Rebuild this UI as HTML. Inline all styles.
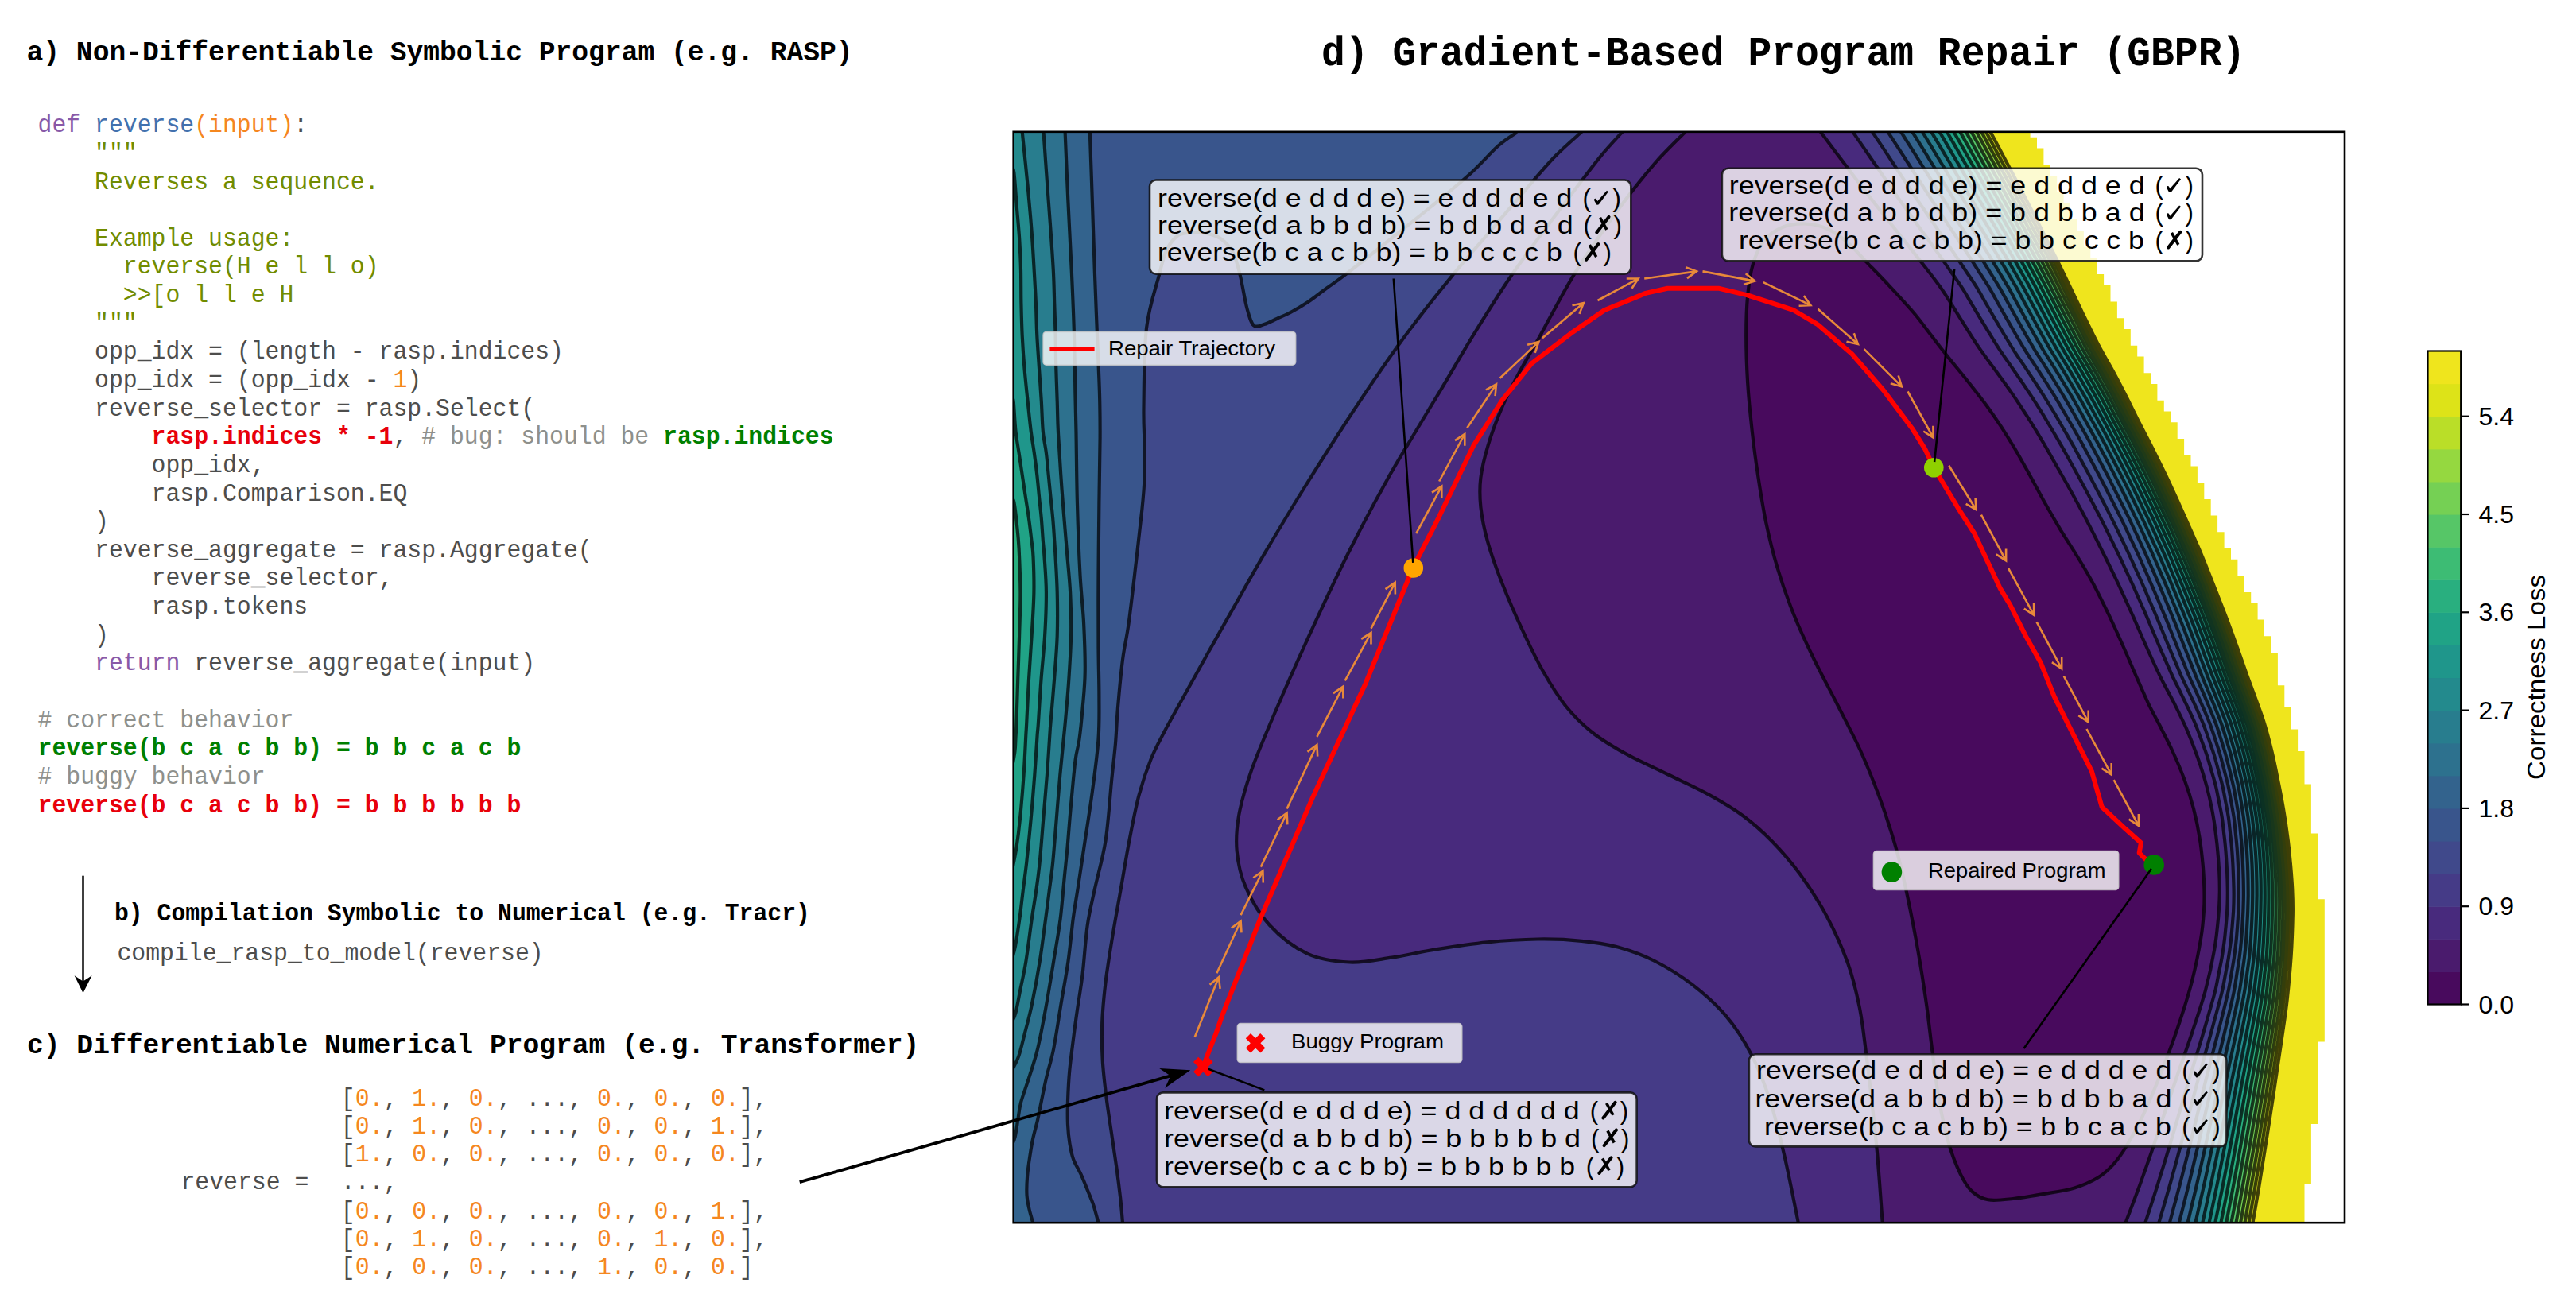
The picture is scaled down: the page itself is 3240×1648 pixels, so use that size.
<!DOCTYPE html><html><head><meta charset="utf-8"><title>GBPR</title><style>html,body{margin:0;padding:0;background:#fff;}svg{display:block;}text{white-space:pre;}</style></head><body>
<svg width="3240" height="1648" viewBox="0 0 3240 1648">
<rect width="3240" height="1648" fill="#fff"/>
<defs><clipPath id="pc"><rect x="1274.7" y="165.8" width="1674.3" height="1372.4"/></clipPath></defs>
<g clip-path="url(#pc)">
<rect x="1274.7" y="165.8" width="1674.3" height="1372.4" fill="#fff"/>
<path d="M1262.7 153.8L2553.6 153.8L2553.6 165.8L2553.6 172.7L2562 172.7L2562 179.6L2562 186.5L2570.4 186.5L2570.4 193.4L2570.4 200.3L2570.4 207.2L2578.8 207.2L2578.8 214.1L2578.8 221L2587.2 221L2587.2 227.9L2587.2 234.8L2587.2 241.7L2595.6 241.7L2595.6 248.6L2595.6 255.5L2604 255.5L2604 262.4L2604 269.2L2604 276.1L2612.5 276.1L2612.5 283L2612.5 289.9L2620.9 289.9L2620.9 296.8L2620.9 303.7L2620.9 310.6L2629.3 310.6L2629.3 317.5L2629.3 324.4L2637.7 324.4L2637.7 331.3L2637.7 338.2L2637.7 345.1L2646.1 345.1L2646.1 352L2646.1 358.9L2654.5 358.9L2654.5 365.8L2654.5 372.7L2654.5 379.6L2662.9 379.6L2662.9 386.5L2662.9 393.4L2662.9 400.3L2671.4 400.3L2671.4 407.2L2671.4 414.1L2679.8 414.1L2679.8 421L2679.8 427.9L2679.8 434.8L2688.2 434.8L2688.2 441.7L2688.2 448.6L2696.6 448.6L2696.6 455.5L2696.6 462.3L2696.6 469.2L2705 469.2L2705 476.1L2705 483L2713.4 483L2713.4 489.9L2713.4 496.8L2713.4 503.7L2721.8 503.7L2721.8 510.6L2721.8 517.5L2730.2 517.5L2730.2 524.4L2730.2 531.3L2738.7 531.3L2738.7 538.2L2738.7 545.1L2738.7 552L2747.1 552L2747.1 558.9L2747.1 565.8L2747.1 572.7L2755.5 572.7L2755.5 579.6L2755.5 586.5L2763.9 586.5L2763.9 593.4L2763.9 600.3L2763.9 607.2L2772.3 607.2L2772.3 614.1L2772.3 621L2772.3 627.9L2780.7 627.9L2780.7 634.8L2780.7 641.7L2780.7 648.6L2789.1 648.6L2789.1 655.5L2789.1 662.3L2789.1 669.2L2797.6 669.2L2797.6 676.1L2797.6 683L2797.6 689.9L2806 689.9L2806 696.8L2806 703.7L2814.4 703.7L2814.4 710.6L2814.4 717.5L2814.4 724.4L2822.8 724.4L2822.8 731.3L2822.8 738.2L2822.8 745.1L2831.2 745.1L2831.2 752L2831.2 758.9L2839.6 758.9L2839.6 765.8L2839.6 772.7L2839.6 779.6L2848 779.6L2848 786.5L2848 793.4L2848 800.3L2856.5 800.3L2856.5 807.2L2856.5 814.1L2856.5 821L2864.9 821L2864.9 827.9L2864.9 834.8L2864.9 841.7L2864.9 848.6L2864.9 855.4L2864.9 862.3L2873.3 862.3L2873.3 869.2L2873.3 876.1L2873.3 883L2873.3 889.9L2881.7 889.9L2881.7 896.8L2881.7 903.7L2881.7 910.6L2881.7 917.5L2890.1 917.5L2890.1 924.4L2890.1 931.3L2890.1 938.2L2890.1 945.1L2898.5 945.1L2898.5 952L2898.5 958.9L2898.5 965.8L2898.5 972.7L2898.5 979.6L2898.5 986.5L2906.9 986.5L2906.9 993.4L2906.9 1000.3L2906.9 1007.2L2906.9 1014.1L2906.9 1021L2906.9 1027.9L2906.9 1034.8L2906.9 1041.7L2906.9 1048.5L2915.3 1048.5L2915.3 1055.4L2915.3 1062.3L2915.3 1069.2L2915.3 1076.1L2915.3 1083L2915.3 1089.9L2915.3 1096.8L2915.3 1103.7L2915.3 1110.6L2915.3 1117.5L2915.3 1124.4L2915.3 1131.3L2923.8 1131.3L2923.8 1138.2L2923.8 1145.1L2923.8 1152L2923.8 1158.9L2923.8 1165.8L2923.8 1172.7L2923.8 1179.6L2923.8 1186.5L2923.8 1193.4L2923.8 1200.3L2923.8 1207.2L2923.8 1214.1L2923.8 1221L2923.8 1227.9L2923.8 1234.8L2923.8 1241.7L2923.8 1248.5L2923.8 1255.4L2923.8 1262.3L2923.8 1269.2L2923.8 1276.1L2923.8 1283L2923.8 1289.9L2923.8 1296.8L2923.8 1303.7L2923.8 1310.6L2915.3 1310.6L2915.3 1317.5L2915.3 1324.4L2915.3 1331.3L2915.3 1338.2L2915.3 1345.1L2915.3 1352L2915.3 1358.9L2915.3 1365.8L2915.3 1372.7L2915.3 1379.6L2915.3 1386.5L2915.3 1393.4L2915.3 1400.3L2915.3 1407.2L2915.3 1414.1L2906.9 1414.1L2906.9 1421L2906.9 1427.9L2906.9 1434.8L2906.9 1441.6L2906.9 1448.5L2906.9 1455.4L2906.9 1462.3L2906.9 1469.2L2906.9 1476.1L2906.9 1483L2906.9 1489.9L2898.5 1489.9L2898.5 1496.8L2898.5 1503.7L2898.5 1510.6L2898.5 1517.5L2898.5 1524.4L2898.5 1531.3L2898.5 1538.2L2898.5 1550.2L1262.7 1550.2 Z" fill="#efe51d"/>
<path d="M1262.7 153.8L2503.5 153.8L2503.5 165.8C2510.7 179.5 2533 221.2 2546.9 248.2C2560.9 275.1 2575.4 303.4 2587.4 327.5C2599.4 351.6 2610.2 374.9 2618.9 392.8C2627.6 410.6 2633.5 422.8 2639.6 434.5C2645.7 446.2 2649.9 452.7 2655.4 462.8C2660.9 472.8 2666.5 483.5 2672.4 495C2678.3 506.5 2684.9 520.3 2690.7 531.8C2696.5 543.2 2701.4 552.3 2707.2 563.8C2712.9 575.2 2718.6 586.4 2725.3 600.5C2732 614.6 2740.7 634 2747.3 648.5C2753.8 663 2759.6 676 2764.4 687.2C2769.3 698.5 2772.3 706.2 2776.4 716.2C2780.4 726.3 2784.5 736.8 2788.7 747.5C2792.9 758.2 2797.2 769.1 2801.5 780.5C2805.8 791.9 2810.2 804.2 2814.4 815.8C2818.5 827.3 2822.6 839.3 2826.4 850C2830.3 860.7 2833.9 870 2837.5 880C2841 890 2844.7 899.3 2848 910C2851.3 920.7 2854.4 932.5 2857.2 944.2C2860.1 956 2862.6 968.6 2865 980.8C2867.5 992.9 2869.9 1005 2871.9 1017.2C2874 1029.5 2875.9 1042 2877.4 1054C2879 1066 2880.1 1078.4 2881.1 1089C2882 1099.6 2882.7 1107.5 2883.2 1117.8C2883.7 1128 2884.1 1136.5 2883.8 1150.5C2883.5 1164.5 2882.9 1184.2 2881.7 1202C2880.5 1219.8 2878.4 1241.6 2876.7 1257.5C2875 1273.4 2873.1 1284.5 2871.3 1297.2C2869.5 1310 2868 1319.4 2865.8 1334.2C2863.6 1349.1 2860.8 1368.2 2858 1386.5C2855.2 1404.8 2851.9 1426.1 2849.1 1444C2846.3 1461.9 2843.7 1478.1 2841.1 1493.8C2838.5 1509.5 2834.8 1530.8 2833.5 1538.2L2833.5 1550.2L1262.7 1550.2 Z" fill="#dde318"/>
<path d="M1262.7 153.8L2498 153.8L2498 165.8C2499.7 169.1 2505 178.9 2508.4 185.4C2511.9 191.9 2515.4 198.5 2518.9 205C2522.3 211.5 2525.8 218.1 2529.3 224.6C2532.8 231.2 2536.3 237.7 2539.7 244.2C2543.2 250.8 2546.5 257.3 2549.9 263.8C2553.3 270.4 2556.7 276.9 2560.1 283.4C2563.4 290 2566.8 296.5 2570.2 303C2573.6 309.6 2577 316.1 2580.3 322.6C2583.6 329.2 2586.8 335.7 2590 342.3C2593.3 348.8 2596.4 355.3 2599.6 361.9C2602.8 368.4 2606 374.9 2609.2 381.5C2612.3 388 2615.6 394.5 2618.8 401.1C2622 407.6 2625.3 414.1 2628.6 420.7C2631.9 427.2 2635.2 433.7 2638.7 440.3C2642.3 446.8 2646.2 453.4 2649.8 459.9C2653.4 466.4 2656.8 473 2660.3 479.5C2663.7 486 2667.2 492.6 2670.6 499.1C2673.9 505.6 2677.1 512.2 2680.4 518.7C2683.7 525.2 2687 531.8 2690.3 538.3C2693.7 544.8 2697.1 551.4 2700.5 557.9C2703.8 564.4 2707 571 2710.3 577.5C2713.5 584.1 2716.8 590.6 2720 597.1C2723.1 603.7 2726.1 610.2 2729.1 616.7C2732.1 623.3 2735.1 629.8 2738.1 636.3C2741.1 642.9 2744.1 649.4 2747 655.9C2750 662.5 2752.9 669 2755.7 675.5C2758.6 682.1 2761.4 688.6 2764.2 695.2C2767 701.7 2769.6 708.2 2772.3 714.8C2774.9 721.3 2777.5 727.8 2780.1 734.4C2782.7 740.9 2785.2 747.4 2787.8 754C2790.4 760.5 2792.9 767 2795.4 773.6C2797.9 780.1 2800.4 786.6 2802.8 793.2C2805.2 799.7 2807.6 806.3 2809.9 812.8C2812.3 819.3 2814.6 825.9 2816.9 832.4C2819.2 838.9 2821.5 845.5 2823.8 852C2826.2 858.5 2828.7 865.1 2831 871.6C2833.4 878.1 2835.8 884.7 2838.1 891.2C2840.4 897.7 2842.9 904.3 2844.9 910.8C2846.9 917.4 2848.5 923.9 2850.2 930.4C2851.9 937 2853.7 943.5 2855.2 950C2856.7 956.6 2858 963.1 2859.4 969.6C2860.7 976.2 2862.1 982.7 2863.4 989.2C2864.6 995.8 2865.9 1002.3 2867 1008.8C2868.2 1015.4 2869.2 1021.9 2870.2 1028.5C2871.2 1035 2872.2 1041.5 2873.1 1048.1C2873.9 1054.6 2874.6 1061.1 2875.3 1067.7C2876 1074.2 2876.7 1080.7 2877.2 1087.3C2877.8 1093.8 2878.2 1100.3 2878.6 1106.9C2879 1113.4 2879.3 1119.9 2879.5 1126.5C2879.6 1133 2879.8 1139.6 2879.7 1146.1C2879.7 1152.6 2879.4 1159.2 2879.2 1165.7C2879 1172.2 2878.7 1178.8 2878.4 1185.3C2878.1 1191.8 2877.9 1198.4 2877.4 1204.9C2877 1211.4 2876.2 1218 2875.6 1224.5C2875 1231 2874.5 1237.6 2873.8 1244.1C2873.2 1250.6 2872.5 1257.2 2871.7 1263.7C2870.9 1270.3 2869.9 1276.8 2869 1283.3C2868.1 1289.9 2867.2 1296.4 2866.2 1302.9C2865.3 1309.5 2864.2 1316 2863.3 1322.5C2862.3 1329.1 2861.3 1335.6 2860.3 1342.1C2859.3 1348.7 2858.3 1355.2 2857.3 1361.7C2856.3 1368.3 2855.3 1374.8 2854.3 1381.4C2853.3 1387.9 2852.2 1394.4 2851.2 1401C2850.2 1407.5 2849.2 1414 2848.1 1420.6C2847.1 1427.1 2846.1 1433.6 2845.1 1440.2C2844 1446.7 2842.9 1453.2 2841.9 1459.8C2840.8 1466.3 2839.7 1472.8 2838.7 1479.4C2837.6 1485.9 2836.5 1492.5 2835.4 1499C2834.3 1505.5 2833.1 1512.1 2832 1518.6C2830.9 1525.1 2829.2 1534.9 2828.6 1538.2L2828.6 1550.2L1262.7 1550.2 Z" fill="#bade28"/>
<path d="M1262.7 153.8L2492.2 153.8L2492.2 165.8C2494 169.1 2499.2 178.9 2502.7 185.4C2506.3 191.9 2509.8 198.5 2513.3 205C2516.8 211.5 2520.3 218.1 2523.8 224.6C2527.3 231.2 2530.9 237.7 2534.4 244.2C2537.8 250.8 2541.2 257.3 2544.7 263.8C2548.1 270.4 2551.5 276.9 2554.9 283.4C2558.4 290 2561.8 296.5 2565.2 303C2568.6 309.6 2572.1 316.1 2575.5 322.6C2578.8 329.2 2582.1 335.7 2585.3 342.3C2588.6 348.8 2591.8 355.3 2595 361.9C2598.3 368.4 2601.4 374.9 2604.6 381.5C2607.9 388 2611.1 394.5 2614.3 401.1C2617.6 407.6 2620.9 414.1 2624.2 420.7C2627.5 427.2 2630.9 433.7 2634.4 440.3C2638 446.8 2641.9 453.4 2645.5 459.9C2649.1 466.4 2652.6 473 2656.1 479.5C2659.6 486 2663.1 492.6 2666.5 499.1C2669.9 505.6 2673.1 512.2 2676.4 518.7C2679.7 525.2 2683 531.8 2686.4 538.3C2689.8 544.8 2693.2 551.4 2696.6 557.9C2699.9 564.4 2703.2 571 2706.4 577.5C2709.7 584.1 2713 590.6 2716.1 597.1C2719.3 603.7 2722.3 610.2 2725.3 616.7C2728.4 623.3 2731.4 629.8 2734.4 636.3C2737.4 642.9 2740.4 649.4 2743.3 655.9C2746.3 662.5 2749.2 669 2752 675.5C2754.9 682.1 2757.8 688.6 2760.5 695.2C2763.3 701.7 2766 708.2 2768.6 714.8C2771.3 721.3 2773.9 727.8 2776.5 734.4C2779.1 740.9 2781.6 747.4 2784.2 754C2786.8 760.5 2789.4 767 2791.9 773.6C2794.4 780.1 2796.8 786.6 2799.2 793.2C2801.7 799.7 2804 806.3 2806.4 812.8C2808.7 819.3 2811 825.9 2813.3 832.4C2815.7 838.9 2817.9 845.5 2820.3 852C2822.7 858.5 2825.2 865.1 2827.6 871.6C2829.9 878.1 2832.3 884.7 2834.6 891.2C2836.9 897.7 2839.4 904.3 2841.5 910.8C2843.5 917.4 2845.1 923.9 2846.8 930.4C2848.5 937 2850.3 943.5 2851.8 950C2853.3 956.6 2854.6 963.1 2856 969.6C2857.3 976.2 2858.7 982.7 2860 989.2C2861.2 995.8 2862.4 1002.3 2863.6 1008.8C2864.7 1015.4 2865.8 1021.9 2866.7 1028.5C2867.7 1035 2868.7 1041.5 2869.5 1048.1C2870.3 1054.6 2871 1061.1 2871.6 1067.7C2872.3 1074.2 2872.9 1080.7 2873.4 1087.3C2874 1093.8 2874.4 1100.3 2874.7 1106.9C2875 1113.4 2875.3 1119.9 2875.4 1126.5C2875.6 1133 2875.7 1139.6 2875.6 1146.1C2875.6 1152.6 2875.3 1159.2 2875.1 1165.7C2874.9 1172.2 2874.6 1178.8 2874.3 1185.3C2874 1191.8 2873.8 1198.4 2873.3 1204.9C2872.9 1211.4 2872.1 1218 2871.5 1224.5C2870.9 1231 2870.3 1237.6 2869.7 1244.1C2869 1250.6 2868.3 1257.2 2867.5 1263.7C2866.6 1270.3 2865.6 1276.8 2864.7 1283.3C2863.7 1289.9 2862.8 1296.4 2861.8 1302.9C2860.8 1309.5 2859.8 1316 2858.8 1322.5C2857.8 1329.1 2856.7 1335.6 2855.7 1342.1C2854.7 1348.7 2853.7 1355.2 2852.7 1361.7C2851.6 1368.3 2850.6 1374.8 2849.6 1381.4C2848.6 1387.9 2847.5 1394.4 2846.5 1401C2845.5 1407.5 2844.4 1414 2843.4 1420.6C2842.3 1427.1 2841.3 1433.6 2840.2 1440.2C2839.2 1446.7 2838.1 1453.2 2837 1459.8C2835.9 1466.3 2834.8 1472.8 2833.7 1479.4C2832.6 1485.9 2831.5 1492.5 2830.4 1499C2829.3 1505.5 2828.1 1512.1 2826.9 1518.6C2825.8 1525.1 2824.1 1534.9 2823.5 1538.2L2823.5 1550.2L1262.7 1550.2 Z" fill="#95d840"/>
<path d="M1262.7 153.8L2486.1 153.8L2486.1 165.8C2487.9 169.1 2493.2 178.9 2496.7 185.4C2500.3 191.9 2503.8 198.5 2507.4 205C2510.9 211.5 2514.5 218.1 2518 224.6C2521.6 231.2 2525.1 237.7 2528.7 244.2C2532.2 250.8 2535.6 257.3 2539.1 263.8C2542.6 270.4 2546 276.9 2549.5 283.4C2553 290 2556.5 296.5 2559.9 303C2563.4 309.6 2566.9 316.1 2570.3 322.6C2573.7 329.2 2577 335.7 2580.3 342.3C2583.6 348.8 2586.9 355.3 2590.2 361.9C2593.5 368.4 2596.6 374.9 2599.9 381.5C2603.1 388 2606.4 394.5 2609.7 401.1C2612.9 407.6 2616.2 414.1 2619.6 420.7C2622.9 427.2 2626.3 433.7 2629.9 440.3C2633.4 446.8 2637.4 453.4 2641 459.9C2644.7 466.4 2648.2 473 2651.7 479.5C2655.3 486 2658.8 492.6 2662.2 499.1C2665.6 505.6 2668.9 512.2 2672.2 518.7C2675.5 525.2 2678.9 531.8 2682.3 538.3C2685.6 544.8 2689.1 551.4 2692.5 557.9C2695.8 564.4 2699.1 571 2702.3 577.5C2705.6 584.1 2708.9 590.6 2712.1 597.1C2715.2 603.7 2718.3 610.2 2721.3 616.7C2724.4 623.3 2727.4 629.8 2730.4 636.3C2733.4 642.9 2736.4 649.4 2739.4 655.9C2742.3 662.5 2745.3 669 2748.1 675.5C2751 682.1 2753.9 688.6 2756.7 695.2C2759.4 701.7 2762.1 708.2 2764.8 714.8C2767.4 721.3 2770.1 727.8 2772.7 734.4C2775.3 740.9 2777.9 747.4 2780.4 754C2783 760.5 2785.6 767 2788.1 773.6C2790.6 780.1 2793.1 786.6 2795.5 793.2C2797.9 799.7 2800.3 806.3 2802.7 812.8C2805 819.3 2807.3 825.9 2809.6 832.4C2811.9 838.9 2814.2 845.5 2816.6 852C2819 858.5 2821.5 865.1 2823.9 871.6C2826.3 878.1 2828.7 884.7 2831 891.2C2833.3 897.7 2835.8 904.3 2837.9 910.8C2839.9 917.4 2841.5 923.9 2843.2 930.4C2844.9 937 2846.7 943.5 2848.2 950C2849.7 956.6 2851.1 963.1 2852.4 969.6C2853.8 976.2 2855.2 982.7 2856.4 989.2C2857.7 995.8 2858.9 1002.3 2860 1008.8C2861.1 1015.4 2862.1 1021.9 2863.1 1028.5C2864.1 1035 2865 1041.5 2865.8 1048.1C2866.5 1054.6 2867.2 1061.1 2867.8 1067.7C2868.4 1074.2 2869.1 1080.7 2869.5 1087.3C2870 1093.8 2870.4 1100.3 2870.7 1106.9C2871 1113.4 2871.2 1119.9 2871.3 1126.5C2871.4 1133 2871.5 1139.6 2871.4 1146.1C2871.3 1152.6 2871.1 1159.2 2870.9 1165.7C2870.7 1172.2 2870.4 1178.8 2870.1 1185.3C2869.8 1191.8 2869.6 1198.4 2869.1 1204.9C2868.6 1211.4 2867.8 1218 2867.2 1224.5C2866.6 1231 2866 1237.6 2865.4 1244.1C2864.7 1250.6 2863.9 1257.2 2863 1263.7C2862.2 1270.3 2861.1 1276.8 2860.2 1283.3C2859.2 1289.9 2858.3 1296.4 2857.2 1302.9C2856.2 1309.5 2855.2 1316 2854.1 1322.5C2853.1 1329.1 2852 1335.6 2851 1342.1C2849.9 1348.7 2848.9 1355.2 2847.8 1361.7C2846.8 1368.3 2845.8 1374.8 2844.7 1381.4C2843.7 1387.9 2842.6 1394.4 2841.5 1401C2840.5 1407.5 2839.4 1414 2838.4 1420.6C2837.3 1427.1 2836.3 1433.6 2835.2 1440.2C2834.1 1446.7 2833 1453.2 2831.9 1459.8C2830.8 1466.3 2829.7 1472.8 2828.5 1479.4C2827.4 1485.9 2826.3 1492.5 2825.2 1499C2824 1505.5 2822.8 1512.1 2821.6 1518.6C2820.5 1525.1 2818.7 1534.9 2818.1 1538.2L2818.1 1550.2L1262.7 1550.2 Z" fill="#75d054"/>
<path d="M1262.7 153.8L2479.6 153.8L2479.6 165.8C2481.4 169.1 2486.8 178.9 2490.3 185.4C2493.9 191.9 2497.5 198.5 2501.1 205C2504.7 211.5 2508.3 218.1 2511.9 224.6C2515.4 231.2 2519.1 237.7 2522.6 244.2C2526.2 250.8 2529.7 257.3 2533.2 263.8C2536.7 270.4 2540.3 276.9 2543.8 283.4C2547.3 290 2550.8 296.5 2554.3 303C2557.9 309.6 2561.4 316.1 2564.9 322.6C2568.3 329.2 2571.7 335.7 2575 342.3C2578.4 348.8 2581.8 355.3 2585.1 361.9C2588.4 368.4 2591.5 374.9 2594.8 381.5C2598.1 388 2601.4 394.5 2604.7 401.1C2608 407.6 2611.3 414.1 2614.7 420.7C2618.1 427.2 2621.4 433.7 2625 440.3C2628.6 446.8 2632.6 453.4 2636.3 459.9C2640 466.4 2643.5 473 2647.1 479.5C2650.6 486 2654.2 492.6 2657.7 499.1C2661.1 505.6 2664.4 512.2 2667.7 518.7C2671.1 525.2 2674.5 531.8 2677.9 538.3C2681.2 544.8 2684.7 551.4 2688.1 557.9C2691.5 564.4 2694.7 571 2698 577.5C2701.3 584.1 2704.6 590.6 2707.8 597.1C2711 603.7 2714 610.2 2717.1 616.7C2720.1 623.3 2723.2 629.8 2726.2 636.3C2729.2 642.9 2732.3 649.4 2735.2 655.9C2738.2 662.5 2741.1 669 2744 675.5C2746.9 682.1 2749.8 688.6 2752.6 695.2C2755.3 701.7 2758 708.2 2760.7 714.8C2763.4 721.3 2766 727.8 2768.6 734.4C2771.2 740.9 2773.8 747.4 2776.4 754C2779 760.5 2781.6 767 2784.1 773.6C2786.7 780.1 2789.1 786.6 2791.6 793.2C2794 799.7 2796.4 806.3 2798.7 812.8C2801.1 819.3 2803.4 825.9 2805.7 832.4C2808 838.9 2810.3 845.5 2812.7 852C2815.1 858.5 2817.6 865.1 2820 871.6C2822.4 878.1 2824.8 884.7 2827.2 891.2C2829.5 897.7 2832 904.3 2834.1 910.8C2836.1 917.4 2837.7 923.9 2839.5 930.4C2841.2 937 2842.9 943.5 2844.5 950C2846 956.6 2847.3 963.1 2848.7 969.6C2850.1 976.2 2851.5 982.7 2852.7 989.2C2854 995.8 2855.1 1002.3 2856.2 1008.8C2857.3 1015.4 2858.4 1021.9 2859.3 1028.5C2860.3 1035 2861.1 1041.5 2861.9 1048.1C2862.6 1054.6 2863.3 1061.1 2863.9 1067.7C2864.5 1074.2 2865 1080.7 2865.5 1087.3C2865.9 1093.8 2866.3 1100.3 2866.5 1106.9C2866.8 1113.4 2867 1119.9 2867.1 1126.5C2867.2 1133 2867.2 1139.6 2867.1 1146.1C2867 1152.6 2866.8 1159.2 2866.6 1165.7C2866.4 1172.2 2866.1 1178.8 2865.8 1185.3C2865.5 1191.8 2865.2 1198.4 2864.7 1204.9C2864.2 1211.4 2863.4 1218 2862.8 1224.5C2862.1 1231 2861.6 1237.6 2860.9 1244.1C2860.1 1250.6 2859.3 1257.2 2858.4 1263.7C2857.5 1270.3 2856.5 1276.8 2855.5 1283.3C2854.5 1289.9 2853.5 1296.4 2852.5 1302.9C2851.4 1309.5 2850.3 1316 2849.2 1322.5C2848.2 1329.1 2847.1 1335.6 2846 1342.1C2844.9 1348.7 2843.9 1355.2 2842.8 1361.7C2841.7 1368.3 2840.7 1374.8 2839.6 1381.4C2838.5 1387.9 2837.5 1394.4 2836.4 1401C2835.3 1407.5 2834.2 1414 2833.1 1420.6C2832 1427.1 2831 1433.6 2829.9 1440.2C2828.8 1446.7 2827.6 1453.2 2826.5 1459.8C2825.4 1466.3 2824.2 1472.8 2823.1 1479.4C2821.9 1485.9 2820.8 1492.5 2819.6 1499C2818.5 1505.5 2817.2 1512.1 2816 1518.6C2814.9 1525.1 2813.1 1534.9 2812.5 1538.2L2812.5 1550.2L1262.7 1550.2 Z" fill="#56c667"/>
<path d="M1262.7 153.8L2472.7 153.8L2472.7 165.8C2474.5 169.1 2479.9 178.9 2483.5 185.4C2487.2 191.9 2490.8 198.5 2494.4 205C2498 211.5 2501.7 218.1 2505.3 224.6C2508.9 231.2 2512.6 237.7 2516.2 244.2C2519.8 250.8 2523.4 257.3 2526.9 263.8C2530.5 270.4 2534.1 276.9 2537.7 283.4C2541.2 290 2544.8 296.5 2548.4 303C2552 309.6 2555.6 316.1 2559.1 322.6C2562.6 329.2 2566 335.7 2569.4 342.3C2572.8 348.8 2576.3 355.3 2579.6 361.9C2582.9 368.4 2586.1 374.9 2589.4 381.5C2592.7 388 2596 394.5 2599.4 401.1C2602.7 407.6 2606 414.1 2609.4 420.7C2612.9 427.2 2616.2 433.7 2619.9 440.3C2623.5 446.8 2627.5 453.4 2631.2 459.9C2634.9 466.4 2638.5 473 2642.1 479.5C2645.7 486 2649.3 492.6 2652.8 499.1C2656.3 505.6 2659.6 512.2 2663 518.7C2666.4 525.2 2669.8 531.8 2673.2 538.3C2676.6 544.8 2680.1 551.4 2683.5 557.9C2686.8 564.4 2690.1 571 2693.4 577.5C2696.7 584.1 2700 590.6 2703.2 597.1C2706.4 603.7 2709.5 610.2 2712.6 616.7C2715.6 623.3 2718.7 629.8 2721.7 636.3C2724.8 642.9 2727.8 649.4 2730.8 655.9C2733.8 662.5 2736.7 669 2739.6 675.5C2742.5 682.1 2745.4 688.6 2748.2 695.2C2751 701.7 2753.7 708.2 2756.4 714.8C2759.1 721.3 2761.7 727.8 2764.4 734.4C2767 740.9 2769.6 747.4 2772.2 754C2774.8 760.5 2777.4 767 2779.9 773.6C2782.5 780.1 2784.9 786.6 2787.4 793.2C2789.8 799.7 2792.2 806.3 2794.5 812.8C2796.9 819.3 2799.2 825.9 2801.5 832.4C2803.9 838.9 2806.1 845.5 2808.5 852C2810.9 858.5 2813.5 865.1 2815.9 871.6C2818.4 878.1 2820.8 884.7 2823.2 891.2C2825.5 897.7 2828 904.3 2830.1 910.8C2832.1 917.4 2833.8 923.9 2835.5 930.4C2837.2 937 2839 943.5 2840.6 950C2842.1 956.6 2843.4 963.1 2844.8 969.6C2846.2 976.2 2847.6 982.7 2848.8 989.2C2850.1 995.8 2851.2 1002.3 2852.3 1008.8C2853.4 1015.4 2854.5 1021.9 2855.4 1028.5C2856.3 1035 2857.1 1041.5 2857.9 1048.1C2858.6 1054.6 2859.2 1061.1 2859.8 1067.7C2860.4 1074.2 2860.9 1080.7 2861.3 1087.3C2861.7 1093.8 2862 1100.3 2862.3 1106.9C2862.5 1113.4 2862.6 1119.9 2862.7 1126.5C2862.8 1133 2862.7 1139.6 2862.6 1146.1C2862.5 1152.6 2862.3 1159.2 2862.1 1165.7C2861.9 1172.2 2861.7 1178.8 2861.3 1185.3C2861 1191.8 2860.7 1198.4 2860.2 1204.9C2859.7 1211.4 2858.9 1218 2858.2 1224.5C2857.5 1231 2857 1237.6 2856.2 1244.1C2855.4 1250.6 2854.6 1257.2 2853.7 1263.7C2852.7 1270.3 2851.6 1276.8 2850.6 1283.3C2849.6 1289.9 2848.6 1296.4 2847.5 1302.9C2846.4 1309.5 2845.3 1316 2844.2 1322.5C2843 1329.1 2841.9 1335.6 2840.8 1342.1C2839.7 1348.7 2838.6 1355.2 2837.5 1361.7C2836.4 1368.3 2835.4 1374.8 2834.3 1381.4C2833.2 1387.9 2832 1394.4 2830.9 1401C2829.8 1407.5 2828.7 1414 2827.6 1420.6C2826.5 1427.1 2825.4 1433.6 2824.3 1440.2C2823.2 1446.7 2822 1453.2 2820.8 1459.8C2819.7 1466.3 2818.5 1472.8 2817.4 1479.4C2816.2 1485.9 2815 1492.5 2813.8 1499C2812.6 1505.5 2811.4 1512.1 2810.2 1518.6C2808.9 1525.1 2807.1 1534.9 2806.5 1538.2L2806.5 1550.2L1262.7 1550.2 Z" fill="#3dbc74"/>
<path d="M1262.7 153.8L2465.3 153.8L2465.3 165.8C2467.1 169.1 2472.6 178.9 2476.3 185.4C2480 191.9 2483.6 198.5 2487.3 205C2491 211.5 2494.6 218.1 2498.3 224.6C2502 231.2 2505.7 237.7 2509.3 244.2C2513 250.8 2516.6 257.3 2520.2 263.8C2523.9 270.4 2527.5 276.9 2531.1 283.4C2534.7 290 2538.4 296.5 2542 303C2545.6 309.6 2549.3 316.1 2552.9 322.6C2556.5 329.2 2559.9 335.7 2563.4 342.3C2566.9 348.8 2570.4 355.3 2573.8 361.9C2577.1 368.4 2580.4 374.9 2583.7 381.5C2587 388 2590.3 394.5 2593.7 401.1C2597.1 407.6 2600.4 414.1 2603.9 420.7C2607.3 427.2 2610.7 433.7 2614.4 440.3C2618 446.8 2622.1 453.4 2625.8 459.9C2629.6 466.4 2633.2 473 2636.9 479.5C2640.5 486 2644.1 492.6 2647.7 499.1C2651.2 505.6 2654.5 512.2 2657.9 518.7C2661.3 525.2 2664.7 531.8 2668.2 538.3C2671.6 544.8 2675.1 551.4 2678.5 557.9C2681.9 564.4 2685.2 571 2688.5 577.5C2691.8 584.1 2695.1 590.6 2698.4 597.1C2701.6 603.7 2704.6 610.2 2707.8 616.7C2710.9 623.3 2713.9 629.8 2717 636.3C2720 642.9 2723.1 649.4 2726.1 655.9C2729.1 662.5 2732 669 2734.9 675.5C2737.8 682.1 2740.8 688.6 2743.6 695.2C2746.4 701.7 2749.1 708.2 2751.8 714.8C2754.5 721.3 2757.2 727.8 2759.8 734.4C2762.4 740.9 2765 747.4 2767.7 754C2770.3 760.5 2772.9 767 2775.4 773.6C2778 780.1 2780.5 786.6 2782.9 793.2C2785.4 799.7 2787.7 806.3 2790.1 812.8C2792.5 819.3 2794.8 825.9 2797.1 832.4C2799.5 838.9 2801.7 845.5 2804.2 852C2806.6 858.5 2809.2 865.1 2811.6 871.6C2814.1 878.1 2816.5 884.7 2818.9 891.2C2821.3 897.7 2823.8 904.3 2825.9 910.8C2827.9 917.4 2829.6 923.9 2831.3 930.4C2833.1 937 2834.9 943.5 2836.4 950C2838 956.6 2839.3 963.1 2840.7 969.6C2842.1 976.2 2843.5 982.7 2844.8 989.2C2846 995.8 2847.2 1002.3 2848.2 1008.8C2849.3 1015.4 2850.4 1021.9 2851.3 1028.5C2852.2 1035 2853 1041.5 2853.7 1048.1C2854.4 1054.6 2855 1061.1 2855.5 1067.7C2856.1 1074.2 2856.6 1080.7 2857 1087.3C2857.3 1093.8 2857.6 1100.3 2857.8 1106.9C2858 1113.4 2858.2 1119.9 2858.2 1126.5C2858.2 1133 2858.1 1139.6 2858 1146.1C2857.9 1152.6 2857.7 1159.2 2857.5 1165.7C2857.3 1172.2 2857 1178.8 2856.7 1185.3C2856.4 1191.8 2856 1198.4 2855.5 1204.9C2854.9 1211.4 2854.1 1218 2853.4 1224.5C2852.7 1231 2852.1 1237.6 2851.4 1244.1C2850.6 1250.6 2849.6 1257.2 2848.7 1263.7C2847.7 1270.3 2846.6 1276.8 2845.5 1283.3C2844.4 1289.9 2843.4 1296.4 2842.3 1302.9C2841.2 1309.5 2840 1316 2838.8 1322.5C2837.7 1329.1 2836.5 1335.6 2835.4 1342.1C2834.3 1348.7 2833.1 1355.2 2832 1361.7C2830.9 1368.3 2829.8 1374.8 2828.6 1381.4C2827.5 1387.9 2826.4 1394.4 2825.2 1401C2824.1 1407.5 2822.9 1414 2821.8 1420.6C2820.7 1427.1 2819.6 1433.6 2818.4 1440.2C2817.3 1446.7 2816.1 1453.2 2814.9 1459.8C2813.7 1466.3 2812.5 1472.8 2811.3 1479.4C2810.1 1485.9 2808.9 1492.5 2807.7 1499C2806.5 1505.5 2805.2 1512.1 2803.9 1518.6C2802.7 1525.1 2800.8 1534.9 2800.2 1538.2L2800.2 1550.2L1262.7 1550.2 Z" fill="#29af7f"/>
<path d="M1262.7 153.8L2457.3 153.8L2457.3 165.8C2459.2 169.1 2464.8 178.9 2468.5 185.4C2472.2 191.9 2475.9 198.5 2479.6 205C2483.3 211.5 2487.1 218.1 2490.8 224.6C2494.5 231.2 2498.2 237.7 2501.9 244.2C2505.6 250.8 2509.3 257.3 2513 263.8C2516.7 270.4 2520.4 276.9 2524.1 283.4C2527.8 290 2531.5 296.5 2535.2 303C2538.9 309.6 2542.6 316.1 2546.2 322.6C2549.9 329.2 2553.4 335.7 2556.9 342.3C2560.5 348.8 2564 355.3 2567.5 361.9C2570.9 368.4 2574.1 374.9 2577.5 381.5C2580.9 388 2584.2 394.5 2587.6 401.1C2591 407.6 2594.4 414.1 2597.9 420.7C2601.3 427.2 2604.8 433.7 2608.5 440.3C2612.2 446.8 2616.2 453.4 2620 459.9C2623.8 466.4 2627.5 473 2631.2 479.5C2634.9 486 2638.6 492.6 2642.1 499.1C2645.7 505.6 2649 512.2 2652.5 518.7C2655.9 525.2 2659.4 531.8 2662.8 538.3C2666.3 544.8 2669.8 551.4 2673.2 557.9C2676.6 564.4 2679.9 571 2683.2 577.5C2686.6 584.1 2689.9 590.6 2693.1 597.1C2696.4 603.7 2699.5 610.2 2702.6 616.7C2705.7 623.3 2708.8 629.8 2711.9 636.3C2714.9 642.9 2718 649.4 2721 655.9C2724.1 662.5 2727 669 2729.9 675.5C2732.8 682.1 2735.8 688.6 2738.6 695.2C2741.4 701.7 2744.1 708.2 2746.9 714.8C2749.6 721.3 2752.3 727.8 2754.9 734.4C2757.6 740.9 2760.2 747.4 2762.8 754C2765.4 760.5 2768.1 767 2770.6 773.6C2773.2 780.1 2775.7 786.6 2778.1 793.2C2780.6 799.7 2783 806.3 2785.4 812.8C2787.7 819.3 2790.1 825.9 2792.4 832.4C2794.8 838.9 2797.1 845.5 2799.5 852C2801.9 858.5 2804.6 865.1 2807 871.6C2809.5 878.1 2812 884.7 2814.4 891.2C2816.8 897.7 2819.3 904.3 2821.4 910.8C2823.5 917.4 2825.2 923.9 2826.9 930.4C2828.7 937 2830.5 943.5 2832.1 950C2833.7 956.6 2835 963.1 2836.4 969.6C2837.8 976.2 2839.3 982.7 2840.5 989.2C2841.8 995.8 2842.9 1002.3 2844 1008.8C2845 1015.4 2846.1 1021.9 2847 1028.5C2847.9 1035 2848.6 1041.5 2849.3 1048.1C2850 1054.6 2850.6 1061.1 2851.1 1067.7C2851.6 1074.2 2852.1 1080.7 2852.4 1087.3C2852.8 1093.8 2853.1 1100.3 2853.2 1106.9C2853.4 1113.4 2853.5 1119.9 2853.5 1126.5C2853.5 1133 2853.4 1139.6 2853.3 1146.1C2853.2 1152.6 2853 1159.2 2852.8 1165.7C2852.5 1172.2 2852.3 1178.8 2851.9 1185.3C2851.5 1191.8 2851.2 1198.4 2850.6 1204.9C2850 1211.4 2849.2 1218 2848.4 1224.5C2847.7 1231 2847.1 1237.6 2846.3 1244.1C2845.5 1250.6 2844.5 1257.2 2843.5 1263.7C2842.4 1270.3 2841.3 1276.8 2840.2 1283.3C2839.1 1289.9 2838 1296.4 2836.8 1302.9C2835.6 1309.5 2834.4 1316 2833.2 1322.5C2832.1 1329.1 2830.9 1335.6 2829.7 1342.1C2828.5 1348.7 2827.3 1355.2 2826.2 1361.7C2825 1368.3 2823.9 1374.8 2822.7 1381.4C2821.5 1387.9 2820.4 1394.4 2819.2 1401C2818 1407.5 2816.9 1414 2815.7 1420.6C2814.5 1427.1 2813.4 1433.6 2812.2 1440.2C2811 1446.7 2809.8 1453.2 2808.6 1459.8C2807.4 1466.3 2806.1 1472.8 2804.9 1479.4C2803.7 1485.9 2802.4 1492.5 2801.2 1499C2799.9 1505.5 2798.6 1512.1 2797.3 1518.6C2796 1525.1 2794.1 1534.9 2793.4 1538.2L2793.4 1550.2L1262.7 1550.2L1262.7 965L1273 965C1273.6 961.7 1275.8 951.2 1276.5 945C1277.2 938.8 1277.2 933.9 1277.5 928C1277.8 922.1 1278 921.9 1278.4 909.7C1278.9 897.5 1279.6 873.1 1280.2 854.8C1280.8 836.5 1281.6 818.1 1282.1 799.8C1282.6 781.5 1283.5 763.2 1283.4 744.9C1283.3 726.6 1282.3 704.3 1281.6 690C1280.8 675.7 1279.9 668.9 1278.9 659.2C1277.9 649.5 1276.4 636.9 1275.4 631.7C1274.4 626.5 1273.4 628.6 1273 628L1262.7 628 Z" fill="#20a386"/>
<path d="M1262.7 153.8L2448.8 153.8L2448.8 165.8C2450.7 169.1 2456.3 178.9 2460.1 185.4C2463.8 191.9 2467.6 198.5 2471.3 205C2475.1 211.5 2478.9 218.1 2482.6 224.6C2486.4 231.2 2490.2 237.7 2493.9 244.2C2497.7 250.8 2501.5 257.3 2505.2 263.8C2509 270.4 2512.7 276.9 2516.5 283.4C2520.3 290 2524 296.5 2527.8 303C2531.5 309.6 2535.4 316.1 2539 322.6C2542.7 329.2 2546.3 335.7 2549.9 342.3C2553.5 348.8 2557.2 355.3 2560.7 361.9C2564.2 368.4 2567.4 374.9 2570.8 381.5C2574.2 388 2577.6 394.5 2581 401.1C2584.5 407.6 2587.9 414.1 2591.4 420.7C2594.9 427.2 2598.3 433.7 2602.1 440.3C2605.8 446.8 2609.9 453.4 2613.8 459.9C2617.6 466.4 2621.3 473 2625.1 479.5C2628.8 486 2632.5 492.6 2636.1 499.1C2639.7 505.6 2643.1 512.2 2646.6 518.7C2650.1 525.2 2653.6 531.8 2657 538.3C2660.5 544.8 2664.1 551.4 2667.5 557.9C2670.9 564.4 2674.2 571 2677.6 577.5C2680.9 584.1 2684.3 590.6 2687.5 597.1C2690.8 603.7 2693.9 610.2 2697 616.7C2700.2 623.3 2703.3 629.8 2706.4 636.3C2709.5 642.9 2712.6 649.4 2715.6 655.9C2718.6 662.5 2721.6 669 2724.5 675.5C2727.5 682.1 2730.4 688.6 2733.3 695.2C2736.1 701.7 2738.8 708.2 2741.6 714.8C2744.3 721.3 2747 727.8 2749.7 734.4C2752.4 740.9 2755 747.4 2757.6 754C2760.2 760.5 2762.9 767 2765.5 773.6C2768 780.1 2770.6 786.6 2773 793.2C2775.5 799.7 2777.9 806.3 2780.3 812.8C2782.7 819.3 2785 825.9 2787.4 832.4C2789.8 838.9 2792 845.5 2794.5 852C2797 858.5 2799.6 865.1 2802.1 871.6C2804.7 878.1 2807.2 884.7 2809.6 891.2C2812 897.7 2814.6 904.3 2816.7 910.8C2818.8 917.4 2820.5 923.9 2822.3 930.4C2824.1 937 2825.9 943.5 2827.5 950C2829.1 956.6 2830.5 963.1 2831.9 969.6C2833.3 976.2 2834.8 982.7 2836.1 989.2C2837.3 995.8 2838.4 1002.3 2839.5 1008.8C2840.5 1015.4 2841.6 1021.9 2842.5 1028.5C2843.4 1035 2844.1 1041.5 2844.7 1048.1C2845.4 1054.6 2846 1061.1 2846.5 1067.7C2847 1074.2 2847.4 1080.7 2847.8 1087.3C2848.1 1093.8 2848.3 1100.3 2848.5 1106.9C2848.6 1113.4 2848.7 1119.9 2848.7 1126.5C2848.7 1133 2848.6 1139.6 2848.4 1146.1C2848.3 1152.6 2848.1 1159.2 2847.8 1165.7C2847.6 1172.2 2847.3 1178.8 2846.9 1185.3C2846.5 1191.8 2846.1 1198.4 2845.5 1204.9C2844.9 1211.4 2844 1218 2843.3 1224.5C2842.5 1231 2841.9 1237.6 2841 1244.1C2840.1 1250.6 2839.1 1257.2 2838 1263.7C2836.9 1270.3 2835.7 1276.8 2834.6 1283.3C2833.4 1289.9 2832.3 1296.4 2831.1 1302.9C2829.9 1309.5 2828.6 1316 2827.4 1322.5C2826.1 1329.1 2824.9 1335.6 2823.7 1342.1C2822.5 1348.7 2821.2 1355.2 2820 1361.7C2818.8 1368.3 2817.6 1374.8 2816.4 1381.4C2815.2 1387.9 2814 1394.4 2812.8 1401C2811.6 1407.5 2810.4 1414 2809.2 1420.6C2808 1427.1 2806.8 1433.6 2805.6 1440.2C2804.4 1446.7 2803.1 1453.2 2801.9 1459.8C2800.6 1466.3 2799.4 1472.8 2798.1 1479.4C2796.8 1485.9 2795.6 1492.5 2794.3 1499C2792.9 1505.5 2791.6 1512.1 2790.3 1518.6C2788.9 1525.1 2786.9 1534.9 2786.3 1538.2L2786.3 1550.2L1262.7 1550.2L1262.7 1095L1273 1095C1273.9 1090.2 1276.7 1077.4 1278.4 1066.5C1280.1 1055.6 1281.5 1045.1 1283 1029.8C1284.5 1014.5 1286.4 992.4 1287.6 974.9C1288.8 957.4 1289.7 935.9 1290.3 925C1290.9 914.1 1290.6 921.4 1291.2 909.7C1291.8 898 1292.9 873.1 1294 854.8C1295.1 836.5 1296.5 818.1 1297.6 799.8C1298.7 781.5 1300.1 761.5 1300.4 744.9C1300.7 728.3 1300 710.9 1299.5 700C1299 689.1 1298.3 687.8 1297.4 679.8C1296.5 671.8 1295.3 661.5 1294 652.3C1292.7 643.1 1291.2 633.9 1289.8 624.8C1288.4 615.6 1287.1 606.5 1285.7 597.4C1284.3 588.2 1283 579 1281.6 569.9C1280.2 560.8 1278.7 553.3 1277.5 542.5C1276.3 531.7 1275.5 511.6 1274.7 505C1274 498.4 1273.3 503.3 1273 503L1262.7 503 Z" fill="#1f968b"/>
<path d="M1262.7 153.8L2439.5 153.8L2439.5 165.8C2441.4 169.1 2447.1 178.9 2450.9 185.4C2454.7 191.9 2458.5 198.5 2462.3 205C2466.2 211.5 2470 218.1 2473.8 224.6C2477.6 231.2 2481.5 237.7 2485.3 244.2C2489.1 250.8 2492.9 257.3 2496.8 263.8C2500.6 270.4 2504.4 276.9 2508.3 283.4C2512.1 290 2515.9 296.5 2519.8 303C2523.6 309.6 2527.5 316.1 2531.2 322.6C2535 329.2 2538.7 335.7 2542.3 342.3C2546 348.8 2549.8 355.3 2553.3 361.9C2556.9 368.4 2560.1 374.9 2563.6 381.5C2567 388 2570.4 394.5 2573.9 401.1C2577.4 407.6 2580.8 414.1 2584.3 420.7C2587.9 427.2 2591.4 433.7 2595.2 440.3C2598.9 446.8 2603.1 453.4 2607 459.9C2610.9 466.4 2614.6 473 2618.4 479.5C2622.2 486 2626 492.6 2629.6 499.1C2633.3 505.6 2636.7 512.2 2640.3 518.7C2643.8 525.2 2647.3 531.8 2650.8 538.3C2654.3 544.8 2657.9 551.4 2661.3 557.9C2664.8 564.4 2668.1 571 2671.4 577.5C2674.8 584.1 2678.2 590.6 2681.4 597.1C2684.7 603.7 2687.9 610.2 2691 616.7C2694.2 623.3 2697.3 629.8 2700.4 636.3C2703.6 642.9 2706.7 649.4 2709.7 655.9C2712.8 662.5 2715.7 669 2718.7 675.5C2721.6 682.1 2724.6 688.6 2727.5 695.2C2730.3 701.7 2733.1 708.2 2735.8 714.8C2738.6 721.3 2741.3 727.8 2744 734.4C2746.7 740.9 2749.3 747.4 2752 754C2754.6 760.5 2757.3 767 2759.9 773.6C2762.5 780.1 2765 786.6 2767.5 793.2C2770 799.7 2772.4 806.3 2774.8 812.8C2777.2 819.3 2779.6 825.9 2781.9 832.4C2784.3 838.9 2786.7 845.5 2789.1 852C2791.6 858.5 2794.4 865.1 2796.9 871.6C2799.5 878.1 2802 884.7 2804.5 891.2C2806.9 897.7 2809.5 904.3 2811.6 910.8C2813.8 917.4 2815.5 923.9 2817.3 930.4C2819.2 937 2821 943.5 2822.6 950C2824.3 956.6 2825.6 963.1 2827.1 969.6C2828.5 976.2 2830.1 982.7 2831.3 989.2C2832.6 995.8 2833.7 1002.3 2834.7 1008.8C2835.8 1015.4 2836.9 1021.9 2837.8 1028.5C2838.6 1035 2839.3 1041.5 2840 1048.1C2840.6 1054.6 2841.2 1061.1 2841.7 1067.7C2842.2 1074.2 2842.6 1080.7 2842.9 1087.3C2843.2 1093.8 2843.4 1100.3 2843.6 1106.9C2843.7 1113.4 2843.8 1119.9 2843.7 1126.5C2843.7 1133 2843.5 1139.6 2843.4 1146.1C2843.2 1152.6 2843 1159.2 2842.7 1165.7C2842.5 1172.2 2842.2 1178.8 2841.7 1185.3C2841.3 1191.8 2840.9 1198.4 2840.2 1204.9C2839.6 1211.4 2838.6 1218 2837.9 1224.5C2837.1 1231 2836.4 1237.6 2835.5 1244.1C2834.6 1250.6 2833.4 1257.2 2832.3 1263.7C2831.2 1270.3 2829.9 1276.8 2828.7 1283.3C2827.5 1289.9 2826.3 1296.4 2825 1302.9C2823.8 1309.5 2822.4 1316 2821.2 1322.5C2819.9 1329.1 2818.6 1335.6 2817.3 1342.1C2816 1348.7 2814.8 1355.2 2813.5 1361.7C2812.3 1368.3 2811.1 1374.8 2809.8 1381.4C2808.6 1387.9 2807.3 1394.4 2806 1401C2804.8 1407.5 2803.5 1414 2802.3 1420.6C2801.1 1427.1 2799.8 1433.6 2798.6 1440.2C2797.3 1446.7 2796 1453.2 2794.7 1459.8C2793.4 1466.3 2792.1 1472.8 2790.8 1479.4C2789.5 1485.9 2788.2 1492.5 2786.8 1499C2785.5 1505.5 2784.1 1512.1 2782.7 1518.6C2781.3 1525.1 2779.3 1534.9 2778.6 1538.2L2778.6 1550.2L1262.7 1550.2L1262.7 1206L1273 1206C1273.7 1203.3 1275.4 1198.5 1277 1190C1278.6 1181.5 1280.9 1166.4 1282.5 1155C1284.1 1143.6 1285.1 1133.1 1286.6 1121.4C1288 1109.7 1289.5 1100.1 1291.2 1084.8C1292.9 1069.5 1295 1048.1 1296.7 1029.8C1298.4 1011.5 1300 992.4 1301.3 974.9C1302.6 957.4 1303.8 935.9 1304.6 925C1305.4 914.1 1305.1 921.4 1305.9 909.7C1306.7 898 1308.1 873.1 1309.5 854.8C1310.9 836.5 1313 818.1 1314.1 799.8C1315.2 781.5 1316 761.5 1315.9 744.9C1315.8 728.3 1314.2 710.9 1313.5 700C1312.8 689.1 1312.4 687.8 1311.8 679.8C1311.2 671.8 1310.6 661.5 1309.8 652.3C1309 643.1 1307.9 633.9 1307 624.8C1306.1 615.6 1305.3 606.5 1304.3 597.4C1303.3 588.2 1302.1 579 1300.8 569.9C1299.5 560.8 1298.1 553.4 1296.7 542.5C1295.3 531.6 1294 518 1292.6 504.8C1291.2 491.7 1289.7 477.3 1288.5 463.6C1287.3 449.9 1286.4 436.1 1285.7 422.4C1285 408.7 1284.7 394.9 1284.4 381.2C1284.1 367.5 1284.3 353.1 1284 340C1283.7 326.9 1283.1 315.4 1282.3 302.3C1281.5 289.2 1280.1 275.3 1278.9 261.1C1277.8 246.9 1276.4 225.2 1275.4 217.2C1274.4 209.2 1273.4 213.7 1273 213L1262.7 213 Z" fill="#238a8d"/>
<path d="M1285.7 153.8L2429.2 153.8L2429.2 165.8C2431.2 169.1 2437 178.9 2440.9 185.4C2444.7 191.9 2448.6 198.5 2452.5 205C2456.4 211.5 2460.2 218.1 2464.1 224.6C2468 231.2 2471.9 237.7 2475.8 244.2C2479.7 250.8 2483.6 257.3 2487.5 263.8C2491.4 270.4 2495.3 276.9 2499.2 283.4C2503.1 290 2507.1 296.5 2511 303C2514.9 309.6 2518.8 316.1 2522.7 322.6C2526.5 329.2 2530.3 335.7 2534 342.3C2537.8 348.8 2541.6 355.3 2545.2 361.9C2548.8 368.4 2552.1 374.9 2555.6 381.5C2559.1 388 2562.6 394.5 2566.1 401.1C2569.6 407.6 2573.1 414.1 2576.6 420.7C2580.2 427.2 2583.7 433.7 2587.6 440.3C2591.4 446.8 2595.6 453.4 2599.5 459.9C2603.5 466.4 2607.3 473 2611.1 479.5C2615 486 2618.8 492.6 2622.5 499.1C2626.2 505.6 2629.7 512.2 2633.3 518.7C2636.9 525.2 2640.4 531.8 2643.9 538.3C2647.5 544.8 2651.1 551.4 2654.5 557.9C2658 564.4 2661.3 571 2664.7 577.5C2668.1 584.1 2671.5 590.6 2674.8 597.1C2678.1 603.7 2681.3 610.2 2684.5 616.7C2687.7 623.3 2690.8 629.8 2694 636.3C2697.1 642.9 2700.3 649.4 2703.3 655.9C2706.4 662.5 2709.4 669 2712.3 675.5C2715.3 682.1 2718.3 688.6 2721.2 695.2C2724.1 701.7 2726.8 708.2 2729.6 714.8C2732.4 721.3 2735.1 727.8 2737.9 734.4C2740.6 740.9 2743.2 747.4 2745.9 754C2748.5 760.5 2751.2 767 2753.8 773.6C2756.4 780.1 2759 786.6 2761.5 793.2C2764 799.7 2766.4 806.3 2768.8 812.8C2771.2 819.3 2773.6 825.9 2776.1 832.4C2778.5 838.9 2780.8 845.5 2783.4 852C2785.9 858.5 2788.7 865.1 2791.2 871.6C2793.8 878.1 2796.4 884.7 2798.9 891.2C2801.4 897.7 2804 904.3 2806.2 910.8C2808.4 917.4 2810.2 923.9 2812 930.4C2813.9 937 2815.8 943.5 2817.4 950C2819.1 956.6 2820.5 963.1 2822 969.6C2823.5 976.2 2825 982.7 2826.3 989.2C2827.6 995.8 2828.6 1002.3 2829.7 1008.8C2830.8 1015.4 2831.9 1021.9 2832.8 1028.5C2833.6 1035 2834.3 1041.5 2834.9 1048.1C2835.6 1054.6 2836.1 1061.1 2836.6 1067.7C2837.1 1074.2 2837.5 1080.7 2837.8 1087.3C2838.1 1093.8 2838.3 1100.3 2838.4 1106.9C2838.6 1113.4 2838.6 1119.9 2838.6 1126.5C2838.5 1133 2838.3 1139.6 2838.2 1146.1C2838 1152.6 2837.7 1159.2 2837.4 1165.7C2837.1 1172.2 2836.8 1178.8 2836.4 1185.3C2835.9 1191.8 2835.4 1198.4 2834.7 1204.9C2834 1211.4 2833 1218 2832.2 1224.5C2831.4 1231 2830.7 1237.6 2829.7 1244.1C2828.7 1250.6 2827.5 1257.2 2826.3 1263.7C2825.1 1270.3 2823.8 1276.8 2822.5 1283.3C2821.2 1289.9 2820 1296.4 2818.6 1302.9C2817.3 1309.5 2815.9 1316 2814.6 1322.5C2813.3 1329.1 2811.9 1335.6 2810.6 1342.1C2809.3 1348.7 2807.9 1355.2 2806.6 1361.7C2805.3 1368.3 2804 1374.8 2802.7 1381.4C2801.4 1387.9 2800.1 1394.4 2798.8 1401C2797.5 1407.5 2796.2 1414 2794.9 1420.6C2793.6 1427.1 2792.4 1433.6 2791.1 1440.2C2789.8 1446.7 2788.4 1453.2 2787.1 1459.8C2785.7 1466.3 2784.4 1472.8 2783 1479.4C2781.6 1485.9 2780.3 1492.5 2778.9 1499C2777.5 1505.5 2776 1512.1 2774.6 1518.6C2773.2 1525.1 2771 1534.9 2770.3 1538.2L2770.3 1550.2L1262.7 1550.2L1262.7 1285L1273 1285C1273.8 1283.2 1275.8 1280.4 1277.5 1274C1279.2 1267.6 1280.9 1257.2 1283 1246.5C1285.1 1235.8 1287.9 1224.8 1290.3 1209.9C1292.7 1195 1295.5 1171.8 1297.6 1157C1299.7 1142.2 1301.4 1133.4 1303.1 1121.4C1304.8 1109.4 1306.2 1100.1 1307.7 1084.8C1309.2 1069.5 1310.8 1048.1 1312.3 1029.8C1313.8 1011.5 1315.5 992.9 1316.9 974.9C1318.3 956.9 1319.8 932.9 1320.5 922C1321.2 911.1 1320.5 920.9 1321.4 909.7C1322.3 898.5 1324.6 873.1 1326 854.8C1327.4 836.5 1329.1 818.1 1329.7 799.8C1330.3 781.5 1330.1 761.5 1329.7 744.9C1329.3 728.3 1328.1 710.9 1327.5 700C1326.9 689.1 1326.8 687.8 1326.2 679.8C1325.7 671.8 1325 661.5 1324.2 652.3C1323.4 643.1 1322.3 633.9 1321.4 624.8C1320.5 615.6 1319.6 606.5 1318.7 597.4C1317.8 588.2 1317.1 579 1315.9 569.9C1314.8 560.8 1312.8 553.4 1311.8 542.5C1310.8 531.6 1310.6 518 1309.8 504.8C1309 491.7 1307.9 477.3 1307 463.6C1306.1 449.9 1305 436.1 1304.3 422.4C1303.6 408.7 1303.5 394.6 1302.9 381.2C1302.3 367.8 1301.7 357.4 1300.8 342C1299.9 326.6 1298.8 306.7 1297.4 288.6C1296 270.6 1294.5 254.2 1292.6 233.7C1290.6 213.2 1286.8 177.1 1285.7 165.8L1285.7 153.8 Z" fill="#287d8e"/>
<path d="M1312.5 153.8L2418 153.8L2418 165.8C2419.9 169.1 2425.8 178.9 2429.8 185.4C2433.7 191.9 2437.6 198.5 2441.6 205C2445.5 211.5 2449.5 218.1 2453.4 224.6C2457.4 231.2 2461.3 237.7 2465.3 244.2C2469.2 250.8 2473.2 257.3 2477.2 263.8C2481.2 270.4 2485.2 276.9 2489.2 283.4C2493.2 290 2497.3 296.5 2501.2 303C2505.2 309.6 2509.3 316.1 2513.2 322.6C2517.1 329.2 2521 335.7 2524.8 342.3C2528.7 348.8 2532.6 355.3 2536.3 361.9C2540 368.4 2543.3 374.9 2546.8 381.5C2550.3 388 2553.9 394.5 2557.4 401.1C2561 407.6 2564.5 414.1 2568.1 420.7C2571.8 427.2 2575.3 433.7 2579.2 440.3C2583.1 446.8 2587.3 453.4 2591.3 459.9C2595.3 466.4 2599.2 473 2603.1 479.5C2607 486 2610.9 492.6 2614.7 499.1C2618.5 505.6 2622 512.2 2625.6 518.7C2629.2 525.2 2632.8 531.8 2636.4 538.3C2639.9 544.8 2643.6 551.4 2647.1 557.9C2650.6 564.4 2653.9 571 2657.3 577.5C2660.7 584.1 2664.2 590.6 2667.5 597.1C2670.8 603.7 2674 610.2 2677.3 616.7C2680.5 623.3 2683.7 629.8 2686.8 636.3C2690 642.9 2693.2 649.4 2696.3 655.9C2699.4 662.5 2702.3 669 2705.3 675.5C2708.3 682.1 2711.4 688.6 2714.3 695.2C2717.2 701.7 2719.9 708.2 2722.8 714.8C2725.6 721.3 2728.4 727.8 2731.1 734.4C2733.8 740.9 2736.5 747.4 2739.2 754C2741.8 760.5 2744.6 767 2747.2 773.6C2749.8 780.1 2752.4 786.6 2754.9 793.2C2757.4 799.7 2759.8 806.3 2762.3 812.8C2764.7 819.3 2767.2 825.9 2769.7 832.4C2772.1 838.9 2774.5 845.5 2777.1 852C2779.6 858.5 2782.5 865.1 2785.1 871.6C2787.8 878.1 2790.4 884.7 2793 891.2C2795.5 897.7 2798.2 904.3 2800.4 910.8C2802.6 917.4 2804.4 923.9 2806.4 930.4C2808.3 937 2810.2 943.5 2811.9 950C2813.6 956.6 2815 963.1 2816.6 969.6C2818.1 976.2 2819.7 982.7 2821 989.2C2822.3 995.8 2823.3 1002.3 2824.4 1008.8C2825.5 1015.4 2826.6 1021.9 2827.5 1028.5C2828.4 1035 2829 1041.5 2829.6 1048.1C2830.3 1054.6 2830.9 1061.1 2831.3 1067.7C2831.8 1074.2 2832.2 1080.7 2832.5 1087.3C2832.8 1093.8 2833 1100.3 2833.1 1106.9C2833.2 1113.4 2833.3 1119.9 2833.2 1126.5C2833.2 1133 2833 1139.6 2832.8 1146.1C2832.5 1152.6 2832.3 1159.2 2831.9 1165.7C2831.6 1172.2 2831.3 1178.8 2830.8 1185.3C2830.3 1191.8 2829.7 1198.4 2829 1204.9C2828.2 1211.4 2827.2 1218 2826.3 1224.5C2825.4 1231 2824.7 1237.6 2823.6 1244.1C2822.6 1250.6 2821.3 1257.2 2820 1263.7C2818.7 1270.3 2817.3 1276.8 2816 1283.3C2814.6 1289.9 2813.3 1296.4 2811.9 1302.9C2810.5 1309.5 2809 1316 2807.6 1322.5C2806.2 1329.1 2804.8 1335.6 2803.4 1342.1C2802 1348.7 2800.6 1355.2 2799.3 1361.7C2797.9 1368.3 2796.6 1374.8 2795.2 1381.4C2793.8 1387.9 2792.5 1394.4 2791.1 1401C2789.7 1407.5 2788.4 1414 2787 1420.6C2785.7 1427.1 2784.4 1433.6 2783 1440.2C2781.6 1446.7 2780.2 1453.2 2778.8 1459.8C2777.4 1466.3 2776 1472.8 2774.6 1479.4C2773.2 1485.9 2771.8 1492.5 2770.3 1499C2768.8 1505.5 2767.3 1512.1 2765.8 1518.6C2764.3 1525.1 2762.1 1534.9 2761.4 1538.2L2761.4 1550.2L1262.7 1550.2L1262.7 1346L1273 1346C1274.4 1343.2 1278.6 1336.3 1281.2 1328.9C1283.8 1321.5 1285.8 1312.2 1288.5 1301.5C1291.2 1290.8 1294.4 1280.1 1297.6 1264.8C1300.8 1249.5 1304.8 1227.9 1307.7 1209.9C1310.6 1191.9 1313 1171.8 1315 1157C1317 1142.2 1318.1 1133.4 1319.6 1121.4C1321.1 1109.4 1322.7 1100.1 1324.2 1084.8C1325.7 1069.5 1327.3 1048.1 1328.8 1029.8C1330.3 1011.5 1331.5 994.9 1333.3 974.9C1335.1 954.9 1337.9 929.7 1339.7 909.7C1341.5 889.7 1343.1 873.1 1344.3 854.8C1345.5 836.5 1346.8 818.1 1347.1 799.8C1347.4 781.5 1347 762.8 1346.1 744.9C1345.2 727 1343.5 714.1 1341.8 692.7C1340 671.3 1337.4 640.9 1335.6 616.3C1333.8 591.7 1332 563.6 1331 545C1330 526.4 1330.2 518.4 1329.7 504.8C1329.2 491.2 1328.7 477.3 1328.3 463.6C1327.9 449.9 1327.9 436.1 1327.6 422.4C1327.2 408.7 1326.7 394.6 1326.2 381.2C1325.8 367.8 1325.7 357.4 1324.9 342C1324.1 326.6 1322.7 306.7 1321.4 288.6C1320.1 270.6 1318.8 254.2 1317.3 233.7C1315.8 213.2 1313.3 177.1 1312.5 165.8L1312.5 153.8 Z" fill="#2d718e"/>
<path d="M1339.6 153.8L2405.3 153.8L2405.3 165.8C2407.3 169.1 2413.4 178.9 2417.4 185.4C2421.4 191.9 2425.4 198.5 2429.4 205C2433.4 211.5 2437.4 218.1 2441.5 224.6C2445.5 231.2 2449.5 237.7 2453.5 244.2C2457.6 250.8 2461.7 257.3 2465.8 263.8C2469.9 270.4 2474 276.9 2478.1 283.4C2482.2 290 2486.3 296.5 2490.4 303C2494.5 309.6 2498.6 316.1 2502.6 322.6C2506.7 329.2 2510.6 335.7 2514.5 342.3C2518.5 348.8 2522.6 355.3 2526.3 361.9C2530.1 368.4 2533.4 374.9 2537 381.5C2540.6 388 2544.1 394.5 2547.7 401.1C2551.3 407.6 2554.9 414.1 2558.6 420.7C2562.3 427.2 2565.9 433.7 2569.8 440.3C2573.8 446.8 2578.1 453.4 2582.2 459.9C2586.2 466.4 2590.2 473 2594.2 479.5C2598.1 486 2602.1 492.6 2606 499.1C2609.8 505.6 2613.4 512.2 2617.1 518.7C2620.8 525.2 2624.4 531.8 2628 538.3C2631.6 544.8 2635.3 551.4 2638.8 557.9C2642.3 564.4 2645.7 571 2649.1 577.5C2652.5 584.1 2656 590.6 2659.3 597.1C2662.7 603.7 2666 610.2 2669.2 616.7C2672.5 623.3 2675.7 629.8 2678.9 636.3C2682.1 642.9 2685.3 649.4 2688.4 655.9C2691.6 662.5 2694.6 669 2697.6 675.5C2700.6 682.1 2703.7 688.6 2706.6 695.2C2709.5 701.7 2712.3 708.2 2715.2 714.8C2718 721.3 2720.8 727.8 2723.6 734.4C2726.4 740.9 2729 747.4 2731.7 754C2734.4 760.5 2737.2 767 2739.8 773.6C2742.5 780.1 2745.1 786.6 2747.6 793.2C2750.1 799.7 2752.6 806.3 2755.1 812.8C2757.6 819.3 2760.1 825.9 2762.6 832.4C2765.1 838.9 2767.5 845.5 2770.2 852C2772.8 858.5 2775.7 865.1 2778.4 871.6C2781.1 878.1 2783.9 884.7 2786.5 891.2C2789.1 897.7 2791.8 904.3 2794.1 910.8C2796.4 917.4 2798.3 923.9 2800.2 930.4C2802.2 937 2804.2 943.5 2806 950C2807.7 956.6 2809.2 963.1 2810.7 969.6C2812.3 976.2 2814 982.7 2815.3 989.2C2816.6 995.8 2817.7 1002.3 2818.8 1008.8C2819.9 1015.4 2821 1021.9 2821.9 1028.5C2822.8 1035 2823.4 1041.5 2824 1048.1C2824.7 1054.6 2825.3 1061.1 2825.8 1067.7C2826.2 1074.2 2826.6 1080.7 2826.9 1087.3C2827.2 1093.8 2827.4 1100.3 2827.5 1106.9C2827.6 1113.4 2827.7 1119.9 2827.7 1126.5C2827.6 1133 2827.4 1139.6 2827.2 1146.1C2826.9 1152.6 2826.6 1159.2 2826.2 1165.7C2825.9 1172.2 2825.5 1178.8 2824.9 1185.3C2824.4 1191.8 2823.7 1198.4 2822.9 1204.9C2822.1 1211.4 2821 1218 2820.1 1224.5C2819.1 1231 2818.3 1237.6 2817.2 1244.1C2816.1 1250.6 2814.7 1257.2 2813.3 1263.7C2811.9 1270.3 2810.5 1276.8 2809 1283.3C2807.6 1289.9 2806.2 1296.4 2804.7 1302.9C2803.2 1309.5 2801.7 1316 2800.2 1322.5C2798.7 1329.1 2797.2 1335.6 2795.8 1342.1C2794.3 1348.7 2792.8 1355.2 2791.4 1361.7C2789.9 1368.3 2788.5 1374.8 2787.1 1381.4C2785.7 1387.9 2784.2 1394.4 2782.8 1401C2781.4 1407.5 2780 1414 2778.5 1420.6C2777.1 1427.1 2775.7 1433.6 2774.3 1440.2C2772.9 1446.7 2771.4 1453.2 2769.9 1459.8C2768.4 1466.3 2767 1472.8 2765.5 1479.4C2764 1485.9 2762.5 1492.5 2761 1499C2759.4 1505.5 2757.8 1512.1 2756.3 1518.6C2754.7 1525.1 2752.4 1534.9 2751.6 1538.2L2751.6 1550.2L1262.7 1550.2L1262.7 1440L1273 1440C1273.6 1438.3 1275.5 1435.2 1276.7 1430C1277.9 1424.8 1279.1 1415.9 1280.3 1408.7C1281.5 1401.5 1281.7 1395.7 1284 1387C1286.3 1378.3 1290.5 1367.6 1294 1356.4C1297.5 1345.2 1301.3 1335.1 1305 1319.8C1308.7 1304.5 1312.6 1283.1 1315.9 1264.8C1319.2 1246.5 1322.2 1227.9 1325.1 1209.9C1328 1191.9 1331.2 1174.8 1333.5 1157C1335.8 1139.2 1337.3 1118.2 1338.8 1103.1C1340.3 1088 1341.1 1081.8 1342.5 1066.5C1343.9 1051.2 1345.4 1029.8 1347.1 1011.5C1348.8 993.2 1350.8 970.2 1352.5 956.6C1354.2 943 1356 940.9 1357.5 930C1359 919.1 1360.4 905.2 1361.6 891.1C1362.8 877 1364.5 863.1 1364.7 845.3C1365 827.5 1364.1 804.6 1363.1 784.3C1362.1 763.9 1359.9 748.7 1358.5 723.2C1357.1 697.8 1355.7 661.3 1354.9 631.6C1354.1 601.9 1353.9 567.6 1353.5 545C1353.1 522.4 1352.8 516.8 1352.4 495.9C1352 475 1351.7 444.9 1350.9 419.5C1350.2 394.1 1349.2 371.2 1347.9 343.2C1346.6 315.2 1344.7 281.2 1343.3 251.6C1341.9 222 1340.2 180.1 1339.6 165.8L1339.6 153.8 Z" fill="#33638d"/>
<path d="M1370.8 153.8L2391 153.8L2391 165.8C2393.1 169.1 2399.2 178.9 2403.3 185.4C2407.4 191.9 2411.5 198.5 2415.6 205C2419.7 211.5 2423.8 218.1 2427.9 224.6C2432 231.2 2436.1 237.7 2440.2 244.2C2444.4 250.8 2448.6 257.3 2452.8 263.8C2457 270.4 2461.2 276.9 2465.4 283.4C2469.6 290 2473.9 296.5 2478.1 303C2482.3 309.6 2486.5 316.1 2490.6 322.6C2494.8 329.2 2498.8 335.7 2502.9 342.3C2507 348.8 2511.2 355.3 2515 361.9C2518.8 368.4 2522.2 374.9 2525.9 381.5C2529.5 388 2533.1 394.5 2536.8 401.1C2540.4 407.6 2544.1 414.1 2547.8 420.7C2551.6 427.2 2555.3 433.7 2559.2 440.3C2563.2 446.8 2567.7 453.4 2571.8 459.9C2575.9 466.4 2580 473 2584.1 479.5C2588.1 486 2592.2 492.6 2596.1 499.1C2600 505.6 2603.7 512.2 2607.4 518.7C2611.2 525.2 2614.8 531.8 2618.5 538.3C2622.1 544.8 2625.9 551.4 2629.4 557.9C2633 564.4 2636.4 571 2639.8 577.5C2643.3 584.1 2646.8 590.6 2650.2 597.1C2653.6 603.7 2656.9 610.2 2660.2 616.7C2663.5 623.3 2666.7 629.8 2670 636.3C2673.2 642.9 2676.5 649.4 2679.7 655.9C2682.8 662.5 2685.8 669 2688.9 675.5C2691.9 682.1 2695 688.6 2698 695.2C2700.9 701.7 2703.8 708.2 2706.7 714.8C2709.5 721.3 2712.4 727.8 2715.2 734.4C2718 740.9 2720.7 747.4 2723.4 754C2726.1 760.5 2728.9 767 2731.6 773.6C2734.3 780.1 2736.9 786.6 2739.5 793.2C2742 799.7 2744.5 806.3 2747.1 812.8C2749.6 819.3 2752.2 825.9 2754.8 832.4C2757.4 838.9 2759.8 845.5 2762.5 852C2765.2 858.5 2768.3 865.1 2771.1 871.6C2773.9 878.1 2776.7 884.7 2779.4 891.2C2782.1 897.7 2784.8 904.3 2787.2 910.8C2789.6 917.4 2791.5 923.9 2793.6 930.4C2795.6 937 2797.7 943.5 2799.5 950C2801.3 956.6 2802.9 963.1 2804.5 969.6C2806.1 976.2 2807.8 982.7 2809.2 989.2C2810.6 995.8 2811.6 1002.3 2812.8 1008.8C2813.9 1015.4 2815.1 1021.9 2816 1028.5C2816.9 1035 2817.5 1041.5 2818.1 1048.1C2818.8 1054.6 2819.4 1061.1 2819.9 1067.7C2820.4 1074.2 2820.7 1080.7 2821 1087.3C2821.3 1093.8 2821.5 1100.3 2821.7 1106.9C2821.8 1113.4 2822 1119.9 2821.9 1126.5C2821.9 1133 2821.6 1139.6 2821.4 1146.1C2821.1 1152.6 2820.7 1159.2 2820.3 1165.7C2819.9 1172.2 2819.4 1178.8 2818.8 1185.3C2818.2 1191.8 2817.5 1198.4 2816.6 1204.9C2815.7 1211.4 2814.5 1218 2813.5 1224.5C2812.5 1231 2811.6 1237.6 2810.4 1244.1C2809.2 1250.6 2807.7 1257.2 2806.2 1263.7C2804.7 1270.3 2803.2 1276.8 2801.6 1283.3C2800.1 1289.9 2798.6 1296.4 2797 1302.9C2795.5 1309.5 2793.9 1316 2792.3 1322.5C2790.7 1329.1 2789.1 1335.6 2787.5 1342.1C2786 1348.7 2784.4 1355.2 2782.9 1361.7C2781.4 1368.3 2779.9 1374.8 2778.4 1381.4C2776.8 1387.9 2775.3 1394.4 2773.8 1401C2772.3 1407.5 2770.8 1414 2769.3 1420.6C2767.8 1427.1 2766.3 1433.6 2764.8 1440.2C2763.3 1446.7 2761.7 1453.2 2760.2 1459.8C2758.6 1466.3 2757.1 1472.8 2755.5 1479.4C2753.9 1485.9 2752.4 1492.5 2750.7 1499C2749.1 1505.5 2747.4 1512.1 2745.8 1518.6C2744.1 1525.1 2741.6 1534.9 2740.8 1538.2L2740.8 1550.2L1299.2 1550.2L1299.2 1538.2C1298.4 1535.3 1295.8 1526.9 1294.5 1521.1C1293.2 1515.3 1291.9 1510.2 1291.5 1503.3C1291.1 1496.4 1291.5 1487.6 1292.1 1479.7C1292.7 1471.8 1293.9 1463.9 1295.1 1456C1296.3 1448.1 1297.5 1440.2 1299.2 1432.3C1300.9 1424.4 1303.3 1416.6 1305.1 1408.7C1306.9 1400.8 1308.1 1393.7 1309.9 1385C1311.7 1376.3 1313.4 1367.3 1315.9 1356.4C1318.4 1345.5 1322 1335.1 1325.1 1319.8C1328.1 1304.5 1331.2 1283.1 1334.2 1264.8C1337.2 1246.5 1340.8 1228.2 1343.4 1209.9C1346 1191.6 1347.8 1170.2 1349.8 1155C1351.8 1139.8 1353 1134.8 1355.5 1118.5C1358 1102.2 1361.7 1077.8 1364.7 1057.4C1367.8 1037 1371 1017.5 1373.8 996.3C1376.6 975.1 1380.1 950.1 1381.5 930C1382.9 909.9 1382.4 895.1 1382.4 875.9C1382.4 856.7 1381.7 840.2 1381.5 814.8C1381.3 789.3 1381.3 753.7 1381.5 723.2C1381.7 692.7 1382.1 660.5 1382.4 631.6C1382.8 602.7 1383.5 572.6 1383.6 550C1383.7 527.4 1383.6 517.6 1383 495.9C1382.4 474.1 1380.9 444.9 1379.9 419.5C1378.9 394.1 1377.9 371.2 1376.9 343.2C1375.9 315.2 1374.8 281.2 1373.8 251.6C1372.8 222 1371.3 180.1 1370.8 165.8L1370.8 153.8 Z" fill="#39558c"/>
<path d="M1907.9 153.8L2374.5 153.8L2374.5 165.8C2376.6 169.1 2382.9 178.9 2387.1 185.4C2391.3 191.9 2395.5 198.5 2399.7 205C2403.9 211.5 2408.1 218.1 2412.3 224.6C2416.5 231.2 2420.6 237.7 2424.9 244.2C2429.1 250.8 2433.5 257.3 2437.8 263.8C2442.1 270.4 2446.5 276.9 2450.8 283.4C2455.1 290 2459.5 296.5 2463.8 303C2468.2 309.6 2472.5 316.1 2476.8 322.6C2481.1 329.2 2485.2 335.7 2489.4 342.3C2493.6 348.8 2498 355.3 2502 361.9C2505.9 368.4 2509.3 374.9 2513 381.5C2516.7 388 2520.4 394.5 2524.1 401.1C2527.8 407.6 2531.6 414.1 2535.4 420.7C2539.2 427.2 2543 433.7 2547 440.3C2551.1 446.8 2555.6 453.4 2559.8 459.9C2564.1 466.4 2568.3 473 2572.4 479.5C2576.6 486 2580.8 492.6 2584.8 499.1C2588.7 505.6 2592.5 512.2 2596.3 518.7C2600.2 525.2 2603.9 531.8 2607.6 538.3C2611.3 544.8 2615.1 551.4 2618.7 557.9C2622.3 564.4 2625.7 571 2629.2 577.5C2632.7 584.1 2636.2 590.6 2639.7 597.1C2643.1 603.7 2646.5 610.2 2649.9 616.7C2653.2 623.3 2656.5 629.8 2659.8 636.3C2663.1 642.9 2666.4 649.4 2669.6 655.9C2672.8 662.5 2675.9 669 2678.9 675.5C2682 682.1 2685.2 688.6 2688.2 695.2C2691.2 701.7 2694.1 708.2 2697 714.8C2699.9 721.3 2702.8 727.8 2705.6 734.4C2708.5 740.9 2711.2 747.4 2714 754C2716.7 760.5 2719.6 767 2722.3 773.6C2725 780.1 2727.6 786.6 2730.2 793.2C2732.8 799.7 2735.4 806.3 2738 812.8C2740.6 819.3 2743.3 825.9 2746 832.4C2748.6 838.9 2751.2 845.5 2754 852C2756.8 858.5 2759.9 865.1 2762.9 871.6C2765.8 878.1 2768.7 884.7 2771.5 891.2C2774.3 897.7 2777.2 904.3 2779.6 910.8C2782.1 917.4 2784.2 923.9 2786.3 930.4C2788.5 937 2790.6 943.5 2792.5 950C2794.4 956.6 2796 963.1 2797.7 969.6C2799.4 976.2 2801.2 982.7 2802.6 989.2C2804.1 995.8 2805.1 1002.3 2806.3 1008.8C2807.5 1015.4 2808.7 1021.9 2809.7 1028.5C2810.6 1035 2811.2 1041.5 2811.8 1048.1C2812.5 1054.6 2813.2 1061.1 2813.7 1067.7C2814.2 1074.2 2814.6 1080.7 2814.9 1087.3C2815.2 1093.8 2815.4 1100.3 2815.6 1106.9C2815.8 1113.4 2816 1119.9 2815.9 1126.5C2815.9 1133 2815.7 1139.6 2815.3 1146.1C2815 1152.6 2814.6 1159.2 2814.1 1165.7C2813.6 1172.2 2813.1 1178.8 2812.4 1185.3C2811.7 1191.8 2810.9 1198.4 2809.9 1204.9C2809 1211.4 2807.7 1218 2806.6 1224.5C2805.5 1231 2804.6 1237.6 2803.2 1244.1C2801.9 1250.6 2800.2 1257.2 2798.7 1263.7C2797.1 1270.3 2795.4 1276.8 2793.8 1283.3C2792.1 1289.9 2790.5 1296.4 2788.8 1302.9C2787.1 1309.5 2785.4 1316 2783.7 1322.5C2782 1329.1 2780.3 1335.6 2778.7 1342.1C2777 1348.7 2775.4 1355.2 2773.7 1361.7C2772.1 1368.3 2770.5 1374.8 2768.9 1381.4C2767.3 1387.9 2765.6 1394.4 2764 1401C2762.4 1407.5 2760.8 1414 2759.2 1420.6C2757.6 1427.1 2756.1 1433.6 2754.5 1440.2C2752.8 1446.7 2751.2 1453.2 2749.5 1459.8C2747.9 1466.3 2746.2 1472.8 2744.5 1479.4C2742.8 1485.9 2741.2 1492.5 2739.4 1499C2737.7 1505.5 2735.9 1512.1 2734.1 1518.6C2732.4 1525.1 2729.7 1534.9 2728.9 1538.2L2728.9 1550.2L1381.5 1550.2L1381.5 1538.2C1380.4 1534.4 1377.3 1522 1375 1515.2C1372.7 1508.4 1370.5 1503.7 1367.9 1497.4C1365.3 1491.1 1362.6 1483.8 1359.6 1477.3C1356.6 1470.8 1352.5 1464.9 1350.1 1458.4C1347.7 1451.9 1346.6 1445.6 1345.4 1438.3C1344.2 1431 1343.4 1423.5 1343 1414.6C1342.6 1405.7 1342.6 1396.2 1343 1385C1343.4 1373.8 1343.9 1361.1 1345.2 1347.2C1346.5 1333.3 1349.1 1314.4 1350.7 1301.5C1352.3 1288.6 1353.2 1282.7 1355 1270C1356.8 1257.3 1359.5 1242.9 1361.6 1225.3C1363.7 1207.7 1365.2 1182.1 1367.7 1164.3C1370.2 1146.5 1373.1 1136.3 1376.9 1118.5C1380.7 1100.7 1387 1080.3 1390.6 1057.4C1394.1 1034.5 1396.1 1001.5 1398.2 981.1C1400.3 960.7 1401.7 950 1403 935C1404.3 920 1404.4 908.6 1405.9 891.1C1407.4 873.6 1409.7 847.8 1412 830C1414.3 812.2 1416.8 804.6 1419.6 784.3C1422.4 764 1426 731.9 1428.8 708C1431.6 684.1 1434.6 658.6 1436.4 640.8C1438.2 623 1439 614.5 1439.5 601C1440 587.5 1439.7 575 1439.5 560C1439.3 545 1438.1 535.5 1438.5 511C1438.9 486.5 1438.8 440.3 1442 412.8C1445.2 385.3 1453.7 362.4 1457.9 346.1C1462.1 329.8 1463.2 323.2 1467 315C1470.8 306.8 1476 300.7 1480.7 297C1485.4 293.3 1489.2 293.6 1495 293C1500.8 292.4 1509.1 292.2 1515.8 293.4C1522.5 294.6 1529.2 295.9 1535 300C1540.8 304.1 1546.8 310.3 1550.9 318C1555 325.7 1556.8 334.4 1559.7 346.1C1562.6 357.8 1565.6 377.6 1568.5 388.2C1571.4 398.8 1573.4 406.2 1577 409.5C1580.6 412.8 1585.2 409.4 1590 408C1594.8 406.6 1600.2 403.7 1606 401C1611.8 398.3 1618.5 395.5 1625 392C1631.5 388.5 1637.8 384.8 1645 380C1652.2 375.2 1660.3 368.6 1668 363C1675.7 357.4 1677.6 356.6 1691.3 346.1C1705 335.6 1731.9 314.4 1750 300C1768.1 285.6 1783.4 273.6 1800 260C1816.6 246.4 1835.5 231 1849.6 218.2C1863.7 205.4 1874.9 191.9 1884.6 183.3C1894.3 174.7 1904 169.3 1907.9 166.5L1907.9 153.8 Z" fill="#40498b"/>
<path d="M1989.4 153.8L2355 153.8L2355 165.8C2357.1 169.1 2363.6 178.9 2367.9 185.4C2372.2 191.9 2376.5 198.5 2380.8 205C2385.1 211.5 2389.4 218.1 2393.7 224.6C2398.1 231.2 2402.3 237.7 2406.7 244.2C2411.1 250.8 2415.6 257.3 2420.1 263.8C2424.5 270.4 2429 276.9 2433.5 283.4C2438 290 2442.5 296.5 2447 303C2451.5 309.6 2456 316.1 2460.4 322.6C2464.8 329.2 2469.2 335.7 2473.5 342.3C2477.9 348.8 2482.5 355.3 2486.5 361.9C2490.6 368.4 2494 374.9 2497.8 381.5C2501.6 388 2505.3 394.5 2509.1 401.1C2513 407.6 2516.8 414.1 2520.7 420.7C2524.6 427.2 2528.5 433.7 2532.6 440.3C2536.8 446.8 2541.4 453.4 2545.8 459.9C2550.1 466.4 2554.4 473 2558.7 479.5C2563 486 2567.3 492.6 2571.4 499.1C2575.5 505.6 2579.4 512.2 2583.3 518.7C2587.2 525.2 2591 531.8 2594.8 538.3C2598.6 544.8 2602.4 551.4 2606.1 557.9C2609.8 564.4 2613.3 571 2616.8 577.5C2620.4 584.1 2623.9 590.6 2627.4 597.1C2630.9 603.7 2634.4 610.2 2637.8 616.7C2641.3 623.3 2644.6 629.8 2647.9 636.3C2651.3 642.9 2654.7 649.4 2657.9 655.9C2661.2 662.5 2664.3 669 2667.4 675.5C2670.5 682.1 2673.7 688.6 2676.8 695.2C2679.8 701.7 2682.8 708.2 2685.7 714.8C2688.7 721.3 2691.7 727.8 2694.6 734.4C2697.5 740.9 2700.2 747.4 2703 754C2705.8 760.5 2708.7 767 2711.5 773.6C2714.2 780.1 2716.9 786.6 2719.6 793.2C2722.2 799.7 2724.9 806.3 2727.6 812.8C2730.3 819.3 2733.1 825.9 2735.9 832.4C2738.7 838.9 2741.4 845.5 2744.3 852C2747.3 858.5 2750.6 865.1 2753.6 871.6C2756.7 878.1 2759.8 884.7 2762.7 891.2C2765.6 897.7 2768.6 904.3 2771.2 910.8C2773.8 917.4 2776 923.9 2778.3 930.4C2780.6 937 2782.9 943.5 2784.9 950C2786.9 956.6 2788.5 963.1 2790.3 969.6C2792.1 976.2 2794 982.7 2795.5 989.2C2797 995.8 2798.1 1002.3 2799.3 1008.8C2800.6 1015.4 2801.9 1021.9 2802.9 1028.5C2803.8 1035 2804.4 1041.5 2805.1 1048.1C2805.8 1054.6 2806.6 1061.1 2807.1 1067.7C2807.6 1074.2 2808 1080.7 2808.4 1087.3C2808.7 1093.8 2809 1100.3 2809.2 1106.9C2809.4 1113.4 2809.7 1119.9 2809.6 1126.5C2809.6 1133 2809.4 1139.6 2809.1 1146.1C2808.7 1152.6 2808.1 1159.2 2807.6 1165.7C2807 1172.2 2806.5 1178.8 2805.7 1185.3C2804.9 1191.8 2804 1198.4 2802.9 1204.9C2801.9 1211.4 2800.5 1218 2799.3 1224.5C2798 1231 2797 1237.6 2795.6 1244.1C2794.2 1250.6 2792.3 1257.2 2790.6 1263.7C2788.9 1270.3 2787.1 1276.8 2785.3 1283.3C2783.5 1289.9 2781.8 1296.4 2780 1302.9C2778.2 1309.5 2776.3 1316 2774.5 1322.5C2772.7 1329.1 2770.9 1335.6 2769.1 1342.1C2767.3 1348.7 2765.5 1355.2 2763.7 1361.7C2762 1368.3 2760.2 1374.8 2758.5 1381.4C2756.8 1387.9 2755 1394.4 2753.3 1401C2751.6 1407.5 2749.8 1414 2748.1 1420.6C2746.4 1427.1 2744.7 1433.6 2743 1440.2C2741.2 1446.7 2739.5 1453.2 2737.7 1459.8C2735.9 1466.3 2734.1 1472.8 2732.3 1479.4C2730.5 1485.9 2728.7 1492.5 2726.8 1499C2724.9 1505.5 2723 1512.1 2721.1 1518.6C2719.2 1525.1 2716.4 1534.9 2715.4 1538.2L2715.4 1550.2L1412 1550.2L1412 1538.2C1411.5 1532.9 1410.4 1518 1409.1 1506.6C1407.8 1495.3 1406.3 1483.3 1404.5 1469.9C1402.6 1456.5 1400.3 1441.3 1398.1 1426.3C1395.9 1411.2 1393.3 1395.2 1391.4 1379.7C1389.5 1364.2 1387.5 1348.6 1386.7 1333.1C1385.8 1317.6 1385.6 1302.8 1386.2 1286.7C1386.8 1270.7 1388.3 1254.7 1390.4 1236.8C1392.5 1219 1395.8 1199.2 1399 1179.5C1402.2 1159.8 1406.1 1138.8 1409.7 1118.5C1413.3 1098.1 1416.6 1077.1 1420.4 1057.4C1424.2 1037.7 1428 1017.3 1432.6 1000.1C1437.2 982.9 1442.5 967.6 1447.9 954.3C1453.2 941.1 1458.1 932.8 1464.5 920.5C1470.9 908.2 1477.1 897.5 1486.3 880.8C1495.6 864 1508.2 841.2 1520 820.2C1531.8 799.2 1544.9 776.1 1557 754.8C1569.1 733.4 1579 715.7 1592.8 692.4C1606.6 669.1 1621.7 643.7 1639.6 615C1657.5 586.3 1679.5 551.4 1700.2 520C1721 488.6 1743.7 455 1764.4 426.6C1785.1 398.1 1805.4 372.8 1824.5 349.4C1843.5 325.9 1862.3 305.2 1878.7 285.9C1895.1 266.7 1910 248.8 1923 233.8C1936 218.7 1945.7 207.1 1956.8 195.8C1967.8 184.5 1984 170.8 1989.4 165.8L1989.4 153.8 Z" fill="#453b87"/>
<path d="M2040.6 153.8L2330.4 153.8L2330.4 165.8C2332.6 169.1 2339.3 178.9 2343.8 185.4C2348.3 191.9 2352.8 198.5 2357.2 205C2361.7 211.5 2366.2 218.1 2370.7 224.6C2375.2 231.2 2379.6 237.7 2384.2 244.2C2388.7 250.8 2393.5 257.3 2398.1 263.8C2402.8 270.4 2407.5 276.9 2412.2 283.4C2416.9 290 2421.7 296.5 2426.4 303C2431.1 309.6 2435.8 316.1 2440.4 322.6C2445 329.2 2449.6 335.7 2454.1 342.3C2458.7 348.8 2463.5 355.3 2467.7 361.9C2472 368.4 2475.5 374.9 2479.4 381.5C2483.3 388 2487.1 394.5 2491.1 401.1C2495 407.6 2499 414.1 2503.1 420.7C2507.1 427.2 2511 433.7 2515.4 440.3C2519.7 446.8 2524.4 453.4 2528.9 459.9C2533.4 466.4 2537.9 473 2542.4 479.5C2546.8 486 2551.3 492.6 2555.5 499.1C2559.8 505.6 2563.8 512.2 2567.9 518.7C2571.9 525.2 2575.8 531.8 2579.7 538.3C2583.6 544.8 2587.5 551.4 2591.2 557.9C2595 564.4 2598.5 571 2602.2 577.5C2605.8 584.1 2609.4 590.6 2613 597.1C2616.6 603.7 2620.2 610.2 2623.7 616.7C2627.2 623.3 2630.6 629.8 2634 636.3C2637.5 642.9 2641 649.4 2644.3 655.9C2647.6 662.5 2650.7 669 2653.9 675.5C2657.1 682.1 2660.4 688.6 2663.5 695.2C2666.7 701.7 2669.7 708.2 2672.7 714.8C2675.8 721.3 2678.9 727.8 2681.9 734.4C2684.8 740.9 2687.6 747.4 2690.5 754C2693.4 760.5 2696.4 767 2699.2 773.6C2702 780.1 2704.7 786.6 2707.5 793.2C2710.3 799.7 2713 806.3 2715.8 812.8C2718.6 819.3 2721.6 825.9 2724.4 832.4C2727.3 838.9 2730.1 845.5 2733.1 852C2736.2 858.5 2739.7 865.1 2742.8 871.6C2746 878.1 2749.2 884.7 2752.3 891.2C2755.4 897.7 2758.5 904.3 2761.2 910.8C2763.9 917.4 2766.3 923.9 2768.7 930.4C2771.1 937 2773.6 943.5 2775.7 950C2777.8 956.6 2779.6 963.1 2781.5 969.6C2783.4 976.2 2785.4 982.7 2787 989.2C2788.6 995.8 2789.7 1002.3 2791 1008.8C2792.3 1015.4 2793.8 1021.9 2794.8 1028.5C2795.8 1035 2796.4 1041.5 2797.1 1048.1C2797.9 1054.6 2798.7 1061.1 2799.2 1067.7C2799.8 1074.2 2800.2 1080.7 2800.6 1087.3C2801 1093.8 2801.3 1100.3 2801.5 1106.9C2801.7 1113.4 2801.9 1119.9 2801.8 1126.5C2801.8 1133 2801.5 1139.6 2801.2 1146.1C2800.8 1152.6 2800.2 1159.2 2799.6 1165.7C2798.9 1172.2 2798.4 1178.8 2797.5 1185.3C2796.7 1191.8 2795.7 1198.4 2794.6 1204.9C2793.4 1211.4 2792 1218 2790.7 1224.5C2789.4 1231 2788.3 1237.6 2786.8 1244.1C2785.3 1250.6 2783.3 1257.2 2781.5 1263.7C2779.6 1270.3 2777.7 1276.8 2775.9 1283.3C2774 1289.9 2772.1 1296.4 2770.2 1302.9C2768.2 1309.5 2766.2 1316 2764.2 1322.5C2762.2 1329.1 2760.2 1335.6 2758.2 1342.1C2756.2 1348.7 2754.2 1355.2 2752.3 1361.7C2750.3 1368.3 2748.4 1374.8 2746.5 1381.4C2744.6 1387.9 2742.6 1394.4 2740.7 1401C2738.8 1407.5 2736.9 1414 2735 1420.6C2733 1427.1 2731.2 1433.6 2729.2 1440.2C2727.3 1446.7 2725.3 1453.2 2723.3 1459.8C2721.3 1466.3 2719.3 1472.8 2717.2 1479.4C2715.2 1485.9 2713.2 1492.5 2711.1 1499C2709 1505.5 2706.8 1512.1 2704.7 1518.6C2702.6 1525.1 2699.4 1534.9 2698.3 1538.2L2698.3 1550.2L2261.8 1550.2L2261.8 1538.2C2258.9 1524 2250.2 1478.8 2244.2 1453.2C2238.3 1427.6 2233.2 1405.8 2226.4 1384.8C2219.5 1363.8 2212.4 1345 2203.1 1327.2C2193.8 1309.3 2183.1 1292.5 2170.5 1277.7C2158 1262.9 2142.8 1249.7 2127.9 1238.2C2113 1226.8 2096.4 1216.7 2081.2 1209C2066 1201.3 2052 1196.2 2036.7 1192C2021.4 1187.8 2006.6 1185.5 1989.5 1183.8C1972.4 1182 1953.8 1181.2 1934 1181.5C1914.2 1181.8 1891.7 1183.2 1870.6 1185.3C1849.5 1187.4 1827.2 1190.9 1807.2 1194.1C1787.2 1197.3 1768.8 1201.9 1750.5 1204.7C1732.2 1207.4 1715 1211.4 1697.3 1210.5C1679.5 1209.7 1660.8 1207.4 1644.1 1199.6C1627.3 1191.8 1609.6 1177.8 1596.7 1163.8C1583.7 1149.8 1573.4 1131.2 1566.6 1115.7C1559.8 1100.2 1557.1 1085.8 1555.7 1070.9C1554.3 1056 1555.2 1042.8 1558.1 1026.1C1561.1 1009.4 1565.9 992.3 1573.4 970.8C1580.9 949.2 1591.2 925.2 1603.4 896.8C1615.5 868.4 1630.8 833.8 1646.2 800.3C1661.6 766.8 1679.8 727.8 1695.8 695.8C1711.7 663.8 1728.1 633.4 1742 608.4C1755.8 583.3 1767 565.5 1778.9 545.5C1790.8 525.5 1800.9 509.2 1813.4 488.4C1825.9 467.5 1839.7 443.4 1853.9 420.2C1868.2 397.1 1883.7 372 1898.8 349.8C1913.9 327.5 1930.2 306.1 1944.4 286.9C1958.6 267.6 1972.6 249.4 1984.1 234.2C1995.7 219.1 2004.4 207.2 2013.8 195.8C2023.3 184.4 2036.1 170.8 2040.6 165.8L2040.6 153.8 Z" fill="#482a7d"/>
<path d="M2119.8 153.8L2289.8 153.8L2289.8 165.8C2300.1 179.5 2332.4 222.9 2351.7 247.9C2371.1 273 2391.1 297.3 2405.8 316.1C2420.6 335 2430.4 347 2440.2 360.8C2450 374.6 2456.6 386.5 2464.7 399.1C2472.8 411.8 2481.1 425.5 2488.8 436.9C2496.6 448.3 2504 457.8 2511 467.5C2518 477.2 2524.5 485.9 2531 495.4C2537.5 504.8 2543.7 514.4 2550 524.2C2556.3 534.1 2562.5 544.3 2568.8 554.8C2575 565.2 2581.1 576.2 2587.2 587C2593.4 597.8 2599.5 608.4 2605.8 619.8C2612 631.1 2618.4 642.8 2624.9 655.2C2631.5 667.8 2638.4 681.6 2644.9 694.8C2651.5 707.9 2657.8 721 2664.1 734.2C2670.3 747.5 2676.3 760.6 2682.4 774.2C2688.5 787.9 2694.8 802.9 2700.8 816C2706.7 829.1 2712.4 841.7 2718 853C2723.6 864.3 2728.8 873.1 2734.2 883.8C2739.5 894.4 2745 905.2 2750.1 916.8C2755.1 928.3 2760 941 2764.3 953.2C2768.6 965.5 2772.5 977.8 2775.7 990C2779 1002.2 2781.6 1014.5 2783.7 1026.8C2785.9 1039 2787.3 1051.8 2788.6 1063.2C2789.8 1074.8 2790.6 1085.9 2791.2 1095.8C2791.7 1105.6 2791.9 1113 2791.8 1122.5C2791.6 1132 2791.4 1140.5 2790.3 1152.5C2789.2 1164.5 2788 1178.8 2785.2 1194.5C2782.5 1210.2 2778.5 1229 2773.8 1246.5C2769 1264 2762.7 1282.2 2757 1299.5C2751.3 1316.8 2745.2 1333.4 2739.5 1350C2733.8 1366.6 2728.3 1383 2722.9 1399.2C2717.5 1415.5 2712.2 1431.5 2706.8 1447.2C2701.4 1463 2695.8 1478.6 2690.3 1493.8C2684.7 1509 2676.3 1530.8 2673.5 1538.2L2673.5 1550.2L2367.7 1550.2L2367.7 1538.2C2366.6 1524 2363.5 1478.9 2361.3 1453.2C2359 1427.5 2356.5 1405.9 2354.1 1384.2C2351.7 1362.6 2349.5 1343 2346.9 1323.5C2344.4 1303.9 2342.5 1285.3 2338.7 1266.8C2334.9 1248.3 2331 1231.1 2324.3 1212.3C2317.5 1193.5 2308.3 1172.6 2298.3 1153.9C2288.3 1135.2 2275.7 1115.9 2264.2 1100C2252.6 1084.2 2241 1070.9 2229.1 1058.7C2217.1 1046.4 2205.8 1036.4 2192.6 1026.5C2179.4 1016.7 2165.6 1008.6 2149.7 999.8C2133.7 991.1 2114.7 982.6 2097.2 974C2079.7 965.4 2060.4 957 2044.7 948.2C2029 939.5 2015.3 931.6 2002.7 921.5C1990.2 911.5 1979.7 901.1 1969.3 888.2C1959 875.3 1949.9 860.5 1940.7 844.3C1931.5 828 1922.6 809.3 1914 790.8C1905.4 772.4 1896.4 751.9 1889.2 733.6C1882 715.3 1875.5 697 1871 681.1C1866.6 665.2 1863.9 651.4 1862.4 638.2C1861 624.9 1860.8 614.6 1862.3 601.6C1863.9 588.6 1867.1 575.1 1871.6 560.3C1876 545.4 1882.7 527.6 1889.2 512.4C1895.7 497.3 1903.2 483 1910.6 469.1C1917.9 455.3 1925.7 442.8 1933.2 429.3C1940.7 415.8 1947.6 402.5 1955.6 388.2C1963.5 373.9 1971 359.5 1981 343.4C1990.9 327.3 2003.5 308.6 2015.3 291.7C2027.1 274.8 2040.1 256.9 2051.7 241.9C2063.3 226.9 2073.5 214.3 2084.8 201.6C2096.2 188.9 2114 171.8 2119.8 165.8L2119.8 153.8 Z" fill="#4a1b6d"/>
<path d="M2204.8 332.4C2208.2 320.9 2212.3 310.9 2218.4 303.2C2224.5 295.6 2232.7 289.9 2241.2 286.2C2249.8 282.6 2260.4 281.2 2270 281.5C2279.6 281.8 2289.8 284 2298.8 288C2307.7 292 2315.7 298.3 2323.9 305.2C2332.1 312.2 2339 320.8 2347.8 329.9C2356.6 339 2366.9 349.4 2376.8 360.1C2386.7 370.7 2398.5 383.4 2407.1 393.5C2415.7 403.7 2421.6 412.2 2428.4 421.1C2435.2 429.9 2440.3 436.7 2448 446.4C2455.7 456.1 2466.1 468.4 2474.5 479C2482.9 489.6 2491.6 500.6 2498.7 510.2C2505.7 519.9 2511 527.5 2517.1 536.8C2523.1 546 2528.9 555.5 2535 565.8C2541 576 2547.1 587.1 2553.3 598.2C2559.5 609.4 2565.7 621.3 2572.1 632.8C2578.6 644.2 2585.2 655.7 2591.9 666.8C2598.6 677.8 2605.4 687.8 2612.2 699C2619.1 710.2 2626 721.7 2632.8 734.2C2639.5 746.8 2646.2 760.6 2652.8 774.2C2659.2 787.9 2665.8 802.5 2671.8 816C2677.8 829.5 2683.6 843.6 2688.8 855.2C2693.9 866.9 2698 876.3 2702.5 885.8C2707 895.2 2711.1 902 2716 911.8C2720.9 921.5 2726.9 932.5 2732.1 944C2737.4 955.5 2743 968.5 2747.5 980.8C2752 993 2755.8 1005 2759 1017.2C2762.2 1029.5 2764.7 1042 2766.6 1054C2768.6 1066 2769.8 1078.4 2770.8 1089C2771.7 1099.6 2772.1 1108.6 2772.4 1117.8C2772.6 1126.9 2772.8 1133.3 2772.1 1143.8C2771.4 1154.2 2770.8 1165.4 2768.2 1180.5C2765.7 1195.6 2762 1215 2757 1234.2C2752 1253.5 2744.9 1275.8 2738 1296C2731.1 1316.2 2723.1 1337.1 2715.8 1355.5C2708.4 1373.9 2700.7 1392 2693.8 1406.5C2686.8 1421 2680.2 1432.8 2674.2 1442.5C2668.3 1452.2 2664 1458.3 2658.1 1464.8C2652.1 1471.3 2646.8 1476.6 2638.7 1481.5C2630.5 1486.4 2620.4 1491 2609.2 1494.4C2598 1497.8 2584.2 1499.7 2571.3 1501.9C2558.5 1504.2 2543.8 1506.8 2532 1508C2520.2 1509.2 2509.1 1510.8 2500.5 1509.3C2491.9 1507.8 2486.2 1504.3 2480.4 1498.9C2474.6 1493.5 2470.5 1486.7 2465.7 1476.8C2460.8 1466.8 2455.6 1454.3 2451.2 1438.9C2446.7 1423.5 2442.3 1403.5 2438.9 1384.2C2435.5 1365 2433.1 1343.7 2430.5 1323.5C2427.8 1303.2 2425.9 1284 2422.9 1262.8C2419.9 1241.6 2416.4 1218.7 2412.4 1196.3C2408.5 1173.9 2403.4 1148 2399.3 1128.5C2395.2 1109 2391.6 1093.4 2388 1079.3C2384.4 1065.2 2381.9 1057.1 2377.7 1043.7C2373.4 1030.3 2368.8 1015.6 2362.4 998.9C2356.1 982.2 2348.1 962.3 2339.6 943.5C2331 924.8 2320.6 905.4 2310.9 886.3C2301.2 867.2 2290.6 848.1 2281.4 829C2272.1 809.9 2263.2 790.9 2255.6 771.8C2248 752.7 2241.3 733.6 2235.6 714.5C2229.8 695.4 2225.2 676.3 2221.2 657.3C2217.2 638.2 2214.4 619.5 2211.4 600.3C2208.5 581.1 2205.9 561.9 2203.7 542C2201.5 522.1 2199.4 500.9 2198.1 481C2196.9 461.1 2196.2 440.5 2196.2 422.4C2196.2 404.3 2196.7 387.3 2198.1 372.3C2199.6 357.3 2201.4 343.9 2204.8 332.4Z" fill="#480a5d"/>
<path d="M2289.8 165.8C2300.1 179.5 2332.4 222.9 2351.7 247.9C2371.1 273 2391.1 297.3 2405.8 316.1C2420.6 335 2430.4 347 2440.2 360.8C2450 374.6 2456.6 386.5 2464.7 399.1C2472.8 411.8 2481.1 425.5 2488.8 436.9C2496.6 448.3 2504 457.8 2511 467.5C2518 477.2 2524.5 485.9 2531 495.4C2537.5 504.8 2543.7 514.4 2550 524.2C2556.3 534.1 2562.5 544.3 2568.8 554.8C2575 565.2 2581.1 576.2 2587.2 587C2593.4 597.8 2599.5 608.4 2605.8 619.8C2612 631.1 2618.4 642.8 2624.9 655.2C2631.5 667.8 2638.4 681.6 2644.9 694.8C2651.5 707.9 2657.8 721 2664.1 734.2C2670.3 747.5 2676.3 760.6 2682.4 774.2C2688.5 787.9 2694.8 802.9 2700.8 816C2706.7 829.1 2712.4 841.7 2718 853C2723.6 864.3 2728.8 873.1 2734.2 883.8C2739.5 894.4 2745 905.2 2750.1 916.8C2755.1 928.3 2760 941 2764.3 953.2C2768.6 965.5 2772.5 977.8 2775.7 990C2779 1002.2 2781.6 1014.5 2783.7 1026.8C2785.9 1039 2787.3 1051.8 2788.6 1063.2C2789.8 1074.8 2790.6 1085.9 2791.2 1095.8C2791.7 1105.6 2791.9 1113 2791.8 1122.5C2791.6 1132 2791.4 1140.5 2790.3 1152.5C2789.2 1164.5 2788 1178.8 2785.2 1194.5C2782.5 1210.2 2778.5 1229 2773.8 1246.5C2769 1264 2762.7 1282.2 2757 1299.5C2751.3 1316.8 2745.2 1333.4 2739.5 1350C2733.8 1366.6 2728.3 1383 2722.9 1399.2C2717.5 1415.5 2712.2 1431.5 2706.8 1447.2C2701.4 1463 2695.8 1478.6 2690.3 1493.8C2684.7 1509 2676.3 1530.8 2673.5 1538.2M2330.4 165.8C2332.6 169.1 2339.3 178.9 2343.8 185.4C2348.3 191.9 2352.8 198.5 2357.2 205C2361.7 211.5 2366.2 218.1 2370.7 224.6C2375.2 231.2 2379.6 237.7 2384.2 244.2C2388.7 250.8 2393.5 257.3 2398.1 263.8C2402.8 270.4 2407.5 276.9 2412.2 283.4C2416.9 290 2421.7 296.5 2426.4 303C2431.1 309.6 2435.8 316.1 2440.4 322.6C2445 329.2 2449.6 335.7 2454.1 342.3C2458.7 348.8 2463.5 355.3 2467.7 361.9C2472 368.4 2475.5 374.9 2479.4 381.5C2483.3 388 2487.1 394.5 2491.1 401.1C2495 407.6 2499 414.1 2503.1 420.7C2507.1 427.2 2511 433.7 2515.4 440.3C2519.7 446.8 2524.4 453.4 2528.9 459.9C2533.4 466.4 2537.9 473 2542.4 479.5C2546.8 486 2551.3 492.6 2555.5 499.1C2559.8 505.6 2563.8 512.2 2567.9 518.7C2571.9 525.2 2575.8 531.8 2579.7 538.3C2583.6 544.8 2587.5 551.4 2591.2 557.9C2595 564.4 2598.5 571 2602.2 577.5C2605.8 584.1 2609.4 590.6 2613 597.1C2616.6 603.7 2620.2 610.2 2623.7 616.7C2627.2 623.3 2630.6 629.8 2634 636.3C2637.5 642.9 2641 649.4 2644.3 655.9C2647.6 662.5 2650.7 669 2653.9 675.5C2657.1 682.1 2660.4 688.6 2663.5 695.2C2666.7 701.7 2669.7 708.2 2672.7 714.8C2675.8 721.3 2678.9 727.8 2681.9 734.4C2684.8 740.9 2687.6 747.4 2690.5 754C2693.4 760.5 2696.4 767 2699.2 773.6C2702 780.1 2704.7 786.6 2707.5 793.2C2710.3 799.7 2713 806.3 2715.8 812.8C2718.6 819.3 2721.6 825.9 2724.4 832.4C2727.3 838.9 2730.1 845.5 2733.1 852C2736.2 858.5 2739.7 865.1 2742.8 871.6C2746 878.1 2749.2 884.7 2752.3 891.2C2755.4 897.7 2758.5 904.3 2761.2 910.8C2763.9 917.4 2766.3 923.9 2768.7 930.4C2771.1 937 2773.6 943.5 2775.7 950C2777.8 956.6 2779.6 963.1 2781.5 969.6C2783.4 976.2 2785.4 982.7 2787 989.2C2788.6 995.8 2789.7 1002.3 2791 1008.8C2792.3 1015.4 2793.8 1021.9 2794.8 1028.5C2795.8 1035 2796.4 1041.5 2797.1 1048.1C2797.9 1054.6 2798.7 1061.1 2799.2 1067.7C2799.8 1074.2 2800.2 1080.7 2800.6 1087.3C2801 1093.8 2801.3 1100.3 2801.5 1106.9C2801.7 1113.4 2801.9 1119.9 2801.8 1126.5C2801.8 1133 2801.5 1139.6 2801.2 1146.1C2800.8 1152.6 2800.2 1159.2 2799.6 1165.7C2798.9 1172.2 2798.4 1178.8 2797.5 1185.3C2796.7 1191.8 2795.7 1198.4 2794.6 1204.9C2793.4 1211.4 2792 1218 2790.7 1224.5C2789.4 1231 2788.3 1237.6 2786.8 1244.1C2785.3 1250.6 2783.3 1257.2 2781.5 1263.7C2779.6 1270.3 2777.7 1276.8 2775.9 1283.3C2774 1289.9 2772.1 1296.4 2770.2 1302.9C2768.2 1309.5 2766.2 1316 2764.2 1322.5C2762.2 1329.1 2760.2 1335.6 2758.2 1342.1C2756.2 1348.7 2754.2 1355.2 2752.3 1361.7C2750.3 1368.3 2748.4 1374.8 2746.5 1381.4C2744.6 1387.9 2742.6 1394.4 2740.7 1401C2738.8 1407.5 2736.9 1414 2735 1420.6C2733 1427.1 2731.2 1433.6 2729.2 1440.2C2727.3 1446.7 2725.3 1453.2 2723.3 1459.8C2721.3 1466.3 2719.3 1472.8 2717.2 1479.4C2715.2 1485.9 2713.2 1492.5 2711.1 1499C2709 1505.5 2706.8 1512.1 2704.7 1518.6C2702.6 1525.1 2699.4 1534.9 2698.3 1538.2M2355 165.8C2357.1 169.1 2363.6 178.9 2367.9 185.4C2372.2 191.9 2376.5 198.5 2380.8 205C2385.1 211.5 2389.4 218.1 2393.7 224.6C2398.1 231.2 2402.3 237.7 2406.7 244.2C2411.1 250.8 2415.6 257.3 2420.1 263.8C2424.5 270.4 2429 276.9 2433.5 283.4C2438 290 2442.5 296.5 2447 303C2451.5 309.6 2456 316.1 2460.4 322.6C2464.8 329.2 2469.2 335.7 2473.5 342.3C2477.9 348.8 2482.5 355.3 2486.5 361.9C2490.6 368.4 2494 374.9 2497.8 381.5C2501.6 388 2505.3 394.5 2509.1 401.1C2513 407.6 2516.8 414.1 2520.7 420.7C2524.6 427.2 2528.5 433.7 2532.6 440.3C2536.8 446.8 2541.4 453.4 2545.8 459.9C2550.1 466.4 2554.4 473 2558.7 479.5C2563 486 2567.3 492.6 2571.4 499.1C2575.5 505.6 2579.4 512.2 2583.3 518.7C2587.2 525.2 2591 531.8 2594.8 538.3C2598.6 544.8 2602.4 551.4 2606.1 557.9C2609.8 564.4 2613.3 571 2616.8 577.5C2620.4 584.1 2623.9 590.6 2627.4 597.1C2630.9 603.7 2634.4 610.2 2637.8 616.7C2641.3 623.3 2644.6 629.8 2647.9 636.3C2651.3 642.9 2654.7 649.4 2657.9 655.9C2661.2 662.5 2664.3 669 2667.4 675.5C2670.5 682.1 2673.7 688.6 2676.8 695.2C2679.8 701.7 2682.8 708.2 2685.7 714.8C2688.7 721.3 2691.7 727.8 2694.6 734.4C2697.5 740.9 2700.2 747.4 2703 754C2705.8 760.5 2708.7 767 2711.5 773.6C2714.2 780.1 2716.9 786.6 2719.6 793.2C2722.2 799.7 2724.9 806.3 2727.6 812.8C2730.3 819.3 2733.1 825.9 2735.9 832.4C2738.7 838.9 2741.4 845.5 2744.3 852C2747.3 858.5 2750.6 865.1 2753.6 871.6C2756.7 878.1 2759.8 884.7 2762.7 891.2C2765.6 897.7 2768.6 904.3 2771.2 910.8C2773.8 917.4 2776 923.9 2778.3 930.4C2780.6 937 2782.9 943.5 2784.9 950C2786.9 956.6 2788.5 963.1 2790.3 969.6C2792.1 976.2 2794 982.7 2795.5 989.2C2797 995.8 2798.1 1002.3 2799.3 1008.8C2800.6 1015.4 2801.9 1021.9 2802.9 1028.5C2803.8 1035 2804.4 1041.5 2805.1 1048.1C2805.8 1054.6 2806.6 1061.1 2807.1 1067.7C2807.6 1074.2 2808 1080.7 2808.4 1087.3C2808.7 1093.8 2809 1100.3 2809.2 1106.9C2809.4 1113.4 2809.7 1119.9 2809.6 1126.5C2809.6 1133 2809.4 1139.6 2809.1 1146.1C2808.7 1152.6 2808.1 1159.2 2807.6 1165.7C2807 1172.2 2806.5 1178.8 2805.7 1185.3C2804.9 1191.8 2804 1198.4 2802.9 1204.9C2801.9 1211.4 2800.5 1218 2799.3 1224.5C2798 1231 2797 1237.6 2795.6 1244.1C2794.2 1250.6 2792.3 1257.2 2790.6 1263.7C2788.9 1270.3 2787.1 1276.8 2785.3 1283.3C2783.5 1289.9 2781.8 1296.4 2780 1302.9C2778.2 1309.5 2776.3 1316 2774.5 1322.5C2772.7 1329.1 2770.9 1335.6 2769.1 1342.1C2767.3 1348.7 2765.5 1355.2 2763.7 1361.7C2762 1368.3 2760.2 1374.8 2758.5 1381.4C2756.8 1387.9 2755 1394.4 2753.3 1401C2751.6 1407.5 2749.8 1414 2748.1 1420.6C2746.4 1427.1 2744.7 1433.6 2743 1440.2C2741.2 1446.7 2739.5 1453.2 2737.7 1459.8C2735.9 1466.3 2734.1 1472.8 2732.3 1479.4C2730.5 1485.9 2728.7 1492.5 2726.8 1499C2724.9 1505.5 2723 1512.1 2721.1 1518.6C2719.2 1525.1 2716.4 1534.9 2715.4 1538.2M2374.5 165.8C2376.6 169.1 2382.9 178.9 2387.1 185.4C2391.3 191.9 2395.5 198.5 2399.7 205C2403.9 211.5 2408.1 218.1 2412.3 224.6C2416.5 231.2 2420.6 237.7 2424.9 244.2C2429.1 250.8 2433.5 257.3 2437.8 263.8C2442.1 270.4 2446.5 276.9 2450.8 283.4C2455.1 290 2459.5 296.5 2463.8 303C2468.2 309.6 2472.5 316.1 2476.8 322.6C2481.1 329.2 2485.2 335.7 2489.4 342.3C2493.6 348.8 2498 355.3 2502 361.9C2505.9 368.4 2509.3 374.9 2513 381.5C2516.7 388 2520.4 394.5 2524.1 401.1C2527.8 407.6 2531.6 414.1 2535.4 420.7C2539.2 427.2 2543 433.7 2547 440.3C2551.1 446.8 2555.6 453.4 2559.8 459.9C2564.1 466.4 2568.3 473 2572.4 479.5C2576.6 486 2580.8 492.6 2584.8 499.1C2588.7 505.6 2592.5 512.2 2596.3 518.7C2600.2 525.2 2603.9 531.8 2607.6 538.3C2611.3 544.8 2615.1 551.4 2618.7 557.9C2622.3 564.4 2625.7 571 2629.2 577.5C2632.7 584.1 2636.2 590.6 2639.7 597.1C2643.1 603.7 2646.5 610.2 2649.9 616.7C2653.2 623.3 2656.5 629.8 2659.8 636.3C2663.1 642.9 2666.4 649.4 2669.6 655.9C2672.8 662.5 2675.9 669 2678.9 675.5C2682 682.1 2685.2 688.6 2688.2 695.2C2691.2 701.7 2694.1 708.2 2697 714.8C2699.9 721.3 2702.8 727.8 2705.6 734.4C2708.5 740.9 2711.2 747.4 2714 754C2716.7 760.5 2719.6 767 2722.3 773.6C2725 780.1 2727.6 786.6 2730.2 793.2C2732.8 799.7 2735.4 806.3 2738 812.8C2740.6 819.3 2743.3 825.9 2746 832.4C2748.6 838.9 2751.2 845.5 2754 852C2756.8 858.5 2759.9 865.1 2762.9 871.6C2765.8 878.1 2768.7 884.7 2771.5 891.2C2774.3 897.7 2777.2 904.3 2779.6 910.8C2782.1 917.4 2784.2 923.9 2786.3 930.4C2788.5 937 2790.6 943.5 2792.5 950C2794.4 956.6 2796 963.1 2797.7 969.6C2799.4 976.2 2801.2 982.7 2802.6 989.2C2804.1 995.8 2805.1 1002.3 2806.3 1008.8C2807.5 1015.4 2808.7 1021.9 2809.7 1028.5C2810.6 1035 2811.2 1041.5 2811.8 1048.1C2812.5 1054.6 2813.2 1061.1 2813.7 1067.7C2814.2 1074.2 2814.6 1080.7 2814.9 1087.3C2815.2 1093.8 2815.4 1100.3 2815.6 1106.9C2815.8 1113.4 2816 1119.9 2815.9 1126.5C2815.9 1133 2815.7 1139.6 2815.3 1146.1C2815 1152.6 2814.6 1159.2 2814.1 1165.7C2813.6 1172.2 2813.1 1178.8 2812.4 1185.3C2811.7 1191.8 2810.9 1198.4 2809.9 1204.9C2809 1211.4 2807.7 1218 2806.6 1224.5C2805.5 1231 2804.6 1237.6 2803.2 1244.1C2801.9 1250.6 2800.2 1257.2 2798.7 1263.7C2797.1 1270.3 2795.4 1276.8 2793.8 1283.3C2792.1 1289.9 2790.5 1296.4 2788.8 1302.9C2787.1 1309.5 2785.4 1316 2783.7 1322.5C2782 1329.1 2780.3 1335.6 2778.7 1342.1C2777 1348.7 2775.4 1355.2 2773.7 1361.7C2772.1 1368.3 2770.5 1374.8 2768.9 1381.4C2767.3 1387.9 2765.6 1394.4 2764 1401C2762.4 1407.5 2760.8 1414 2759.2 1420.6C2757.6 1427.1 2756.1 1433.6 2754.5 1440.2C2752.8 1446.7 2751.2 1453.2 2749.5 1459.8C2747.9 1466.3 2746.2 1472.8 2744.5 1479.4C2742.8 1485.9 2741.2 1492.5 2739.4 1499C2737.7 1505.5 2735.9 1512.1 2734.1 1518.6C2732.4 1525.1 2729.7 1534.9 2728.9 1538.2M2391 165.8C2393.1 169.1 2399.2 178.9 2403.3 185.4C2407.4 191.9 2411.5 198.5 2415.6 205C2419.7 211.5 2423.8 218.1 2427.9 224.6C2432 231.2 2436.1 237.7 2440.2 244.2C2444.4 250.8 2448.6 257.3 2452.8 263.8C2457 270.4 2461.2 276.9 2465.4 283.4C2469.6 290 2473.9 296.5 2478.1 303C2482.3 309.6 2486.5 316.1 2490.6 322.6C2494.8 329.2 2498.8 335.7 2502.9 342.3C2507 348.8 2511.2 355.3 2515 361.9C2518.8 368.4 2522.2 374.9 2525.9 381.5C2529.5 388 2533.1 394.5 2536.8 401.1C2540.4 407.6 2544.1 414.1 2547.8 420.7C2551.6 427.2 2555.3 433.7 2559.2 440.3C2563.2 446.8 2567.7 453.4 2571.8 459.9C2575.9 466.4 2580 473 2584.1 479.5C2588.1 486 2592.2 492.6 2596.1 499.1C2600 505.6 2603.7 512.2 2607.4 518.7C2611.2 525.2 2614.8 531.8 2618.5 538.3C2622.1 544.8 2625.9 551.4 2629.4 557.9C2633 564.4 2636.4 571 2639.8 577.5C2643.3 584.1 2646.8 590.6 2650.2 597.1C2653.6 603.7 2656.9 610.2 2660.2 616.7C2663.5 623.3 2666.7 629.8 2670 636.3C2673.2 642.9 2676.5 649.4 2679.7 655.9C2682.8 662.5 2685.8 669 2688.9 675.5C2691.9 682.1 2695 688.6 2698 695.2C2700.9 701.7 2703.8 708.2 2706.7 714.8C2709.5 721.3 2712.4 727.8 2715.2 734.4C2718 740.9 2720.7 747.4 2723.4 754C2726.1 760.5 2728.9 767 2731.6 773.6C2734.3 780.1 2736.9 786.6 2739.5 793.2C2742 799.7 2744.5 806.3 2747.1 812.8C2749.6 819.3 2752.2 825.9 2754.8 832.4C2757.4 838.9 2759.8 845.5 2762.5 852C2765.2 858.5 2768.3 865.1 2771.1 871.6C2773.9 878.1 2776.7 884.7 2779.4 891.2C2782.1 897.7 2784.8 904.3 2787.2 910.8C2789.6 917.4 2791.5 923.9 2793.6 930.4C2795.6 937 2797.7 943.5 2799.5 950C2801.3 956.6 2802.9 963.1 2804.5 969.6C2806.1 976.2 2807.8 982.7 2809.2 989.2C2810.6 995.8 2811.6 1002.3 2812.8 1008.8C2813.9 1015.4 2815.1 1021.9 2816 1028.5C2816.9 1035 2817.5 1041.5 2818.1 1048.1C2818.8 1054.6 2819.4 1061.1 2819.9 1067.7C2820.4 1074.2 2820.7 1080.7 2821 1087.3C2821.3 1093.8 2821.5 1100.3 2821.7 1106.9C2821.8 1113.4 2822 1119.9 2821.9 1126.5C2821.9 1133 2821.6 1139.6 2821.4 1146.1C2821.1 1152.6 2820.7 1159.2 2820.3 1165.7C2819.9 1172.2 2819.4 1178.8 2818.8 1185.3C2818.2 1191.8 2817.5 1198.4 2816.6 1204.9C2815.7 1211.4 2814.5 1218 2813.5 1224.5C2812.5 1231 2811.6 1237.6 2810.4 1244.1C2809.2 1250.6 2807.7 1257.2 2806.2 1263.7C2804.7 1270.3 2803.2 1276.8 2801.6 1283.3C2800.1 1289.9 2798.6 1296.4 2797 1302.9C2795.5 1309.5 2793.9 1316 2792.3 1322.5C2790.7 1329.1 2789.1 1335.6 2787.5 1342.1C2786 1348.7 2784.4 1355.2 2782.9 1361.7C2781.4 1368.3 2779.9 1374.8 2778.4 1381.4C2776.8 1387.9 2775.3 1394.4 2773.8 1401C2772.3 1407.5 2770.8 1414 2769.3 1420.6C2767.8 1427.1 2766.3 1433.6 2764.8 1440.2C2763.3 1446.7 2761.7 1453.2 2760.2 1459.8C2758.6 1466.3 2757.1 1472.8 2755.5 1479.4C2753.9 1485.9 2752.4 1492.5 2750.7 1499C2749.1 1505.5 2747.4 1512.1 2745.8 1518.6C2744.1 1525.1 2741.6 1534.9 2740.8 1538.2M2405.3 165.8C2407.3 169.1 2413.4 178.9 2417.4 185.4C2421.4 191.9 2425.4 198.5 2429.4 205C2433.4 211.5 2437.4 218.1 2441.5 224.6C2445.5 231.2 2449.5 237.7 2453.5 244.2C2457.6 250.8 2461.7 257.3 2465.8 263.8C2469.9 270.4 2474 276.9 2478.1 283.4C2482.2 290 2486.3 296.5 2490.4 303C2494.5 309.6 2498.6 316.1 2502.6 322.6C2506.7 329.2 2510.6 335.7 2514.5 342.3C2518.5 348.8 2522.6 355.3 2526.3 361.9C2530.1 368.4 2533.4 374.9 2537 381.5C2540.6 388 2544.1 394.5 2547.7 401.1C2551.3 407.6 2554.9 414.1 2558.6 420.7C2562.3 427.2 2565.9 433.7 2569.8 440.3C2573.8 446.8 2578.1 453.4 2582.2 459.9C2586.2 466.4 2590.2 473 2594.2 479.5C2598.1 486 2602.1 492.6 2606 499.1C2609.8 505.6 2613.4 512.2 2617.1 518.7C2620.8 525.2 2624.4 531.8 2628 538.3C2631.6 544.8 2635.3 551.4 2638.8 557.9C2642.3 564.4 2645.7 571 2649.1 577.5C2652.5 584.1 2656 590.6 2659.3 597.1C2662.7 603.7 2666 610.2 2669.2 616.7C2672.5 623.3 2675.7 629.8 2678.9 636.3C2682.1 642.9 2685.3 649.4 2688.4 655.9C2691.6 662.5 2694.6 669 2697.6 675.5C2700.6 682.1 2703.7 688.6 2706.6 695.2C2709.5 701.7 2712.3 708.2 2715.2 714.8C2718 721.3 2720.8 727.8 2723.6 734.4C2726.4 740.9 2729 747.4 2731.7 754C2734.4 760.5 2737.2 767 2739.8 773.6C2742.5 780.1 2745.1 786.6 2747.6 793.2C2750.1 799.7 2752.6 806.3 2755.1 812.8C2757.6 819.3 2760.1 825.9 2762.6 832.4C2765.1 838.9 2767.5 845.5 2770.2 852C2772.8 858.5 2775.7 865.1 2778.4 871.6C2781.1 878.1 2783.9 884.7 2786.5 891.2C2789.1 897.7 2791.8 904.3 2794.1 910.8C2796.4 917.4 2798.3 923.9 2800.2 930.4C2802.2 937 2804.2 943.5 2806 950C2807.7 956.6 2809.2 963.1 2810.7 969.6C2812.3 976.2 2814 982.7 2815.3 989.2C2816.6 995.8 2817.7 1002.3 2818.8 1008.8C2819.9 1015.4 2821 1021.9 2821.9 1028.5C2822.8 1035 2823.4 1041.5 2824 1048.1C2824.7 1054.6 2825.3 1061.1 2825.8 1067.7C2826.2 1074.2 2826.6 1080.7 2826.9 1087.3C2827.2 1093.8 2827.4 1100.3 2827.5 1106.9C2827.6 1113.4 2827.7 1119.9 2827.7 1126.5C2827.6 1133 2827.4 1139.6 2827.2 1146.1C2826.9 1152.6 2826.6 1159.2 2826.2 1165.7C2825.9 1172.2 2825.5 1178.8 2824.9 1185.3C2824.4 1191.8 2823.7 1198.4 2822.9 1204.9C2822.1 1211.4 2821 1218 2820.1 1224.5C2819.1 1231 2818.3 1237.6 2817.2 1244.1C2816.1 1250.6 2814.7 1257.2 2813.3 1263.7C2811.9 1270.3 2810.5 1276.8 2809 1283.3C2807.6 1289.9 2806.2 1296.4 2804.7 1302.9C2803.2 1309.5 2801.7 1316 2800.2 1322.5C2798.7 1329.1 2797.2 1335.6 2795.8 1342.1C2794.3 1348.7 2792.8 1355.2 2791.4 1361.7C2789.9 1368.3 2788.5 1374.8 2787.1 1381.4C2785.7 1387.9 2784.2 1394.4 2782.8 1401C2781.4 1407.5 2780 1414 2778.5 1420.6C2777.1 1427.1 2775.7 1433.6 2774.3 1440.2C2772.9 1446.7 2771.4 1453.2 2769.9 1459.8C2768.4 1466.3 2767 1472.8 2765.5 1479.4C2764 1485.9 2762.5 1492.5 2761 1499C2759.4 1505.5 2757.8 1512.1 2756.3 1518.6C2754.7 1525.1 2752.4 1534.9 2751.6 1538.2M2418 165.8C2419.9 169.1 2425.8 178.9 2429.8 185.4C2433.7 191.9 2437.6 198.5 2441.6 205C2445.5 211.5 2449.5 218.1 2453.4 224.6C2457.4 231.2 2461.3 237.7 2465.3 244.2C2469.2 250.8 2473.2 257.3 2477.2 263.8C2481.2 270.4 2485.2 276.9 2489.2 283.4C2493.2 290 2497.3 296.5 2501.2 303C2505.2 309.6 2509.3 316.1 2513.2 322.6C2517.1 329.2 2521 335.7 2524.8 342.3C2528.7 348.8 2532.6 355.3 2536.3 361.9C2540 368.4 2543.3 374.9 2546.8 381.5C2550.3 388 2553.9 394.5 2557.4 401.1C2561 407.6 2564.5 414.1 2568.1 420.7C2571.8 427.2 2575.3 433.7 2579.2 440.3C2583.1 446.8 2587.3 453.4 2591.3 459.9C2595.3 466.4 2599.2 473 2603.1 479.5C2607 486 2610.9 492.6 2614.7 499.1C2618.5 505.6 2622 512.2 2625.6 518.7C2629.2 525.2 2632.8 531.8 2636.4 538.3C2639.9 544.8 2643.6 551.4 2647.1 557.9C2650.6 564.4 2653.9 571 2657.3 577.5C2660.7 584.1 2664.2 590.6 2667.5 597.1C2670.8 603.7 2674 610.2 2677.3 616.7C2680.5 623.3 2683.7 629.8 2686.8 636.3C2690 642.9 2693.2 649.4 2696.3 655.9C2699.4 662.5 2702.3 669 2705.3 675.5C2708.3 682.1 2711.4 688.6 2714.3 695.2C2717.2 701.7 2719.9 708.2 2722.8 714.8C2725.6 721.3 2728.4 727.8 2731.1 734.4C2733.8 740.9 2736.5 747.4 2739.2 754C2741.8 760.5 2744.6 767 2747.2 773.6C2749.8 780.1 2752.4 786.6 2754.9 793.2C2757.4 799.7 2759.8 806.3 2762.3 812.8C2764.7 819.3 2767.2 825.9 2769.7 832.4C2772.1 838.9 2774.5 845.5 2777.1 852C2779.6 858.5 2782.5 865.1 2785.1 871.6C2787.8 878.1 2790.4 884.7 2793 891.2C2795.5 897.7 2798.2 904.3 2800.4 910.8C2802.6 917.4 2804.4 923.9 2806.4 930.4C2808.3 937 2810.2 943.5 2811.9 950C2813.6 956.6 2815 963.1 2816.6 969.6C2818.1 976.2 2819.7 982.7 2821 989.2C2822.3 995.8 2823.3 1002.3 2824.4 1008.8C2825.5 1015.4 2826.6 1021.9 2827.5 1028.5C2828.4 1035 2829 1041.5 2829.6 1048.1C2830.3 1054.6 2830.9 1061.1 2831.3 1067.7C2831.8 1074.2 2832.2 1080.7 2832.5 1087.3C2832.8 1093.8 2833 1100.3 2833.1 1106.9C2833.2 1113.4 2833.3 1119.9 2833.2 1126.5C2833.2 1133 2833 1139.6 2832.8 1146.1C2832.5 1152.6 2832.3 1159.2 2831.9 1165.7C2831.6 1172.2 2831.3 1178.8 2830.8 1185.3C2830.3 1191.8 2829.7 1198.4 2829 1204.9C2828.2 1211.4 2827.2 1218 2826.3 1224.5C2825.4 1231 2824.7 1237.6 2823.6 1244.1C2822.6 1250.6 2821.3 1257.2 2820 1263.7C2818.7 1270.3 2817.3 1276.8 2816 1283.3C2814.6 1289.9 2813.3 1296.4 2811.9 1302.9C2810.5 1309.5 2809 1316 2807.6 1322.5C2806.2 1329.1 2804.8 1335.6 2803.4 1342.1C2802 1348.7 2800.6 1355.2 2799.3 1361.7C2797.9 1368.3 2796.6 1374.8 2795.2 1381.4C2793.8 1387.9 2792.5 1394.4 2791.1 1401C2789.7 1407.5 2788.4 1414 2787 1420.6C2785.7 1427.1 2784.4 1433.6 2783 1440.2C2781.6 1446.7 2780.2 1453.2 2778.8 1459.8C2777.4 1466.3 2776 1472.8 2774.6 1479.4C2773.2 1485.9 2771.8 1492.5 2770.3 1499C2768.8 1505.5 2767.3 1512.1 2765.8 1518.6C2764.3 1525.1 2762.1 1534.9 2761.4 1538.2M2429.2 165.8C2431.2 169.1 2437 178.9 2440.9 185.4C2444.7 191.9 2448.6 198.5 2452.5 205C2456.4 211.5 2460.2 218.1 2464.1 224.6C2468 231.2 2471.9 237.7 2475.8 244.2C2479.7 250.8 2483.6 257.3 2487.5 263.8C2491.4 270.4 2495.3 276.9 2499.2 283.4C2503.1 290 2507.1 296.5 2511 303C2514.9 309.6 2518.8 316.1 2522.7 322.6C2526.5 329.2 2530.3 335.7 2534 342.3C2537.8 348.8 2541.6 355.3 2545.2 361.9C2548.8 368.4 2552.1 374.9 2555.6 381.5C2559.1 388 2562.6 394.5 2566.1 401.1C2569.6 407.6 2573.1 414.1 2576.6 420.7C2580.2 427.2 2583.7 433.7 2587.6 440.3C2591.4 446.8 2595.6 453.4 2599.5 459.9C2603.5 466.4 2607.3 473 2611.1 479.5C2615 486 2618.8 492.6 2622.5 499.1C2626.2 505.6 2629.7 512.2 2633.3 518.7C2636.9 525.2 2640.4 531.8 2643.9 538.3C2647.5 544.8 2651.1 551.4 2654.5 557.9C2658 564.4 2661.3 571 2664.7 577.5C2668.1 584.1 2671.5 590.6 2674.8 597.1C2678.1 603.7 2681.3 610.2 2684.5 616.7C2687.7 623.3 2690.8 629.8 2694 636.3C2697.1 642.9 2700.3 649.4 2703.3 655.9C2706.4 662.5 2709.4 669 2712.3 675.5C2715.3 682.1 2718.3 688.6 2721.2 695.2C2724.1 701.7 2726.8 708.2 2729.6 714.8C2732.4 721.3 2735.1 727.8 2737.9 734.4C2740.6 740.9 2743.2 747.4 2745.9 754C2748.5 760.5 2751.2 767 2753.8 773.6C2756.4 780.1 2759 786.6 2761.5 793.2C2764 799.7 2766.4 806.3 2768.8 812.8C2771.2 819.3 2773.6 825.9 2776.1 832.4C2778.5 838.9 2780.8 845.5 2783.4 852C2785.9 858.5 2788.7 865.1 2791.2 871.6C2793.8 878.1 2796.4 884.7 2798.9 891.2C2801.4 897.7 2804 904.3 2806.2 910.8C2808.4 917.4 2810.2 923.9 2812 930.4C2813.9 937 2815.8 943.5 2817.4 950C2819.1 956.6 2820.5 963.1 2822 969.6C2823.5 976.2 2825 982.7 2826.3 989.2C2827.6 995.8 2828.6 1002.3 2829.7 1008.8C2830.8 1015.4 2831.9 1021.9 2832.8 1028.5C2833.6 1035 2834.3 1041.5 2834.9 1048.1C2835.6 1054.6 2836.1 1061.1 2836.6 1067.7C2837.1 1074.2 2837.5 1080.7 2837.8 1087.3C2838.1 1093.8 2838.3 1100.3 2838.4 1106.9C2838.6 1113.4 2838.6 1119.9 2838.6 1126.5C2838.5 1133 2838.3 1139.6 2838.2 1146.1C2838 1152.6 2837.7 1159.2 2837.4 1165.7C2837.1 1172.2 2836.8 1178.8 2836.4 1185.3C2835.9 1191.8 2835.4 1198.4 2834.7 1204.9C2834 1211.4 2833 1218 2832.2 1224.5C2831.4 1231 2830.7 1237.6 2829.7 1244.1C2828.7 1250.6 2827.5 1257.2 2826.3 1263.7C2825.1 1270.3 2823.8 1276.8 2822.5 1283.3C2821.2 1289.9 2820 1296.4 2818.6 1302.9C2817.3 1309.5 2815.9 1316 2814.6 1322.5C2813.3 1329.1 2811.9 1335.6 2810.6 1342.1C2809.3 1348.7 2807.9 1355.2 2806.6 1361.7C2805.3 1368.3 2804 1374.8 2802.7 1381.4C2801.4 1387.9 2800.1 1394.4 2798.8 1401C2797.5 1407.5 2796.2 1414 2794.9 1420.6C2793.6 1427.1 2792.4 1433.6 2791.1 1440.2C2789.8 1446.7 2788.4 1453.2 2787.1 1459.8C2785.7 1466.3 2784.4 1472.8 2783 1479.4C2781.6 1485.9 2780.3 1492.5 2778.9 1499C2777.5 1505.5 2776 1512.1 2774.6 1518.6C2773.2 1525.1 2771 1534.9 2770.3 1538.2M2439.5 165.8C2441.4 169.1 2447.1 178.9 2450.9 185.4C2454.7 191.9 2458.5 198.5 2462.3 205C2466.2 211.5 2470 218.1 2473.8 224.6C2477.6 231.2 2481.5 237.7 2485.3 244.2C2489.1 250.8 2492.9 257.3 2496.8 263.8C2500.6 270.4 2504.4 276.9 2508.3 283.4C2512.1 290 2515.9 296.5 2519.8 303C2523.6 309.6 2527.5 316.1 2531.2 322.6C2535 329.2 2538.7 335.7 2542.3 342.3C2546 348.8 2549.8 355.3 2553.3 361.9C2556.9 368.4 2560.1 374.9 2563.6 381.5C2567 388 2570.4 394.5 2573.9 401.1C2577.4 407.6 2580.8 414.1 2584.3 420.7C2587.9 427.2 2591.4 433.7 2595.2 440.3C2598.9 446.8 2603.1 453.4 2607 459.9C2610.9 466.4 2614.6 473 2618.4 479.5C2622.2 486 2626 492.6 2629.6 499.1C2633.3 505.6 2636.7 512.2 2640.3 518.7C2643.8 525.2 2647.3 531.8 2650.8 538.3C2654.3 544.8 2657.9 551.4 2661.3 557.9C2664.8 564.4 2668.1 571 2671.4 577.5C2674.8 584.1 2678.2 590.6 2681.4 597.1C2684.7 603.7 2687.9 610.2 2691 616.7C2694.2 623.3 2697.3 629.8 2700.4 636.3C2703.6 642.9 2706.7 649.4 2709.7 655.9C2712.8 662.5 2715.7 669 2718.7 675.5C2721.6 682.1 2724.6 688.6 2727.5 695.2C2730.3 701.7 2733.1 708.2 2735.8 714.8C2738.6 721.3 2741.3 727.8 2744 734.4C2746.7 740.9 2749.3 747.4 2752 754C2754.6 760.5 2757.3 767 2759.9 773.6C2762.5 780.1 2765 786.6 2767.5 793.2C2770 799.7 2772.4 806.3 2774.8 812.8C2777.2 819.3 2779.6 825.9 2781.9 832.4C2784.3 838.9 2786.7 845.5 2789.1 852C2791.6 858.5 2794.4 865.1 2796.9 871.6C2799.5 878.1 2802 884.7 2804.5 891.2C2806.9 897.7 2809.5 904.3 2811.6 910.8C2813.8 917.4 2815.5 923.9 2817.3 930.4C2819.2 937 2821 943.5 2822.6 950C2824.3 956.6 2825.6 963.1 2827.1 969.6C2828.5 976.2 2830.1 982.7 2831.3 989.2C2832.6 995.8 2833.7 1002.3 2834.7 1008.8C2835.8 1015.4 2836.9 1021.9 2837.8 1028.5C2838.6 1035 2839.3 1041.5 2840 1048.1C2840.6 1054.6 2841.2 1061.1 2841.7 1067.7C2842.2 1074.2 2842.6 1080.7 2842.9 1087.3C2843.2 1093.8 2843.4 1100.3 2843.6 1106.9C2843.7 1113.4 2843.8 1119.9 2843.7 1126.5C2843.7 1133 2843.5 1139.6 2843.4 1146.1C2843.2 1152.6 2843 1159.2 2842.7 1165.7C2842.5 1172.2 2842.2 1178.8 2841.7 1185.3C2841.3 1191.8 2840.9 1198.4 2840.2 1204.9C2839.6 1211.4 2838.6 1218 2837.9 1224.5C2837.1 1231 2836.4 1237.6 2835.5 1244.1C2834.6 1250.6 2833.4 1257.2 2832.3 1263.7C2831.2 1270.3 2829.9 1276.8 2828.7 1283.3C2827.5 1289.9 2826.3 1296.4 2825 1302.9C2823.8 1309.5 2822.4 1316 2821.2 1322.5C2819.9 1329.1 2818.6 1335.6 2817.3 1342.1C2816 1348.7 2814.8 1355.2 2813.5 1361.7C2812.3 1368.3 2811.1 1374.8 2809.8 1381.4C2808.6 1387.9 2807.3 1394.4 2806 1401C2804.8 1407.5 2803.5 1414 2802.3 1420.6C2801.1 1427.1 2799.8 1433.6 2798.6 1440.2C2797.3 1446.7 2796 1453.2 2794.7 1459.8C2793.4 1466.3 2792.1 1472.8 2790.8 1479.4C2789.5 1485.9 2788.2 1492.5 2786.8 1499C2785.5 1505.5 2784.1 1512.1 2782.7 1518.6C2781.3 1525.1 2779.3 1534.9 2778.6 1538.2M2448.8 165.8C2450.7 169.1 2456.3 178.9 2460.1 185.4C2463.8 191.9 2467.6 198.5 2471.3 205C2475.1 211.5 2478.9 218.1 2482.6 224.6C2486.4 231.2 2490.2 237.7 2493.9 244.2C2497.7 250.8 2501.5 257.3 2505.2 263.8C2509 270.4 2512.7 276.9 2516.5 283.4C2520.3 290 2524 296.5 2527.8 303C2531.5 309.6 2535.4 316.1 2539 322.6C2542.7 329.2 2546.3 335.7 2549.9 342.3C2553.5 348.8 2557.2 355.3 2560.7 361.9C2564.2 368.4 2567.4 374.9 2570.8 381.5C2574.2 388 2577.6 394.5 2581 401.1C2584.5 407.6 2587.9 414.1 2591.4 420.7C2594.9 427.2 2598.3 433.7 2602.1 440.3C2605.8 446.8 2609.9 453.4 2613.8 459.9C2617.6 466.4 2621.3 473 2625.1 479.5C2628.8 486 2632.5 492.6 2636.1 499.1C2639.7 505.6 2643.1 512.2 2646.6 518.7C2650.1 525.2 2653.6 531.8 2657 538.3C2660.5 544.8 2664.1 551.4 2667.5 557.9C2670.9 564.4 2674.2 571 2677.6 577.5C2680.9 584.1 2684.3 590.6 2687.5 597.1C2690.8 603.7 2693.9 610.2 2697 616.7C2700.2 623.3 2703.3 629.8 2706.4 636.3C2709.5 642.9 2712.6 649.4 2715.6 655.9C2718.6 662.5 2721.6 669 2724.5 675.5C2727.5 682.1 2730.4 688.6 2733.3 695.2C2736.1 701.7 2738.8 708.2 2741.6 714.8C2744.3 721.3 2747 727.8 2749.7 734.4C2752.4 740.9 2755 747.4 2757.6 754C2760.2 760.5 2762.9 767 2765.5 773.6C2768 780.1 2770.6 786.6 2773 793.2C2775.5 799.7 2777.9 806.3 2780.3 812.8C2782.7 819.3 2785 825.9 2787.4 832.4C2789.8 838.9 2792 845.5 2794.5 852C2797 858.5 2799.6 865.1 2802.1 871.6C2804.7 878.1 2807.2 884.7 2809.6 891.2C2812 897.7 2814.6 904.3 2816.7 910.8C2818.8 917.4 2820.5 923.9 2822.3 930.4C2824.1 937 2825.9 943.5 2827.5 950C2829.1 956.6 2830.5 963.1 2831.9 969.6C2833.3 976.2 2834.8 982.7 2836.1 989.2C2837.3 995.8 2838.4 1002.3 2839.5 1008.8C2840.5 1015.4 2841.6 1021.9 2842.5 1028.5C2843.4 1035 2844.1 1041.5 2844.7 1048.1C2845.4 1054.6 2846 1061.1 2846.5 1067.7C2847 1074.2 2847.4 1080.7 2847.8 1087.3C2848.1 1093.8 2848.3 1100.3 2848.5 1106.9C2848.6 1113.4 2848.7 1119.9 2848.7 1126.5C2848.7 1133 2848.6 1139.6 2848.4 1146.1C2848.3 1152.6 2848.1 1159.2 2847.8 1165.7C2847.6 1172.2 2847.3 1178.8 2846.9 1185.3C2846.5 1191.8 2846.1 1198.4 2845.5 1204.9C2844.9 1211.4 2844 1218 2843.3 1224.5C2842.5 1231 2841.9 1237.6 2841 1244.1C2840.1 1250.6 2839.1 1257.2 2838 1263.7C2836.9 1270.3 2835.7 1276.8 2834.6 1283.3C2833.4 1289.9 2832.3 1296.4 2831.1 1302.9C2829.9 1309.5 2828.6 1316 2827.4 1322.5C2826.1 1329.1 2824.9 1335.6 2823.7 1342.1C2822.5 1348.7 2821.2 1355.2 2820 1361.7C2818.8 1368.3 2817.6 1374.8 2816.4 1381.4C2815.2 1387.9 2814 1394.4 2812.8 1401C2811.6 1407.5 2810.4 1414 2809.2 1420.6C2808 1427.1 2806.8 1433.6 2805.6 1440.2C2804.4 1446.7 2803.1 1453.2 2801.9 1459.8C2800.6 1466.3 2799.4 1472.8 2798.1 1479.4C2796.8 1485.9 2795.6 1492.5 2794.3 1499C2792.9 1505.5 2791.6 1512.1 2790.3 1518.6C2788.9 1525.1 2786.9 1534.9 2786.3 1538.2M2457.3 165.8C2459.2 169.1 2464.8 178.9 2468.5 185.4C2472.2 191.9 2475.9 198.5 2479.6 205C2483.3 211.5 2487.1 218.1 2490.8 224.6C2494.5 231.2 2498.2 237.7 2501.9 244.2C2505.6 250.8 2509.3 257.3 2513 263.8C2516.7 270.4 2520.4 276.9 2524.1 283.4C2527.8 290 2531.5 296.5 2535.2 303C2538.9 309.6 2542.6 316.1 2546.2 322.6C2549.9 329.2 2553.4 335.7 2556.9 342.3C2560.5 348.8 2564 355.3 2567.5 361.9C2570.9 368.4 2574.1 374.9 2577.5 381.5C2580.9 388 2584.2 394.5 2587.6 401.1C2591 407.6 2594.4 414.1 2597.9 420.7C2601.3 427.2 2604.8 433.7 2608.5 440.3C2612.2 446.8 2616.2 453.4 2620 459.9C2623.8 466.4 2627.5 473 2631.2 479.5C2634.9 486 2638.6 492.6 2642.1 499.1C2645.7 505.6 2649 512.2 2652.5 518.7C2655.9 525.2 2659.4 531.8 2662.8 538.3C2666.3 544.8 2669.8 551.4 2673.2 557.9C2676.6 564.4 2679.9 571 2683.2 577.5C2686.6 584.1 2689.9 590.6 2693.1 597.1C2696.4 603.7 2699.5 610.2 2702.6 616.7C2705.7 623.3 2708.8 629.8 2711.9 636.3C2714.9 642.9 2718 649.4 2721 655.9C2724.1 662.5 2727 669 2729.9 675.5C2732.8 682.1 2735.8 688.6 2738.6 695.2C2741.4 701.7 2744.1 708.2 2746.9 714.8C2749.6 721.3 2752.3 727.8 2754.9 734.4C2757.6 740.9 2760.2 747.4 2762.8 754C2765.4 760.5 2768.1 767 2770.6 773.6C2773.2 780.1 2775.7 786.6 2778.1 793.2C2780.6 799.7 2783 806.3 2785.4 812.8C2787.7 819.3 2790.1 825.9 2792.4 832.4C2794.8 838.9 2797.1 845.5 2799.5 852C2801.9 858.5 2804.6 865.1 2807 871.6C2809.5 878.1 2812 884.7 2814.4 891.2C2816.8 897.7 2819.3 904.3 2821.4 910.8C2823.5 917.4 2825.2 923.9 2826.9 930.4C2828.7 937 2830.5 943.5 2832.1 950C2833.7 956.6 2835 963.1 2836.4 969.6C2837.8 976.2 2839.3 982.7 2840.5 989.2C2841.8 995.8 2842.9 1002.3 2844 1008.8C2845 1015.4 2846.1 1021.9 2847 1028.5C2847.9 1035 2848.6 1041.5 2849.3 1048.1C2850 1054.6 2850.6 1061.1 2851.1 1067.7C2851.6 1074.2 2852.1 1080.7 2852.4 1087.3C2852.8 1093.8 2853.1 1100.3 2853.2 1106.9C2853.4 1113.4 2853.5 1119.9 2853.5 1126.5C2853.5 1133 2853.4 1139.6 2853.3 1146.1C2853.2 1152.6 2853 1159.2 2852.8 1165.7C2852.5 1172.2 2852.3 1178.8 2851.9 1185.3C2851.5 1191.8 2851.2 1198.4 2850.6 1204.9C2850 1211.4 2849.2 1218 2848.4 1224.5C2847.7 1231 2847.1 1237.6 2846.3 1244.1C2845.5 1250.6 2844.5 1257.2 2843.5 1263.7C2842.4 1270.3 2841.3 1276.8 2840.2 1283.3C2839.1 1289.9 2838 1296.4 2836.8 1302.9C2835.6 1309.5 2834.4 1316 2833.2 1322.5C2832.1 1329.1 2830.9 1335.6 2829.7 1342.1C2828.5 1348.7 2827.3 1355.2 2826.2 1361.7C2825 1368.3 2823.9 1374.8 2822.7 1381.4C2821.5 1387.9 2820.4 1394.4 2819.2 1401C2818 1407.5 2816.9 1414 2815.7 1420.6C2814.5 1427.1 2813.4 1433.6 2812.2 1440.2C2811 1446.7 2809.8 1453.2 2808.6 1459.8C2807.4 1466.3 2806.1 1472.8 2804.9 1479.4C2803.7 1485.9 2802.4 1492.5 2801.2 1499C2799.9 1505.5 2798.6 1512.1 2797.3 1518.6C2796 1525.1 2794.1 1534.9 2793.4 1538.2M2465.3 165.8C2467.1 169.1 2472.6 178.9 2476.3 185.4C2480 191.9 2483.6 198.5 2487.3 205C2491 211.5 2494.6 218.1 2498.3 224.6C2502 231.2 2505.7 237.7 2509.3 244.2C2513 250.8 2516.6 257.3 2520.2 263.8C2523.9 270.4 2527.5 276.9 2531.1 283.4C2534.7 290 2538.4 296.5 2542 303C2545.6 309.6 2549.3 316.1 2552.9 322.6C2556.5 329.2 2559.9 335.7 2563.4 342.3C2566.9 348.8 2570.4 355.3 2573.8 361.9C2577.1 368.4 2580.4 374.9 2583.7 381.5C2587 388 2590.3 394.5 2593.7 401.1C2597.1 407.6 2600.4 414.1 2603.9 420.7C2607.3 427.2 2610.7 433.7 2614.4 440.3C2618 446.8 2622.1 453.4 2625.8 459.9C2629.6 466.4 2633.2 473 2636.9 479.5C2640.5 486 2644.1 492.6 2647.7 499.1C2651.2 505.6 2654.5 512.2 2657.9 518.7C2661.3 525.2 2664.7 531.8 2668.2 538.3C2671.6 544.8 2675.1 551.4 2678.5 557.9C2681.9 564.4 2685.2 571 2688.5 577.5C2691.8 584.1 2695.1 590.6 2698.4 597.1C2701.6 603.7 2704.6 610.2 2707.8 616.7C2710.9 623.3 2713.9 629.8 2717 636.3C2720 642.9 2723.1 649.4 2726.1 655.9C2729.1 662.5 2732 669 2734.9 675.5C2737.8 682.1 2740.8 688.6 2743.6 695.2C2746.4 701.7 2749.1 708.2 2751.8 714.8C2754.5 721.3 2757.2 727.8 2759.8 734.4C2762.4 740.9 2765 747.4 2767.7 754C2770.3 760.5 2772.9 767 2775.4 773.6C2778 780.1 2780.5 786.6 2782.9 793.2C2785.4 799.7 2787.7 806.3 2790.1 812.8C2792.5 819.3 2794.8 825.9 2797.1 832.4C2799.5 838.9 2801.7 845.5 2804.2 852C2806.6 858.5 2809.2 865.1 2811.6 871.6C2814.1 878.1 2816.5 884.7 2818.9 891.2C2821.3 897.7 2823.8 904.3 2825.9 910.8C2827.9 917.4 2829.6 923.9 2831.3 930.4C2833.1 937 2834.9 943.5 2836.4 950C2838 956.6 2839.3 963.1 2840.7 969.6C2842.1 976.2 2843.5 982.7 2844.8 989.2C2846 995.8 2847.2 1002.3 2848.2 1008.8C2849.3 1015.4 2850.4 1021.9 2851.3 1028.5C2852.2 1035 2853 1041.5 2853.7 1048.1C2854.4 1054.6 2855 1061.1 2855.5 1067.7C2856.1 1074.2 2856.6 1080.7 2857 1087.3C2857.3 1093.8 2857.6 1100.3 2857.8 1106.9C2858 1113.4 2858.2 1119.9 2858.2 1126.5C2858.2 1133 2858.1 1139.6 2858 1146.1C2857.9 1152.6 2857.7 1159.2 2857.5 1165.7C2857.3 1172.2 2857 1178.8 2856.7 1185.3C2856.4 1191.8 2856 1198.4 2855.5 1204.9C2854.9 1211.4 2854.1 1218 2853.4 1224.5C2852.7 1231 2852.1 1237.6 2851.4 1244.1C2850.6 1250.6 2849.6 1257.2 2848.7 1263.7C2847.7 1270.3 2846.6 1276.8 2845.5 1283.3C2844.4 1289.9 2843.4 1296.4 2842.3 1302.9C2841.2 1309.5 2840 1316 2838.8 1322.5C2837.7 1329.1 2836.5 1335.6 2835.4 1342.1C2834.3 1348.7 2833.1 1355.2 2832 1361.7C2830.9 1368.3 2829.8 1374.8 2828.6 1381.4C2827.5 1387.9 2826.4 1394.4 2825.2 1401C2824.1 1407.5 2822.9 1414 2821.8 1420.6C2820.7 1427.1 2819.6 1433.6 2818.4 1440.2C2817.3 1446.7 2816.1 1453.2 2814.9 1459.8C2813.7 1466.3 2812.5 1472.8 2811.3 1479.4C2810.1 1485.9 2808.9 1492.5 2807.7 1499C2806.5 1505.5 2805.2 1512.1 2803.9 1518.6C2802.7 1525.1 2800.8 1534.9 2800.2 1538.2M2472.7 165.8C2474.5 169.1 2479.9 178.9 2483.5 185.4C2487.2 191.9 2490.8 198.5 2494.4 205C2498 211.5 2501.7 218.1 2505.3 224.6C2508.9 231.2 2512.6 237.7 2516.2 244.2C2519.8 250.8 2523.4 257.3 2526.9 263.8C2530.5 270.4 2534.1 276.9 2537.7 283.4C2541.2 290 2544.8 296.5 2548.4 303C2552 309.6 2555.6 316.1 2559.1 322.6C2562.6 329.2 2566 335.7 2569.4 342.3C2572.8 348.8 2576.3 355.3 2579.6 361.9C2582.9 368.4 2586.1 374.9 2589.4 381.5C2592.7 388 2596 394.5 2599.4 401.1C2602.7 407.6 2606 414.1 2609.4 420.7C2612.9 427.2 2616.2 433.7 2619.9 440.3C2623.5 446.8 2627.5 453.4 2631.2 459.9C2634.9 466.4 2638.5 473 2642.1 479.5C2645.7 486 2649.3 492.6 2652.8 499.1C2656.3 505.6 2659.6 512.2 2663 518.7C2666.4 525.2 2669.8 531.8 2673.2 538.3C2676.6 544.8 2680.1 551.4 2683.5 557.9C2686.8 564.4 2690.1 571 2693.4 577.5C2696.7 584.1 2700 590.6 2703.2 597.1C2706.4 603.7 2709.5 610.2 2712.6 616.7C2715.6 623.3 2718.7 629.8 2721.7 636.3C2724.8 642.9 2727.8 649.4 2730.8 655.9C2733.8 662.5 2736.7 669 2739.6 675.5C2742.5 682.1 2745.4 688.6 2748.2 695.2C2751 701.7 2753.7 708.2 2756.4 714.8C2759.1 721.3 2761.7 727.8 2764.4 734.4C2767 740.9 2769.6 747.4 2772.2 754C2774.8 760.5 2777.4 767 2779.9 773.6C2782.5 780.1 2784.9 786.6 2787.4 793.2C2789.8 799.7 2792.2 806.3 2794.5 812.8C2796.9 819.3 2799.2 825.9 2801.5 832.4C2803.9 838.9 2806.1 845.5 2808.5 852C2810.9 858.5 2813.5 865.1 2815.9 871.6C2818.4 878.1 2820.8 884.7 2823.2 891.2C2825.5 897.7 2828 904.3 2830.1 910.8C2832.1 917.4 2833.8 923.9 2835.5 930.4C2837.2 937 2839 943.5 2840.6 950C2842.1 956.6 2843.4 963.1 2844.8 969.6C2846.2 976.2 2847.6 982.7 2848.8 989.2C2850.1 995.8 2851.2 1002.3 2852.3 1008.8C2853.4 1015.4 2854.5 1021.9 2855.4 1028.5C2856.3 1035 2857.1 1041.5 2857.9 1048.1C2858.6 1054.6 2859.2 1061.1 2859.8 1067.7C2860.4 1074.2 2860.9 1080.7 2861.3 1087.3C2861.7 1093.8 2862 1100.3 2862.3 1106.9C2862.5 1113.4 2862.6 1119.9 2862.7 1126.5C2862.8 1133 2862.7 1139.6 2862.6 1146.1C2862.5 1152.6 2862.3 1159.2 2862.1 1165.7C2861.9 1172.2 2861.7 1178.8 2861.3 1185.3C2861 1191.8 2860.7 1198.4 2860.2 1204.9C2859.7 1211.4 2858.9 1218 2858.2 1224.5C2857.5 1231 2857 1237.6 2856.2 1244.1C2855.4 1250.6 2854.6 1257.2 2853.7 1263.7C2852.7 1270.3 2851.6 1276.8 2850.6 1283.3C2849.6 1289.9 2848.6 1296.4 2847.5 1302.9C2846.4 1309.5 2845.3 1316 2844.2 1322.5C2843 1329.1 2841.9 1335.6 2840.8 1342.1C2839.7 1348.7 2838.6 1355.2 2837.5 1361.7C2836.4 1368.3 2835.4 1374.8 2834.3 1381.4C2833.2 1387.9 2832 1394.4 2830.9 1401C2829.8 1407.5 2828.7 1414 2827.6 1420.6C2826.5 1427.1 2825.4 1433.6 2824.3 1440.2C2823.2 1446.7 2822 1453.2 2820.8 1459.8C2819.7 1466.3 2818.5 1472.8 2817.4 1479.4C2816.2 1485.9 2815 1492.5 2813.8 1499C2812.6 1505.5 2811.4 1512.1 2810.2 1518.6C2808.9 1525.1 2807.1 1534.9 2806.5 1538.2M2479.6 165.8C2481.4 169.1 2486.8 178.9 2490.3 185.4C2493.9 191.9 2497.5 198.5 2501.1 205C2504.7 211.5 2508.3 218.1 2511.9 224.6C2515.4 231.2 2519.1 237.7 2522.6 244.2C2526.2 250.8 2529.7 257.3 2533.2 263.8C2536.7 270.4 2540.3 276.9 2543.8 283.4C2547.3 290 2550.8 296.5 2554.3 303C2557.9 309.6 2561.4 316.1 2564.9 322.6C2568.3 329.2 2571.7 335.7 2575 342.3C2578.4 348.8 2581.8 355.3 2585.1 361.9C2588.4 368.4 2591.5 374.9 2594.8 381.5C2598.1 388 2601.4 394.5 2604.7 401.1C2608 407.6 2611.3 414.1 2614.7 420.7C2618.1 427.2 2621.4 433.7 2625 440.3C2628.6 446.8 2632.6 453.4 2636.3 459.9C2640 466.4 2643.5 473 2647.1 479.5C2650.6 486 2654.2 492.6 2657.7 499.1C2661.1 505.6 2664.4 512.2 2667.7 518.7C2671.1 525.2 2674.5 531.8 2677.9 538.3C2681.2 544.8 2684.7 551.4 2688.1 557.9C2691.5 564.4 2694.7 571 2698 577.5C2701.3 584.1 2704.6 590.6 2707.8 597.1C2711 603.7 2714 610.2 2717.1 616.7C2720.1 623.3 2723.2 629.8 2726.2 636.3C2729.2 642.9 2732.3 649.4 2735.2 655.9C2738.2 662.5 2741.1 669 2744 675.5C2746.9 682.1 2749.8 688.6 2752.6 695.2C2755.3 701.7 2758 708.2 2760.7 714.8C2763.4 721.3 2766 727.8 2768.6 734.4C2771.2 740.9 2773.8 747.4 2776.4 754C2779 760.5 2781.6 767 2784.1 773.6C2786.7 780.1 2789.1 786.6 2791.6 793.2C2794 799.7 2796.4 806.3 2798.7 812.8C2801.1 819.3 2803.4 825.9 2805.7 832.4C2808 838.9 2810.3 845.5 2812.7 852C2815.1 858.5 2817.6 865.1 2820 871.6C2822.4 878.1 2824.8 884.7 2827.2 891.2C2829.5 897.7 2832 904.3 2834.1 910.8C2836.1 917.4 2837.7 923.9 2839.5 930.4C2841.2 937 2842.9 943.5 2844.5 950C2846 956.6 2847.3 963.1 2848.7 969.6C2850.1 976.2 2851.5 982.7 2852.7 989.2C2854 995.8 2855.1 1002.3 2856.2 1008.8C2857.3 1015.4 2858.4 1021.9 2859.3 1028.5C2860.3 1035 2861.1 1041.5 2861.9 1048.1C2862.6 1054.6 2863.3 1061.1 2863.9 1067.7C2864.5 1074.2 2865 1080.7 2865.5 1087.3C2865.9 1093.8 2866.3 1100.3 2866.5 1106.9C2866.8 1113.4 2867 1119.9 2867.1 1126.5C2867.2 1133 2867.2 1139.6 2867.1 1146.1C2867 1152.6 2866.8 1159.2 2866.6 1165.7C2866.4 1172.2 2866.1 1178.8 2865.8 1185.3C2865.5 1191.8 2865.2 1198.4 2864.7 1204.9C2864.2 1211.4 2863.4 1218 2862.8 1224.5C2862.1 1231 2861.6 1237.6 2860.9 1244.1C2860.1 1250.6 2859.3 1257.2 2858.4 1263.7C2857.5 1270.3 2856.5 1276.8 2855.5 1283.3C2854.5 1289.9 2853.5 1296.4 2852.5 1302.9C2851.4 1309.5 2850.3 1316 2849.2 1322.5C2848.2 1329.1 2847.1 1335.6 2846 1342.1C2844.9 1348.7 2843.9 1355.2 2842.8 1361.7C2841.7 1368.3 2840.7 1374.8 2839.6 1381.4C2838.5 1387.9 2837.5 1394.4 2836.4 1401C2835.3 1407.5 2834.2 1414 2833.1 1420.6C2832 1427.1 2831 1433.6 2829.9 1440.2C2828.8 1446.7 2827.6 1453.2 2826.5 1459.8C2825.4 1466.3 2824.2 1472.8 2823.1 1479.4C2821.9 1485.9 2820.8 1492.5 2819.6 1499C2818.5 1505.5 2817.2 1512.1 2816 1518.6C2814.9 1525.1 2813.1 1534.9 2812.5 1538.2M2486.1 165.8C2487.9 169.1 2493.2 178.9 2496.7 185.4C2500.3 191.9 2503.8 198.5 2507.4 205C2510.9 211.5 2514.5 218.1 2518 224.6C2521.6 231.2 2525.1 237.7 2528.7 244.2C2532.2 250.8 2535.6 257.3 2539.1 263.8C2542.6 270.4 2546 276.9 2549.5 283.4C2553 290 2556.5 296.5 2559.9 303C2563.4 309.6 2566.9 316.1 2570.3 322.6C2573.7 329.2 2577 335.7 2580.3 342.3C2583.6 348.8 2586.9 355.3 2590.2 361.9C2593.5 368.4 2596.6 374.9 2599.9 381.5C2603.1 388 2606.4 394.5 2609.7 401.1C2612.9 407.6 2616.2 414.1 2619.6 420.7C2622.9 427.2 2626.3 433.7 2629.9 440.3C2633.4 446.8 2637.4 453.4 2641 459.9C2644.7 466.4 2648.2 473 2651.7 479.5C2655.3 486 2658.8 492.6 2662.2 499.1C2665.6 505.6 2668.9 512.2 2672.2 518.7C2675.5 525.2 2678.9 531.8 2682.3 538.3C2685.6 544.8 2689.1 551.4 2692.5 557.9C2695.8 564.4 2699.1 571 2702.3 577.5C2705.6 584.1 2708.9 590.6 2712.1 597.1C2715.2 603.7 2718.3 610.2 2721.3 616.7C2724.4 623.3 2727.4 629.8 2730.4 636.3C2733.4 642.9 2736.4 649.4 2739.4 655.9C2742.3 662.5 2745.3 669 2748.1 675.5C2751 682.1 2753.9 688.6 2756.7 695.2C2759.4 701.7 2762.1 708.2 2764.8 714.8C2767.4 721.3 2770.1 727.8 2772.7 734.4C2775.3 740.9 2777.9 747.4 2780.4 754C2783 760.5 2785.6 767 2788.1 773.6C2790.6 780.1 2793.1 786.6 2795.5 793.2C2797.9 799.7 2800.3 806.3 2802.7 812.8C2805 819.3 2807.3 825.9 2809.6 832.4C2811.9 838.9 2814.2 845.5 2816.6 852C2819 858.5 2821.5 865.1 2823.9 871.6C2826.3 878.1 2828.7 884.7 2831 891.2C2833.3 897.7 2835.8 904.3 2837.9 910.8C2839.9 917.4 2841.5 923.9 2843.2 930.4C2844.9 937 2846.7 943.5 2848.2 950C2849.7 956.6 2851.1 963.1 2852.4 969.6C2853.8 976.2 2855.2 982.7 2856.4 989.2C2857.7 995.8 2858.9 1002.3 2860 1008.8C2861.1 1015.4 2862.1 1021.9 2863.1 1028.5C2864.1 1035 2865 1041.5 2865.8 1048.1C2866.5 1054.6 2867.2 1061.1 2867.8 1067.7C2868.4 1074.2 2869.1 1080.7 2869.5 1087.3C2870 1093.8 2870.4 1100.3 2870.7 1106.9C2871 1113.4 2871.2 1119.9 2871.3 1126.5C2871.4 1133 2871.5 1139.6 2871.4 1146.1C2871.3 1152.6 2871.1 1159.2 2870.9 1165.7C2870.7 1172.2 2870.4 1178.8 2870.1 1185.3C2869.8 1191.8 2869.6 1198.4 2869.1 1204.9C2868.6 1211.4 2867.8 1218 2867.2 1224.5C2866.6 1231 2866 1237.6 2865.4 1244.1C2864.7 1250.6 2863.9 1257.2 2863 1263.7C2862.2 1270.3 2861.1 1276.8 2860.2 1283.3C2859.2 1289.9 2858.3 1296.4 2857.2 1302.9C2856.2 1309.5 2855.2 1316 2854.1 1322.5C2853.1 1329.1 2852 1335.6 2851 1342.1C2849.9 1348.7 2848.9 1355.2 2847.8 1361.7C2846.8 1368.3 2845.8 1374.8 2844.7 1381.4C2843.7 1387.9 2842.6 1394.4 2841.5 1401C2840.5 1407.5 2839.4 1414 2838.4 1420.6C2837.3 1427.1 2836.3 1433.6 2835.2 1440.2C2834.1 1446.7 2833 1453.2 2831.9 1459.8C2830.8 1466.3 2829.7 1472.8 2828.5 1479.4C2827.4 1485.9 2826.3 1492.5 2825.2 1499C2824 1505.5 2822.8 1512.1 2821.6 1518.6C2820.5 1525.1 2818.7 1534.9 2818.1 1538.2M2492.2 165.8C2494 169.1 2499.2 178.9 2502.7 185.4C2506.3 191.9 2509.8 198.5 2513.3 205C2516.8 211.5 2520.3 218.1 2523.8 224.6C2527.3 231.2 2530.9 237.7 2534.4 244.2C2537.8 250.8 2541.2 257.3 2544.7 263.8C2548.1 270.4 2551.5 276.9 2554.9 283.4C2558.4 290 2561.8 296.5 2565.2 303C2568.6 309.6 2572.1 316.1 2575.5 322.6C2578.8 329.2 2582.1 335.7 2585.3 342.3C2588.6 348.8 2591.8 355.3 2595 361.9C2598.3 368.4 2601.4 374.9 2604.6 381.5C2607.9 388 2611.1 394.5 2614.3 401.1C2617.6 407.6 2620.9 414.1 2624.2 420.7C2627.5 427.2 2630.9 433.7 2634.4 440.3C2638 446.8 2641.9 453.4 2645.5 459.9C2649.1 466.4 2652.6 473 2656.1 479.5C2659.6 486 2663.1 492.6 2666.5 499.1C2669.9 505.6 2673.1 512.2 2676.4 518.7C2679.7 525.2 2683 531.8 2686.4 538.3C2689.8 544.8 2693.2 551.4 2696.6 557.9C2699.9 564.4 2703.2 571 2706.4 577.5C2709.7 584.1 2713 590.6 2716.1 597.1C2719.3 603.7 2722.3 610.2 2725.3 616.7C2728.4 623.3 2731.4 629.8 2734.4 636.3C2737.4 642.9 2740.4 649.4 2743.3 655.9C2746.3 662.5 2749.2 669 2752 675.5C2754.9 682.1 2757.8 688.6 2760.5 695.2C2763.3 701.7 2766 708.2 2768.6 714.8C2771.3 721.3 2773.9 727.8 2776.5 734.4C2779.1 740.9 2781.6 747.4 2784.2 754C2786.8 760.5 2789.4 767 2791.9 773.6C2794.4 780.1 2796.8 786.6 2799.2 793.2C2801.7 799.7 2804 806.3 2806.4 812.8C2808.7 819.3 2811 825.9 2813.3 832.4C2815.7 838.9 2817.9 845.5 2820.3 852C2822.7 858.5 2825.2 865.1 2827.6 871.6C2829.9 878.1 2832.3 884.7 2834.6 891.2C2836.9 897.7 2839.4 904.3 2841.5 910.8C2843.5 917.4 2845.1 923.9 2846.8 930.4C2848.5 937 2850.3 943.5 2851.8 950C2853.3 956.6 2854.6 963.1 2856 969.6C2857.3 976.2 2858.7 982.7 2860 989.2C2861.2 995.8 2862.4 1002.3 2863.6 1008.8C2864.7 1015.4 2865.8 1021.9 2866.7 1028.5C2867.7 1035 2868.7 1041.5 2869.5 1048.1C2870.3 1054.6 2871 1061.1 2871.6 1067.7C2872.3 1074.2 2872.9 1080.7 2873.4 1087.3C2874 1093.8 2874.4 1100.3 2874.7 1106.9C2875 1113.4 2875.3 1119.9 2875.4 1126.5C2875.6 1133 2875.7 1139.6 2875.6 1146.1C2875.6 1152.6 2875.3 1159.2 2875.1 1165.7C2874.9 1172.2 2874.6 1178.8 2874.3 1185.3C2874 1191.8 2873.8 1198.4 2873.3 1204.9C2872.9 1211.4 2872.1 1218 2871.5 1224.5C2870.9 1231 2870.3 1237.6 2869.7 1244.1C2869 1250.6 2868.3 1257.2 2867.5 1263.7C2866.6 1270.3 2865.6 1276.8 2864.7 1283.3C2863.7 1289.9 2862.8 1296.4 2861.8 1302.9C2860.8 1309.5 2859.8 1316 2858.8 1322.5C2857.8 1329.1 2856.7 1335.6 2855.7 1342.1C2854.7 1348.7 2853.7 1355.2 2852.7 1361.7C2851.6 1368.3 2850.6 1374.8 2849.6 1381.4C2848.6 1387.9 2847.5 1394.4 2846.5 1401C2845.5 1407.5 2844.4 1414 2843.4 1420.6C2842.3 1427.1 2841.3 1433.6 2840.2 1440.2C2839.2 1446.7 2838.1 1453.2 2837 1459.8C2835.9 1466.3 2834.8 1472.8 2833.7 1479.4C2832.6 1485.9 2831.5 1492.5 2830.4 1499C2829.3 1505.5 2828.1 1512.1 2826.9 1518.6C2825.8 1525.1 2824.1 1534.9 2823.5 1538.2M2498 165.8C2499.7 169.1 2505 178.9 2508.4 185.4C2511.9 191.9 2515.4 198.5 2518.9 205C2522.3 211.5 2525.8 218.1 2529.3 224.6C2532.8 231.2 2536.3 237.7 2539.7 244.2C2543.2 250.8 2546.5 257.3 2549.9 263.8C2553.3 270.4 2556.7 276.9 2560.1 283.4C2563.4 290 2566.8 296.5 2570.2 303C2573.6 309.6 2577 316.1 2580.3 322.6C2583.6 329.2 2586.8 335.7 2590 342.3C2593.3 348.8 2596.4 355.3 2599.6 361.9C2602.8 368.4 2606 374.9 2609.2 381.5C2612.3 388 2615.6 394.5 2618.8 401.1C2622 407.6 2625.3 414.1 2628.6 420.7C2631.9 427.2 2635.2 433.7 2638.7 440.3C2642.3 446.8 2646.2 453.4 2649.8 459.9C2653.4 466.4 2656.8 473 2660.3 479.5C2663.7 486 2667.2 492.6 2670.6 499.1C2673.9 505.6 2677.1 512.2 2680.4 518.7C2683.7 525.2 2687 531.8 2690.3 538.3C2693.7 544.8 2697.1 551.4 2700.5 557.9C2703.8 564.4 2707 571 2710.3 577.5C2713.5 584.1 2716.8 590.6 2720 597.1C2723.1 603.7 2726.1 610.2 2729.1 616.7C2732.1 623.3 2735.1 629.8 2738.1 636.3C2741.1 642.9 2744.1 649.4 2747 655.9C2750 662.5 2752.9 669 2755.7 675.5C2758.6 682.1 2761.4 688.6 2764.2 695.2C2767 701.7 2769.6 708.2 2772.3 714.8C2774.9 721.3 2777.5 727.8 2780.1 734.4C2782.7 740.9 2785.2 747.4 2787.8 754C2790.4 760.5 2792.9 767 2795.4 773.6C2797.9 780.1 2800.4 786.6 2802.8 793.2C2805.2 799.7 2807.6 806.3 2809.9 812.8C2812.3 819.3 2814.6 825.9 2816.9 832.4C2819.2 838.9 2821.5 845.5 2823.8 852C2826.2 858.5 2828.7 865.1 2831 871.6C2833.4 878.1 2835.8 884.7 2838.1 891.2C2840.4 897.7 2842.9 904.3 2844.9 910.8C2846.9 917.4 2848.5 923.9 2850.2 930.4C2851.9 937 2853.7 943.5 2855.2 950C2856.7 956.6 2858 963.1 2859.4 969.6C2860.7 976.2 2862.1 982.7 2863.4 989.2C2864.6 995.8 2865.9 1002.3 2867 1008.8C2868.2 1015.4 2869.2 1021.9 2870.2 1028.5C2871.2 1035 2872.2 1041.5 2873.1 1048.1C2873.9 1054.6 2874.6 1061.1 2875.3 1067.7C2876 1074.2 2876.7 1080.7 2877.2 1087.3C2877.8 1093.8 2878.2 1100.3 2878.6 1106.9C2879 1113.4 2879.3 1119.9 2879.5 1126.5C2879.6 1133 2879.8 1139.6 2879.7 1146.1C2879.7 1152.6 2879.4 1159.2 2879.2 1165.7C2879 1172.2 2878.7 1178.8 2878.4 1185.3C2878.1 1191.8 2877.9 1198.4 2877.4 1204.9C2877 1211.4 2876.2 1218 2875.6 1224.5C2875 1231 2874.5 1237.6 2873.8 1244.1C2873.2 1250.6 2872.5 1257.2 2871.7 1263.7C2870.9 1270.3 2869.9 1276.8 2869 1283.3C2868.1 1289.9 2867.2 1296.4 2866.2 1302.9C2865.3 1309.5 2864.2 1316 2863.3 1322.5C2862.3 1329.1 2861.3 1335.6 2860.3 1342.1C2859.3 1348.7 2858.3 1355.2 2857.3 1361.7C2856.3 1368.3 2855.3 1374.8 2854.3 1381.4C2853.3 1387.9 2852.2 1394.4 2851.2 1401C2850.2 1407.5 2849.2 1414 2848.1 1420.6C2847.1 1427.1 2846.1 1433.6 2845.1 1440.2C2844 1446.7 2842.9 1453.2 2841.9 1459.8C2840.8 1466.3 2839.7 1472.8 2838.7 1479.4C2837.6 1485.9 2836.5 1492.5 2835.4 1499C2834.3 1505.5 2833.1 1512.1 2832 1518.6C2830.9 1525.1 2829.2 1534.9 2828.6 1538.2M2503.5 165.8C2510.7 179.5 2533 221.2 2546.9 248.2C2560.9 275.1 2575.4 303.4 2587.4 327.5C2599.4 351.6 2610.2 374.9 2618.9 392.8C2627.6 410.6 2633.5 422.8 2639.6 434.5C2645.7 446.2 2649.9 452.7 2655.4 462.8C2660.9 472.8 2666.5 483.5 2672.4 495C2678.3 506.5 2684.9 520.3 2690.7 531.8C2696.5 543.2 2701.4 552.3 2707.2 563.8C2712.9 575.2 2718.6 586.4 2725.3 600.5C2732 614.6 2740.7 634 2747.3 648.5C2753.8 663 2759.6 676 2764.4 687.2C2769.3 698.5 2772.3 706.2 2776.4 716.2C2780.4 726.3 2784.5 736.8 2788.7 747.5C2792.9 758.2 2797.2 769.1 2801.5 780.5C2805.8 791.9 2810.2 804.2 2814.4 815.8C2818.5 827.3 2822.6 839.3 2826.4 850C2830.3 860.7 2833.9 870 2837.5 880C2841 890 2844.7 899.3 2848 910C2851.3 920.7 2854.4 932.5 2857.2 944.2C2860.1 956 2862.6 968.6 2865 980.8C2867.5 992.9 2869.9 1005 2871.9 1017.2C2874 1029.5 2875.9 1042 2877.4 1054C2879 1066 2880.1 1078.4 2881.1 1089C2882 1099.6 2882.7 1107.5 2883.2 1117.8C2883.7 1128 2884.1 1136.5 2883.8 1150.5C2883.5 1164.5 2882.9 1184.2 2881.7 1202C2880.5 1219.8 2878.4 1241.6 2876.7 1257.5C2875 1273.4 2873.1 1284.5 2871.3 1297.2C2869.5 1310 2868 1319.4 2865.8 1334.2C2863.6 1349.1 2860.8 1368.2 2858 1386.5C2855.2 1404.8 2851.9 1426.1 2849.1 1444C2846.3 1461.9 2843.7 1478.1 2841.1 1493.8C2838.5 1509.5 2834.8 1530.8 2833.5 1538.2M2119.8 165.8C2114 171.8 2096.2 188.9 2084.8 201.6C2073.5 214.3 2063.3 226.9 2051.7 241.9C2040.1 256.9 2027.1 274.8 2015.3 291.7C2003.5 308.6 1990.9 327.3 1981 343.4C1971 359.5 1963.5 373.9 1955.6 388.2C1947.6 402.5 1940.7 415.8 1933.2 429.3C1925.7 442.8 1917.9 455.3 1910.6 469.1C1903.2 483 1895.7 497.3 1889.2 512.4C1882.7 527.6 1876 545.4 1871.6 560.3C1867.1 575.1 1863.9 588.6 1862.3 601.6C1860.8 614.6 1861 624.9 1862.4 638.2C1863.9 651.4 1866.6 665.2 1871 681.1C1875.5 697 1882 715.3 1889.2 733.6C1896.4 751.9 1905.4 772.4 1914 790.8C1922.6 809.3 1931.5 828 1940.7 844.3C1949.9 860.5 1959 875.3 1969.3 888.2C1979.7 901.1 1990.2 911.5 2002.7 921.5C2015.3 931.6 2029 939.5 2044.7 948.2C2060.4 957 2079.7 965.4 2097.2 974C2114.7 982.6 2133.7 991.1 2149.7 999.8C2165.6 1008.6 2179.4 1016.7 2192.6 1026.5C2205.8 1036.4 2217.1 1046.4 2229.1 1058.7C2241 1070.9 2252.6 1084.2 2264.2 1100C2275.7 1115.9 2288.3 1135.2 2298.3 1153.9C2308.3 1172.6 2317.5 1193.5 2324.3 1212.3C2331 1231.1 2334.9 1248.3 2338.7 1266.8C2342.5 1285.3 2344.4 1303.9 2346.9 1323.5C2349.5 1343 2351.7 1362.6 2354.1 1384.2C2356.5 1405.9 2359 1427.5 2361.3 1453.2C2363.5 1478.9 2366.6 1524 2367.7 1538.2M2040.6 165.8C2036.1 170.8 2023.3 184.4 2013.8 195.8C2004.4 207.2 1995.7 219.1 1984.1 234.2C1972.6 249.4 1958.6 267.6 1944.4 286.9C1930.2 306.1 1913.9 327.5 1898.8 349.8C1883.7 372 1868.2 397.1 1853.9 420.2C1839.7 443.4 1825.9 467.5 1813.4 488.4C1800.9 509.2 1790.8 525.5 1778.9 545.5C1767 565.5 1755.8 583.3 1742 608.4C1728.1 633.4 1711.7 663.8 1695.8 695.8C1679.8 727.8 1661.6 766.8 1646.2 800.3C1630.8 833.8 1615.5 868.4 1603.4 896.8C1591.2 925.2 1580.9 949.2 1573.4 970.8C1565.9 992.3 1561.1 1009.4 1558.1 1026.1C1555.2 1042.8 1554.3 1056 1555.7 1070.9C1557.1 1085.8 1559.8 1100.2 1566.6 1115.7C1573.4 1131.2 1583.7 1149.8 1596.7 1163.8C1609.6 1177.8 1627.3 1191.8 1644.1 1199.6C1660.8 1207.4 1679.5 1209.7 1697.3 1210.5C1715 1211.4 1732.2 1207.4 1750.5 1204.7C1768.8 1201.9 1787.2 1197.3 1807.2 1194.1C1827.2 1190.9 1849.5 1187.4 1870.6 1185.3C1891.7 1183.2 1914.2 1181.8 1934 1181.5C1953.8 1181.2 1972.4 1182 1989.5 1183.8C2006.6 1185.5 2021.4 1187.8 2036.7 1192C2052 1196.2 2066 1201.3 2081.2 1209C2096.4 1216.7 2113 1226.8 2127.9 1238.2C2142.8 1249.7 2158 1262.9 2170.5 1277.7C2183.1 1292.5 2193.8 1309.3 2203.1 1327.2C2212.4 1345 2219.5 1363.8 2226.4 1384.8C2233.2 1405.8 2238.3 1427.6 2244.2 1453.2C2250.2 1478.8 2258.9 1524 2261.8 1538.2M1989.4 165.8C1984 170.8 1967.8 184.5 1956.8 195.8C1945.7 207.1 1936 218.7 1923 233.8C1910 248.8 1895.1 266.7 1878.7 285.9C1862.3 305.2 1843.5 325.9 1824.5 349.4C1805.4 372.8 1785.1 398.1 1764.4 426.6C1743.7 455 1721 488.6 1700.2 520C1679.5 551.4 1657.5 586.3 1639.6 615C1621.7 643.7 1606.6 669.1 1592.8 692.4C1579 715.7 1569.1 733.4 1557 754.8C1544.9 776.1 1531.8 799.2 1520 820.2C1508.2 841.2 1495.6 864 1486.3 880.8C1477.1 897.5 1470.9 908.2 1464.5 920.5C1458.1 932.8 1453.2 941.1 1447.9 954.3C1442.5 967.6 1437.2 982.9 1432.6 1000.1C1428 1017.3 1424.2 1037.7 1420.4 1057.4C1416.6 1077.1 1413.3 1098.1 1409.7 1118.5C1406.1 1138.8 1402.2 1159.8 1399 1179.5C1395.8 1199.2 1392.5 1219 1390.4 1236.8C1388.3 1254.7 1386.8 1270.7 1386.2 1286.7C1385.6 1302.8 1385.8 1317.6 1386.7 1333.1C1387.5 1348.6 1389.5 1364.2 1391.4 1379.7C1393.3 1395.2 1395.9 1411.2 1398.1 1426.3C1400.3 1441.3 1402.6 1456.5 1404.5 1469.9C1406.3 1483.3 1407.8 1495.3 1409.1 1506.6C1410.4 1518 1411.5 1532.9 1412 1538.2M1907.9 166.5C1904 169.3 1894.3 174.7 1884.6 183.3C1874.9 191.9 1863.7 205.4 1849.6 218.2C1835.5 231 1816.6 246.4 1800 260C1783.4 273.6 1768.1 285.6 1750 300C1731.9 314.4 1705 335.6 1691.3 346.1C1677.6 356.6 1675.7 357.4 1668 363C1660.3 368.6 1652.2 375.2 1645 380C1637.8 384.8 1631.5 388.5 1625 392C1618.5 395.5 1611.8 398.3 1606 401C1600.2 403.7 1594.8 406.6 1590 408C1585.2 409.4 1580.6 412.8 1577 409.5C1573.4 406.2 1571.4 398.8 1568.5 388.2C1565.6 377.6 1562.6 357.8 1559.7 346.1C1556.8 334.4 1555 325.7 1550.9 318C1546.8 310.3 1540.8 304.1 1535 300C1529.2 295.9 1522.5 294.6 1515.8 293.4C1509.1 292.2 1500.8 292.4 1495 293C1489.2 293.6 1485.4 293.3 1480.7 297C1476 300.7 1470.8 306.8 1467 315C1463.2 323.2 1462.1 329.8 1457.9 346.1C1453.7 362.4 1445.2 385.3 1442 412.8C1438.8 440.3 1438.9 486.5 1438.5 511C1438.1 535.5 1439.3 545 1439.5 560C1439.7 575 1440 587.5 1439.5 601C1439 614.5 1438.2 623 1436.4 640.8C1434.6 658.6 1431.6 684.1 1428.8 708C1426 731.9 1422.4 764 1419.6 784.3C1416.8 804.6 1414.3 812.2 1412 830C1409.7 847.8 1407.4 873.6 1405.9 891.1C1404.4 908.6 1404.3 920 1403 935C1401.7 950 1400.3 960.7 1398.2 981.1C1396.1 1001.5 1394.1 1034.5 1390.6 1057.4C1387 1080.3 1380.7 1100.7 1376.9 1118.5C1373.1 1136.3 1370.2 1146.5 1367.7 1164.3C1365.2 1182.1 1363.7 1207.7 1361.6 1225.3C1359.5 1242.9 1356.8 1257.3 1355 1270C1353.2 1282.7 1352.3 1288.6 1350.7 1301.5C1349.1 1314.4 1346.5 1333.3 1345.2 1347.2C1343.9 1361.1 1343.4 1373.8 1343 1385C1342.6 1396.2 1342.6 1405.7 1343 1414.6C1343.4 1423.5 1344.2 1431 1345.4 1438.3C1346.6 1445.6 1347.7 1451.9 1350.1 1458.4C1352.5 1464.9 1356.6 1470.8 1359.6 1477.3C1362.6 1483.8 1365.3 1491.1 1367.9 1497.4C1370.5 1503.7 1372.7 1508.4 1375 1515.2C1377.3 1522 1380.4 1534.4 1381.5 1538.2M1370.8 165.8C1371.3 180.1 1372.8 222 1373.8 251.6C1374.8 281.2 1375.9 315.2 1376.9 343.2C1377.9 371.2 1378.9 394.1 1379.9 419.5C1380.9 444.9 1382.4 474.1 1383 495.9C1383.6 517.6 1383.7 527.4 1383.6 550C1383.5 572.6 1382.8 602.7 1382.4 631.6C1382.1 660.5 1381.7 692.7 1381.5 723.2C1381.3 753.7 1381.3 789.3 1381.5 814.8C1381.7 840.2 1382.4 856.7 1382.4 875.9C1382.4 895.1 1382.9 909.9 1381.5 930C1380.1 950.1 1376.6 975.1 1373.8 996.3C1371 1017.5 1367.8 1037 1364.7 1057.4C1361.7 1077.8 1358 1102.2 1355.5 1118.5C1353 1134.8 1351.8 1139.8 1349.8 1155C1347.8 1170.2 1346 1191.6 1343.4 1209.9C1340.8 1228.2 1337.2 1246.5 1334.2 1264.8C1331.2 1283.1 1328.1 1304.5 1325.1 1319.8C1322 1335.1 1318.4 1345.5 1315.9 1356.4C1313.4 1367.3 1311.7 1376.3 1309.9 1385C1308.1 1393.7 1306.9 1400.8 1305.1 1408.7C1303.3 1416.6 1300.9 1424.4 1299.2 1432.3C1297.5 1440.2 1296.3 1448.1 1295.1 1456C1293.9 1463.9 1292.7 1471.8 1292.1 1479.7C1291.5 1487.6 1291.1 1496.4 1291.5 1503.3C1291.9 1510.2 1293.2 1515.3 1294.5 1521.1C1295.8 1526.9 1298.4 1535.3 1299.2 1538.2M1339.6 165.8C1340.2 180.1 1341.9 222 1343.3 251.6C1344.7 281.2 1346.6 315.2 1347.9 343.2C1349.2 371.2 1350.2 394.1 1350.9 419.5C1351.7 444.9 1352 475 1352.4 495.9C1352.8 516.8 1353.1 522.4 1353.5 545C1353.9 567.6 1354.1 601.9 1354.9 631.6C1355.7 661.3 1357.1 697.8 1358.5 723.2C1359.9 748.7 1362.1 763.9 1363.1 784.3C1364.1 804.6 1365 827.5 1364.7 845.3C1364.5 863.1 1362.8 877 1361.6 891.1C1360.4 905.2 1359 919.1 1357.5 930C1356 940.9 1354.2 943 1352.5 956.6C1350.8 970.2 1348.8 993.2 1347.1 1011.5C1345.4 1029.8 1343.9 1051.2 1342.5 1066.5C1341.1 1081.8 1340.3 1088 1338.8 1103.1C1337.3 1118.2 1335.8 1139.2 1333.5 1157C1331.2 1174.8 1328 1191.9 1325.1 1209.9C1322.2 1227.9 1319.2 1246.5 1315.9 1264.8C1312.6 1283.1 1308.7 1304.5 1305 1319.8C1301.3 1335.1 1297.5 1345.2 1294 1356.4C1290.5 1367.6 1286.3 1378.3 1284 1387C1281.7 1395.7 1281.5 1401.5 1280.3 1408.7C1279.1 1415.9 1277.9 1424.8 1276.7 1430C1275.5 1435.2 1273.6 1438.3 1273 1440M1312.5 165.8C1313.3 177.1 1315.8 213.2 1317.3 233.7C1318.8 254.2 1320.1 270.6 1321.4 288.6C1322.7 306.7 1324.1 326.6 1324.9 342C1325.7 357.4 1325.8 367.8 1326.2 381.2C1326.7 394.6 1327.2 408.7 1327.6 422.4C1327.9 436.1 1327.9 449.9 1328.3 463.6C1328.7 477.3 1329.2 491.2 1329.7 504.8C1330.2 518.4 1330 526.4 1331 545C1332 563.6 1333.8 591.7 1335.6 616.3C1337.4 640.9 1340 671.3 1341.8 692.7C1343.5 714.1 1345.2 727 1346.1 744.9C1347 762.8 1347.4 781.5 1347.1 799.8C1346.8 818.1 1345.5 836.5 1344.3 854.8C1343.1 873.1 1341.5 889.7 1339.7 909.7C1337.9 929.7 1335.1 954.9 1333.3 974.9C1331.5 994.9 1330.3 1011.5 1328.8 1029.8C1327.3 1048.1 1325.7 1069.5 1324.2 1084.8C1322.7 1100.1 1321.1 1109.4 1319.6 1121.4C1318.1 1133.4 1317 1142.2 1315 1157C1313 1171.8 1310.6 1191.9 1307.7 1209.9C1304.8 1227.9 1300.8 1249.5 1297.6 1264.8C1294.4 1280.1 1291.2 1290.8 1288.5 1301.5C1285.8 1312.2 1283.8 1321.5 1281.2 1328.9C1278.6 1336.3 1274.4 1343.2 1273 1346M1285.7 165.8C1286.8 177.1 1290.6 213.2 1292.6 233.7C1294.5 254.2 1296 270.6 1297.4 288.6C1298.8 306.7 1299.9 326.6 1300.8 342C1301.7 357.4 1302.3 367.8 1302.9 381.2C1303.5 394.6 1303.6 408.7 1304.3 422.4C1305 436.1 1306.1 449.9 1307 463.6C1307.9 477.3 1309 491.7 1309.8 504.8C1310.6 518 1310.8 531.6 1311.8 542.5C1312.8 553.4 1314.8 560.8 1315.9 569.9C1317.1 579 1317.8 588.2 1318.7 597.4C1319.6 606.5 1320.5 615.6 1321.4 624.8C1322.3 633.9 1323.4 643.1 1324.2 652.3C1325 661.5 1325.7 671.8 1326.2 679.8C1326.8 687.8 1326.9 689.1 1327.5 700C1328.1 710.9 1329.3 728.3 1329.7 744.9C1330.1 761.5 1330.3 781.5 1329.7 799.8C1329.1 818.1 1327.4 836.5 1326 854.8C1324.6 873.1 1322.3 898.5 1321.4 909.7C1320.5 920.9 1321.2 911.1 1320.5 922C1319.8 932.9 1318.3 956.9 1316.9 974.9C1315.5 992.9 1313.8 1011.5 1312.3 1029.8C1310.8 1048.1 1309.2 1069.5 1307.7 1084.8C1306.2 1100.1 1304.8 1109.4 1303.1 1121.4C1301.4 1133.4 1299.7 1142.2 1297.6 1157C1295.5 1171.8 1292.7 1195 1290.3 1209.9C1287.9 1224.8 1285.1 1235.8 1283 1246.5C1280.9 1257.2 1279.2 1267.6 1277.5 1274C1275.8 1280.4 1273.8 1283.2 1273 1285M1273 213C1273.4 213.7 1274.4 209.2 1275.4 217.2C1276.4 225.2 1277.8 246.9 1278.9 261.1C1280.1 275.3 1281.5 289.2 1282.3 302.3C1283.1 315.4 1283.7 326.9 1284 340C1284.3 353.1 1284.1 367.5 1284.4 381.2C1284.7 394.9 1285 408.7 1285.7 422.4C1286.4 436.1 1287.3 449.9 1288.5 463.6C1289.7 477.3 1291.2 491.7 1292.6 504.8C1294 518 1295.3 531.6 1296.7 542.5C1298.1 553.4 1299.5 560.8 1300.8 569.9C1302.1 579 1303.3 588.2 1304.3 597.4C1305.3 606.5 1306.1 615.6 1307 624.8C1307.9 633.9 1309 643.1 1309.8 652.3C1310.6 661.5 1311.2 671.8 1311.8 679.8C1312.4 687.8 1312.8 689.1 1313.5 700C1314.2 710.9 1315.8 728.3 1315.9 744.9C1316 761.5 1315.2 781.5 1314.1 799.8C1313 818.1 1310.9 836.5 1309.5 854.8C1308.1 873.1 1306.7 898 1305.9 909.7C1305.1 921.4 1305.4 914.1 1304.6 925C1303.8 935.9 1302.6 957.4 1301.3 974.9C1300 992.4 1298.4 1011.5 1296.7 1029.8C1295 1048.1 1292.9 1069.5 1291.2 1084.8C1289.5 1100.1 1288 1109.7 1286.6 1121.4C1285.1 1133.1 1284.1 1143.6 1282.5 1155C1280.9 1166.4 1278.6 1181.5 1277 1190C1275.4 1198.5 1273.7 1203.3 1273 1206M1273 503C1273.3 503.3 1274 498.4 1274.7 505C1275.5 511.6 1276.3 531.7 1277.5 542.5C1278.7 553.3 1280.2 560.8 1281.6 569.9C1283 579 1284.3 588.2 1285.7 597.4C1287.1 606.5 1288.4 615.6 1289.8 624.8C1291.2 633.9 1292.7 643.1 1294 652.3C1295.3 661.5 1296.5 671.8 1297.4 679.8C1298.3 687.8 1299 689.1 1299.5 700C1300 710.9 1300.7 728.3 1300.4 744.9C1300.1 761.5 1298.7 781.5 1297.6 799.8C1296.5 818.1 1295.1 836.5 1294 854.8C1292.9 873.1 1291.8 898 1291.2 909.7C1290.6 921.4 1290.9 914.1 1290.3 925C1289.7 935.9 1288.8 957.4 1287.6 974.9C1286.4 992.4 1284.5 1014.5 1283 1029.8C1281.5 1045.1 1280.1 1055.6 1278.4 1066.5C1276.7 1077.4 1273.9 1090.2 1273 1095M1273 628C1273.4 628.6 1274.4 626.5 1275.4 631.7C1276.4 636.9 1277.9 649.5 1278.9 659.2C1279.9 668.9 1280.8 675.7 1281.6 690C1282.3 704.3 1283.3 726.6 1283.4 744.9C1283.5 763.2 1282.6 781.5 1282.1 799.8C1281.6 818.1 1280.8 836.5 1280.2 854.8C1279.6 873.1 1278.9 897.5 1278.4 909.7C1278 921.9 1277.8 922.1 1277.5 928C1277.2 933.9 1277.2 938.8 1276.5 945C1275.8 951.2 1273.6 961.7 1273 965M2204.8 332.4C2208.2 320.9 2212.3 310.9 2218.4 303.2C2224.5 295.6 2232.7 289.9 2241.2 286.2C2249.8 282.6 2260.4 281.2 2270 281.5C2279.6 281.8 2289.8 284 2298.8 288C2307.7 292 2315.7 298.3 2323.9 305.2C2332.1 312.2 2339 320.8 2347.8 329.9C2356.6 339 2366.9 349.4 2376.8 360.1C2386.7 370.7 2398.5 383.4 2407.1 393.5C2415.7 403.7 2421.6 412.2 2428.4 421.1C2435.2 429.9 2440.3 436.7 2448 446.4C2455.7 456.1 2466.1 468.4 2474.5 479C2482.9 489.6 2491.6 500.6 2498.7 510.2C2505.7 519.9 2511 527.5 2517.1 536.8C2523.1 546 2528.9 555.5 2535 565.8C2541 576 2547.1 587.1 2553.3 598.2C2559.5 609.4 2565.7 621.3 2572.1 632.8C2578.6 644.2 2585.2 655.7 2591.9 666.8C2598.6 677.8 2605.4 687.8 2612.2 699C2619.1 710.2 2626 721.7 2632.8 734.2C2639.5 746.8 2646.2 760.6 2652.8 774.2C2659.2 787.9 2665.8 802.5 2671.8 816C2677.8 829.5 2683.6 843.6 2688.8 855.2C2693.9 866.9 2698 876.3 2702.5 885.8C2707 895.2 2711.1 902 2716 911.8C2720.9 921.5 2726.9 932.5 2732.1 944C2737.4 955.5 2743 968.5 2747.5 980.8C2752 993 2755.8 1005 2759 1017.2C2762.2 1029.5 2764.7 1042 2766.6 1054C2768.6 1066 2769.8 1078.4 2770.8 1089C2771.7 1099.6 2772.1 1108.6 2772.4 1117.8C2772.6 1126.9 2772.8 1133.3 2772.1 1143.8C2771.4 1154.2 2770.8 1165.4 2768.2 1180.5C2765.7 1195.6 2762 1215 2757 1234.2C2752 1253.5 2744.9 1275.8 2738 1296C2731.1 1316.2 2723.1 1337.1 2715.8 1355.5C2708.4 1373.9 2700.7 1392 2693.8 1406.5C2686.8 1421 2680.2 1432.8 2674.2 1442.5C2668.3 1452.2 2664 1458.3 2658.1 1464.8C2652.1 1471.3 2646.8 1476.6 2638.7 1481.5C2630.5 1486.4 2620.4 1491 2609.2 1494.4C2598 1497.8 2584.2 1499.7 2571.3 1501.9C2558.5 1504.2 2543.8 1506.8 2532 1508C2520.2 1509.2 2509.1 1510.8 2500.5 1509.3C2491.9 1507.8 2486.2 1504.3 2480.4 1498.9C2474.6 1493.5 2470.5 1486.7 2465.7 1476.8C2460.8 1466.8 2455.6 1454.3 2451.2 1438.9C2446.7 1423.5 2442.3 1403.5 2438.9 1384.2C2435.5 1365 2433.1 1343.7 2430.5 1323.5C2427.8 1303.2 2425.9 1284 2422.9 1262.8C2419.9 1241.6 2416.4 1218.7 2412.4 1196.3C2408.5 1173.9 2403.4 1148 2399.3 1128.5C2395.2 1109 2391.6 1093.4 2388 1079.3C2384.4 1065.2 2381.9 1057.1 2377.7 1043.7C2373.4 1030.3 2368.8 1015.6 2362.4 998.9C2356.1 982.2 2348.1 962.3 2339.6 943.5C2331 924.8 2320.6 905.4 2310.9 886.3C2301.2 867.2 2290.6 848.1 2281.4 829C2272.1 809.9 2263.2 790.9 2255.6 771.8C2248 752.7 2241.3 733.6 2235.6 714.5C2229.8 695.4 2225.2 676.3 2221.2 657.3C2217.2 638.2 2214.4 619.5 2211.4 600.3C2208.5 581.1 2205.9 561.9 2203.7 542C2201.5 522.1 2199.4 500.9 2198.1 481C2196.9 461.1 2196.2 440.5 2196.2 422.4C2196.2 404.3 2196.7 387.3 2198.1 372.3C2199.6 357.3 2201.4 343.9 2204.8 332.4Z" fill="none" stroke="#000" stroke-opacity="0.72" stroke-width="4.2" stroke-linejoin="round"/>
</g>
<g clip-path="url(#pc)">
<polyline points="1513.3,1342.1 1521.5,1320 1529.5,1300 1537,1278 1586,1153.7 1651.4,1002.4 1716.9,861.3 1777.3,713.9 1810.2,649.8 1853,561.2 1889.6,503.2 1926.3,457.4 1978.2,417.7 2017.9,390.2 2069.8,368.9 2097.3,362.7 2161.4,362.7 2198,371.3 2256,390.2 2286.6,408.5 2329.3,445.2 2369,491 2405.6,539.8 2420.9,564.3 2432.3,588.3 2464.1,641.2 2483.4,671.2 2515.4,739.6 2528.3,761 2547.5,799.4 2566.7,833.6 2583.8,876.4 2609.5,927.7 2630.9,970.4 2643.7,1015.3 2673.6,1043.1 2692.9,1060.2 2690.7,1073 2699.3,1081.6 2709.2,1088" fill="none" stroke="#ff0000" stroke-width="6" stroke-linejoin="round" stroke-linecap="round"/>
<path d="M1502.7 1304.8L1532.9 1229.2M1534.6 1243.9L1532.9 1229.2L1521.6 1238.7M1530.4 1224.2L1560.6 1158.7M1561.5 1173.4L1560.6 1158.7L1548.8 1167.6M1560.6 1151.1L1588.4 1095.7M1588.8 1110.5L1588.4 1095.7L1576.3 1104.2M1585.8 1090.6L1618.6 1022.6M1619.3 1037.4L1618.6 1022.6L1606.6 1031.3M1618.6 1017.5L1656.4 936.9M1657.2 951.6L1656.4 936.9L1644.5 945.7M1656.4 926.8L1689.2 863.8M1689.4 878.6L1689.2 863.8L1677 872.1M1691.7 856.3L1724.5 795.8M1724.5 810.6L1724.5 795.8L1712.2 803.9M1724.5 790.7L1754.7 732.8M1754.9 747.6L1754.7 732.8L1742.5 741.1M1781.2 671.1L1813.3 611.6M1813.3 626.4L1813.3 611.6L1801 619.7M1810.2 605.5L1842.3 546M1842.3 560.8L1842.3 546L1830 554.1M1845.3 538.3L1882 483.4M1880.6 498.1L1882 483.4L1869 490.3M1886.6 475.7L1935.4 429.9M1930.7 443.9L1935.4 429.9L1921.1 433.7M1940 425.3L1991.9 381.1M1986.5 394.9L1991.9 381.1L1977.5 384.2M2009.5 378L2060.6 350.5M2052.5 362.8L2060.6 350.5L2045.8 350.5M2068.2 350.5L2133.9 341.4M2122 350.1L2133.9 341.4L2120.1 336.2M2141.5 341.4L2207.2 353.6M2193.1 358.1L2207.2 353.6L2195.7 344.3M2217.9 355.1L2277.4 384.1M2262.6 384.7L2277.4 384.1L2268.8 372.1M2286.6 388.7L2336.9 433M2322.5 429.7L2336.9 433L2331.8 419.2M2344.6 439.1L2391.9 486.4M2377.8 482.2L2391.9 486.4L2387.7 472.3M2399.5 492.5L2431.6 550.5M2419.2 542.5L2431.6 550.5L2431.4 535.7M2451.3 585.7L2485.5 641.2M2472.7 633.8L2485.5 641.2L2484.6 626.5M2491.9 647.6L2523.1 705.4M2510.8 697.3L2523.1 705.4L2523.1 690.6M2526.1 714.8L2558.2 773.8M2545.8 765.7L2558.2 773.8L2558.1 759M2561.6 782.3L2593.2 841.3M2580.9 833.1L2593.2 841.3L2593.2 826.5M2595.8 850.7L2626.6 908.4M2614.3 900.2L2626.6 908.4L2626.7 893.6M2624.5 917L2655.7 974.7M2643.4 966.6L2655.7 974.7L2655.7 959.9M2658.7 981.1L2689.9 1038.8M2677.6 1030.7L2689.9 1038.8L2689.9 1024" fill="none" stroke="#e8893a" stroke-width="2.6" stroke-linejoin="miter"/>
<circle cx="1777.8" cy="714.5" r="12.3" fill="#ffa500"/>
<circle cx="2432.3" cy="588.3" r="12.3" fill="#8fd000"/>
<circle cx="2709.2" cy="1088" r="12.8" fill="#008000"/>
<path d="M1519.4 1329.8L1525.6 1336L1519.6 1342.1L1525.6 1348.2L1519.4 1354.4L1513.3 1348.4L1507.2 1354.4L1501 1348.2L1507 1342.1L1501 1336L1507.2 1329.8L1513.3 1335.8Z" fill="#ff0000"/>
<path d="M1752.8 350.5L1777.3 707.8M2458.2 338.3L2433.1 581M2545.5 1319L2705.9 1092.9M1590.3 1371.4L1519.5 1344.6" stroke="#000" stroke-width="2.6" fill="none"/>
<rect x="1446" y="226.5" width="605.3" height="118.2" rx="8" ry="8" fill="#fff" fill-opacity="0.8" stroke="#111" stroke-opacity="0.85" stroke-width="2.6"/>
<text x="1456" y="259.7" font-family="&quot;Liberation Sans&quot;, sans-serif" font-size="31.2" textLength="521.5" lengthAdjust="spacingAndGlyphs" fill="#000">reverse(d e d d d e) = e d d d e d</text>
<text x="1990.4" y="259.7" font-family="&quot;Liberation Sans&quot;, sans-serif" font-size="31.2" fill="#000">(</text>
<path d="M2006.6 251.4L2009.1 256.1" fill="none" stroke="#000" stroke-width="3.2" stroke-linecap="round"/><path d="M2007.3 255.3L2021 239.8L2022.9 241.3L2010.7 257.5Z" fill="#000"/>
<text x="2028.4" y="259.7" font-family="&quot;Liberation Sans&quot;, sans-serif" font-size="31.2" fill="#000">)</text>
<text x="1456" y="294.1" font-family="&quot;Liberation Sans&quot;, sans-serif" font-size="31.2" textLength="522.7" lengthAdjust="spacingAndGlyphs" fill="#000">reverse(d a b b d b) = b d b d a d</text>
<text x="1991.6" y="294.1" font-family="&quot;Liberation Sans&quot;, sans-serif" font-size="31.2" fill="#000">(</text>
<path d="M2023.5 272.9L2008.3 292.5" fill="none" stroke="#000" stroke-width="4.1" stroke-linecap="round"/><path d="M2012.5 273.9L2020.9 288.9" fill="none" stroke="#000" stroke-width="3.6" stroke-linecap="butt"/>
<text x="2029.6" y="294.1" font-family="&quot;Liberation Sans&quot;, sans-serif" font-size="31.2" fill="#000">)</text>
<text x="1456" y="328.3" font-family="&quot;Liberation Sans&quot;, sans-serif" font-size="31.2" textLength="508.8" lengthAdjust="spacingAndGlyphs" fill="#000">reverse(b c a c b b) = b b c c c b</text>
<text x="1978.4" y="328.3" font-family="&quot;Liberation Sans&quot;, sans-serif" font-size="31.2" fill="#000">(</text>
<path d="M2010.3 307.1L1995.1 326.7" fill="none" stroke="#000" stroke-width="4.1" stroke-linecap="round"/><path d="M1999.3 308.1L2007.7 323.1" fill="none" stroke="#000" stroke-width="3.6" stroke-linecap="butt"/>
<text x="2016.4" y="328.3" font-family="&quot;Liberation Sans&quot;, sans-serif" font-size="31.2" fill="#000">)</text>
<rect x="2165.9" y="211.7" width="604.1" height="116.7" rx="8" ry="8" fill="#fff" fill-opacity="0.8" stroke="#111" stroke-opacity="0.85" stroke-width="2.6"/>
<text x="2174.8" y="244" font-family="&quot;Liberation Sans&quot;, sans-serif" font-size="31.2" textLength="522.8" lengthAdjust="spacingAndGlyphs" fill="#000">reverse(d e d d d e) = e d d d e d</text>
<text x="2710.5" y="244" font-family="&quot;Liberation Sans&quot;, sans-serif" font-size="31.2" fill="#000">(</text>
<path d="M2726.7 235.7L2729.2 240.4" fill="none" stroke="#000" stroke-width="3.2" stroke-linecap="round"/><path d="M2727.4 239.6L2741.1 224.1L2743 225.6L2730.8 241.8Z" fill="#000"/>
<text x="2748.5" y="244" font-family="&quot;Liberation Sans&quot;, sans-serif" font-size="31.2" fill="#000">)</text>
<text x="2174.3" y="278.3" font-family="&quot;Liberation Sans&quot;, sans-serif" font-size="31.2" textLength="523.3" lengthAdjust="spacingAndGlyphs" fill="#000">reverse(d a b b d b) = b d b b a d</text>
<text x="2710.5" y="278.3" font-family="&quot;Liberation Sans&quot;, sans-serif" font-size="31.2" fill="#000">(</text>
<path d="M2726.7 270L2729.2 274.7" fill="none" stroke="#000" stroke-width="3.2" stroke-linecap="round"/><path d="M2727.4 273.9L2741.1 258.4L2743 259.9L2730.8 276.1Z" fill="#000"/>
<text x="2748.5" y="278.3" font-family="&quot;Liberation Sans&quot;, sans-serif" font-size="31.2" fill="#000">)</text>
<text x="2187" y="313" font-family="&quot;Liberation Sans&quot;, sans-serif" font-size="31.2" textLength="509.9" lengthAdjust="spacingAndGlyphs" fill="#000">reverse(b c a c b b) = b b c c c b</text>
<text x="2710.5" y="313" font-family="&quot;Liberation Sans&quot;, sans-serif" font-size="31.2" fill="#000">(</text>
<path d="M2742.4 291.8L2727.2 311.4" fill="none" stroke="#000" stroke-width="4.1" stroke-linecap="round"/><path d="M2731.4 292.8L2739.8 307.8" fill="none" stroke="#000" stroke-width="3.6" stroke-linecap="butt"/>
<text x="2748.5" y="313" font-family="&quot;Liberation Sans&quot;, sans-serif" font-size="31.2" fill="#000">)</text>
<rect x="1454.9" y="1374.4" width="603.7" height="118.8" rx="8" ry="8" fill="#fff" fill-opacity="0.8" stroke="#111" stroke-opacity="0.85" stroke-width="2.6"/>
<text x="1464" y="1408" font-family="&quot;Liberation Sans&quot;, sans-serif" font-size="31.2" textLength="522.8" lengthAdjust="spacingAndGlyphs" fill="#000">reverse(d e d d d e) = d d d d d d</text>
<text x="1999.7" y="1408" font-family="&quot;Liberation Sans&quot;, sans-serif" font-size="31.2" fill="#000">(</text>
<path d="M2031.6 1386.8L2016.4 1406.4" fill="none" stroke="#000" stroke-width="4.1" stroke-linecap="round"/><path d="M2020.6 1387.8L2029 1402.8" fill="none" stroke="#000" stroke-width="3.6" stroke-linecap="butt"/>
<text x="2037.7" y="1408" font-family="&quot;Liberation Sans&quot;, sans-serif" font-size="31.2" fill="#000">)</text>
<text x="1464" y="1442.7" font-family="&quot;Liberation Sans&quot;, sans-serif" font-size="31.2" textLength="524.1" lengthAdjust="spacingAndGlyphs" fill="#000">reverse(d a b b d b) = b b b b b d</text>
<text x="2001" y="1442.7" font-family="&quot;Liberation Sans&quot;, sans-serif" font-size="31.2" fill="#000">(</text>
<path d="M2032.9 1421.5L2017.7 1441.1" fill="none" stroke="#000" stroke-width="4.1" stroke-linecap="round"/><path d="M2021.9 1422.5L2030.3 1437.5" fill="none" stroke="#000" stroke-width="3.6" stroke-linecap="butt"/>
<text x="2039" y="1442.7" font-family="&quot;Liberation Sans&quot;, sans-serif" font-size="31.2" fill="#000">)</text>
<text x="1464" y="1477.5" font-family="&quot;Liberation Sans&quot;, sans-serif" font-size="31.2" textLength="517.1" lengthAdjust="spacingAndGlyphs" fill="#000">reverse(b c a c b b) = b b b b b b</text>
<text x="1994.7" y="1477.5" font-family="&quot;Liberation Sans&quot;, sans-serif" font-size="31.2" fill="#000">(</text>
<path d="M2026.6 1456.3L2011.4 1475.9" fill="none" stroke="#000" stroke-width="4.1" stroke-linecap="round"/><path d="M2015.6 1457.3L2024 1472.3" fill="none" stroke="#000" stroke-width="3.6" stroke-linecap="butt"/>
<text x="2032.7" y="1477.5" font-family="&quot;Liberation Sans&quot;, sans-serif" font-size="31.2" fill="#000">)</text>
<rect x="2199.9" y="1326.3" width="600.5" height="116.1" rx="8" ry="8" fill="#fff" fill-opacity="0.8" stroke="#111" stroke-opacity="0.85" stroke-width="2.6"/>
<text x="2209" y="1357.4" font-family="&quot;Liberation Sans&quot;, sans-serif" font-size="31.2" textLength="522.4" lengthAdjust="spacingAndGlyphs" fill="#000">reverse(d e d d d e) = e d d d e d</text>
<text x="2744.3" y="1357.4" font-family="&quot;Liberation Sans&quot;, sans-serif" font-size="31.2" fill="#000">(</text>
<path d="M2760.5 1349.1L2763 1353.8" fill="none" stroke="#000" stroke-width="3.2" stroke-linecap="round"/><path d="M2761.2 1353L2774.9 1337.5L2776.8 1339L2764.6 1355.2Z" fill="#000"/>
<text x="2782.3" y="1357.4" font-family="&quot;Liberation Sans&quot;, sans-serif" font-size="31.2" fill="#000">)</text>
<text x="2207.4" y="1392.7" font-family="&quot;Liberation Sans&quot;, sans-serif" font-size="31.2" textLength="524" lengthAdjust="spacingAndGlyphs" fill="#000">reverse(d a b b d b) = b d b b a d</text>
<text x="2744.3" y="1392.7" font-family="&quot;Liberation Sans&quot;, sans-serif" font-size="31.2" fill="#000">(</text>
<path d="M2760.5 1384.4L2763 1389.1" fill="none" stroke="#000" stroke-width="3.2" stroke-linecap="round"/><path d="M2761.2 1388.3L2774.9 1372.8L2776.8 1374.3L2764.6 1390.5Z" fill="#000"/>
<text x="2782.3" y="1392.7" font-family="&quot;Liberation Sans&quot;, sans-serif" font-size="31.2" fill="#000">)</text>
<text x="2218.9" y="1428" font-family="&quot;Liberation Sans&quot;, sans-serif" font-size="31.2" textLength="511.8" lengthAdjust="spacingAndGlyphs" fill="#000">reverse(b c a c b b) = b b c a c b</text>
<text x="2744.3" y="1428" font-family="&quot;Liberation Sans&quot;, sans-serif" font-size="31.2" fill="#000">(</text>
<path d="M2760.5 1419.7L2763 1424.4" fill="none" stroke="#000" stroke-width="3.2" stroke-linecap="round"/><path d="M2761.2 1423.6L2774.9 1408.1L2776.8 1409.6L2764.6 1425.8Z" fill="#000"/>
<text x="2782.3" y="1428" font-family="&quot;Liberation Sans&quot;, sans-serif" font-size="31.2" fill="#000">)</text>
<rect x="1312" y="417.4" width="317.7" height="41.8" rx="4" ry="4" fill="#fff" fill-opacity="0.8" stroke="#ccc" stroke-opacity="0.8" stroke-width="1.5"/>
<line x1="1320.4" y1="439" x2="1376.6" y2="439" stroke="#ff0000" stroke-width="5.6"/>
<text x="1394" y="447" font-family="&quot;Liberation Sans&quot;, sans-serif" font-size="25" textLength="210" lengthAdjust="spacingAndGlyphs">Repair Trajectory</text>
<rect x="1556.3" y="1287.5" width="282.5" height="49.1" rx="4" ry="4" fill="#fff" fill-opacity="0.8" stroke="#ccc" stroke-opacity="0.8" stroke-width="1.5"/>
<path d="M1585.2 1300L1591.4 1306.2L1585.4 1312.3L1591.4 1318.4L1585.2 1324.6L1579.1 1318.6L1573 1324.6L1566.8 1318.4L1572.8 1312.3L1566.8 1306.2L1573 1300L1579.1 1306Z" fill="#ff0000"/>
<text x="1624" y="1319" font-family="&quot;Liberation Sans&quot;, sans-serif" font-size="25" textLength="192" lengthAdjust="spacingAndGlyphs">Buggy Program</text>
<rect x="2356.4" y="1070.5" width="308.4" height="49" rx="4" ry="4" fill="#fff" fill-opacity="0.8" stroke="#ccc" stroke-opacity="0.8" stroke-width="1.5"/>
<circle cx="2379.4" cy="1097.1" r="12.8" fill="#008000"/>
<text x="2425" y="1104.1" font-family="&quot;Liberation Sans&quot;, sans-serif" font-size="25" textLength="223.5" lengthAdjust="spacingAndGlyphs">Repaired Program</text>
</g>
<rect x="1274.7" y="165.8" width="1674.3" height="1372.4" fill="none" stroke="#000" stroke-width="2.6"/>
<line x1="1005.7" y1="1487.1" x2="1472.3" y2="1353.4" stroke="#000" stroke-width="3.8"/>
<path d="M1497.3 1346.2L1465.3 1368.7L1472.3 1353.4L1458.2 1344.1Z" fill="#000"/>
<rect x="3053.5" y="1222.4" width="41.7" height="41.7" fill="#480a5d"/>
<rect x="3053.5" y="1181.3" width="41.7" height="41.7" fill="#4a1b6d"/>
<rect x="3053.5" y="1140.2" width="41.7" height="41.7" fill="#482a7d"/>
<rect x="3053.5" y="1099.1" width="41.7" height="41.7" fill="#453b87"/>
<rect x="3053.5" y="1058" width="41.7" height="41.7" fill="#40498b"/>
<rect x="3053.5" y="1016.9" width="41.7" height="41.7" fill="#39558c"/>
<rect x="3053.5" y="975.8" width="41.7" height="41.7" fill="#33638d"/>
<rect x="3053.5" y="934.7" width="41.7" height="41.7" fill="#2d718e"/>
<rect x="3053.5" y="893.6" width="41.7" height="41.7" fill="#287d8e"/>
<rect x="3053.5" y="852.5" width="41.7" height="41.7" fill="#238a8d"/>
<rect x="3053.5" y="811.4" width="41.7" height="41.7" fill="#1f968b"/>
<rect x="3053.5" y="770.3" width="41.7" height="41.7" fill="#20a386"/>
<rect x="3053.5" y="729.2" width="41.7" height="41.7" fill="#29af7f"/>
<rect x="3053.5" y="688.1" width="41.7" height="41.7" fill="#3dbc74"/>
<rect x="3053.5" y="647" width="41.7" height="41.7" fill="#56c667"/>
<rect x="3053.5" y="605.9" width="41.7" height="41.7" fill="#75d054"/>
<rect x="3053.5" y="564.8" width="41.7" height="41.7" fill="#95d840"/>
<rect x="3053.5" y="523.7" width="41.7" height="41.7" fill="#bade28"/>
<rect x="3053.5" y="482.6" width="41.7" height="41.7" fill="#dde318"/>
<rect x="3053.5" y="441.5" width="41.7" height="41.7" fill="#efe51d"/>
<rect x="3053.5" y="441.5" width="41.7" height="822" fill="none" stroke="#000" stroke-width="2.2"/>
<line x1="3095.2" y1="1263.5" x2="3105" y2="1263.5" stroke="#000" stroke-width="2.2"/>
<text x="3117.5" y="1274.5" font-family="&quot;Liberation Sans&quot;, sans-serif" font-size="30.5" textLength="44.5" lengthAdjust="spacingAndGlyphs">0.0</text>
<line x1="3095.2" y1="1140.2" x2="3105" y2="1140.2" stroke="#000" stroke-width="2.2"/>
<text x="3117.5" y="1151.2" font-family="&quot;Liberation Sans&quot;, sans-serif" font-size="30.5" textLength="44.5" lengthAdjust="spacingAndGlyphs">0.9</text>
<line x1="3095.2" y1="1016.9" x2="3105" y2="1016.9" stroke="#000" stroke-width="2.2"/>
<text x="3117.5" y="1027.9" font-family="&quot;Liberation Sans&quot;, sans-serif" font-size="30.5" textLength="44.5" lengthAdjust="spacingAndGlyphs">1.8</text>
<line x1="3095.2" y1="893.6" x2="3105" y2="893.6" stroke="#000" stroke-width="2.2"/>
<text x="3117.5" y="904.6" font-family="&quot;Liberation Sans&quot;, sans-serif" font-size="30.5" textLength="44.5" lengthAdjust="spacingAndGlyphs">2.7</text>
<line x1="3095.2" y1="770.3" x2="3105" y2="770.3" stroke="#000" stroke-width="2.2"/>
<text x="3117.5" y="781.3" font-family="&quot;Liberation Sans&quot;, sans-serif" font-size="30.5" textLength="44.5" lengthAdjust="spacingAndGlyphs">3.6</text>
<line x1="3095.2" y1="647" x2="3105" y2="647" stroke="#000" stroke-width="2.2"/>
<text x="3117.5" y="658" font-family="&quot;Liberation Sans&quot;, sans-serif" font-size="30.5" textLength="44.5" lengthAdjust="spacingAndGlyphs">4.5</text>
<line x1="3095.2" y1="523.7" x2="3105" y2="523.7" stroke="#000" stroke-width="2.2"/>
<text x="3117.5" y="534.7" font-family="&quot;Liberation Sans&quot;, sans-serif" font-size="30.5" textLength="44.5" lengthAdjust="spacingAndGlyphs">5.4</text>
<text transform="translate(3200.5 852) rotate(-90)" text-anchor="middle" font-family="&quot;Liberation Sans&quot;, sans-serif" font-size="30.5" textLength="258" lengthAdjust="spacingAndGlyphs">Correctness Loss</text>
<g transform="translate(47.6 0) scale(0.9739 1)" font-family="&quot;Liberation Mono&quot;, monospace" font-size="30.6" xml:space="preserve">
<text x="0" y="166.3"><tspan fill="#8959a8">def </tspan><tspan fill="#4271ae">reverse</tspan><tspan fill="#f5871f">(input)</tspan><tspan fill="#4d4d4c">:</tspan></text>
<text x="0" y="201.9"><tspan fill="#718c00">    """</tspan></text>
<text x="0" y="237.6"><tspan fill="#718c00">    Reverses a sequence.</tspan></text>
<text x="0" y="308.9"><tspan fill="#718c00">    Example usage:</tspan></text>
<text x="0" y="344.5"><tspan fill="#718c00">      reverse(H e l l o)</tspan></text>
<text x="0" y="380.1"><tspan fill="#718c00">      &gt;&gt;[o l l e H</tspan></text>
<text x="0" y="415.8"><tspan fill="#718c00">    """</tspan></text>
<text x="0" y="451.4"><tspan fill="#4d4d4c">    opp_idx = (length - rasp.indices)</tspan></text>
<text x="0" y="487.1"><tspan fill="#4d4d4c">    opp_idx = (opp_idx - </tspan><tspan fill="#f5871f">1</tspan><tspan fill="#4d4d4c">)</tspan></text>
<text x="0" y="522.7"><tspan fill="#4d4d4c">    reverse_selector = rasp.Select(</tspan></text>
<text x="0" y="558.3"><tspan fill="#4d4d4c">        </tspan><tspan fill="#e8000b" font-weight="bold">rasp.indices * -1</tspan><tspan fill="#4d4d4c">, </tspan><tspan fill="#8e908c"># bug: should be </tspan><tspan fill="#007f00" font-weight="bold">rasp.indices</tspan></text>
<text x="0" y="594"><tspan fill="#4d4d4c">        opp_idx,</tspan></text>
<text x="0" y="629.6"><tspan fill="#4d4d4c">        rasp.Comparison.EQ</tspan></text>
<text x="0" y="665.3"><tspan fill="#4d4d4c">    )</tspan></text>
<text x="0" y="700.9"><tspan fill="#4d4d4c">    reverse_aggregate = rasp.Aggregate(</tspan></text>
<text x="0" y="736.5"><tspan fill="#4d4d4c">        reverse_selector,</tspan></text>
<text x="0" y="772.2"><tspan fill="#4d4d4c">        rasp.tokens</tspan></text>
<text x="0" y="807.8"><tspan fill="#4d4d4c">    )</tspan></text>
<text x="0" y="843.5"><tspan fill="#4d4d4c">    </tspan><tspan fill="#8959a8">return</tspan><tspan fill="#4d4d4c"> reverse_aggregate(input)</tspan></text>
<text x="0" y="914.7"><tspan fill="#8e908c"># correct behavior</tspan></text>
<text x="0" y="950.4"><tspan fill="#007f00" font-weight="bold">reverse(b c a c b b) = b b c a c b</tspan></text>
<text x="0" y="986"><tspan fill="#8e908c"># buggy behavior</tspan></text>
<text x="0" y="1021.7"><tspan fill="#e8000b" font-weight="bold">reverse(b c a c b b) = b b b b b b</tspan></text>
</g>
<text transform="translate(33.5 76.3) scale(0.9986 1)" font-family="&quot;Liberation Mono&quot;, monospace" font-size="34.7" font-weight="bold" fill="#000" xml:space="preserve">a) Non-Differentiable Symbolic Program (e.g. RASP)</text>
<text transform="translate(144 1158) scale(0.9728 1)" font-family="&quot;Liberation Mono&quot;, monospace" font-size="30.6" font-weight="bold" fill="#000" xml:space="preserve">b) Compilation Symbolic to Numerical (e.g. Tracr)</text>
<text transform="translate(147.4 1207.6) scale(0.9739 1)" font-family="&quot;Liberation Mono&quot;, monospace" font-size="30.6" fill="#4d4d4c" xml:space="preserve">compile_rasp_to_model(reverse)</text>
<text transform="translate(34 1324.5) scale(0.9986 1)" font-family="&quot;Liberation Mono&quot;, monospace" font-size="34.7" font-weight="bold" fill="#000" xml:space="preserve">c) Differentiable Numerical Program (e.g. Transformer)</text>
<line x1="104.5" y1="1101.7" x2="104.5" y2="1236" stroke="#000" stroke-width="2.5"/>
<path d="M104.5 1249.2 L93.6 1227.3 L104.5 1234.5 L115.6 1227.3 Z" fill="#000"/>
<text transform="translate(428.8 1390.5) scale(0.9749 1)" font-family="&quot;Liberation Mono&quot;, monospace" font-size="30.6" fill="#000" xml:space="preserve"><tspan fill="#4d4d4c">[</tspan><tspan fill="#f5871f">0.</tspan><tspan fill="#4d4d4c">, </tspan><tspan fill="#f5871f">1.</tspan><tspan fill="#4d4d4c">, </tspan><tspan fill="#f5871f">0.</tspan><tspan fill="#4d4d4c">, ..., </tspan><tspan fill="#f5871f">0.</tspan><tspan fill="#4d4d4c">, </tspan><tspan fill="#f5871f">0.</tspan><tspan fill="#4d4d4c">, </tspan><tspan fill="#f5871f">0.</tspan><tspan fill="#4d4d4c">],</tspan></text>
<text transform="translate(428.8 1425.6) scale(0.9749 1)" font-family="&quot;Liberation Mono&quot;, monospace" font-size="30.6" fill="#000" xml:space="preserve"><tspan fill="#4d4d4c">[</tspan><tspan fill="#f5871f">0.</tspan><tspan fill="#4d4d4c">, </tspan><tspan fill="#f5871f">1.</tspan><tspan fill="#4d4d4c">, </tspan><tspan fill="#f5871f">0.</tspan><tspan fill="#4d4d4c">, ..., </tspan><tspan fill="#f5871f">0.</tspan><tspan fill="#4d4d4c">, </tspan><tspan fill="#f5871f">0.</tspan><tspan fill="#4d4d4c">, </tspan><tspan fill="#f5871f">1.</tspan><tspan fill="#4d4d4c">],</tspan></text>
<text transform="translate(428.8 1461.2) scale(0.9749 1)" font-family="&quot;Liberation Mono&quot;, monospace" font-size="30.6" fill="#000" xml:space="preserve"><tspan fill="#4d4d4c">[</tspan><tspan fill="#f5871f">1.</tspan><tspan fill="#4d4d4c">, </tspan><tspan fill="#f5871f">0.</tspan><tspan fill="#4d4d4c">, </tspan><tspan fill="#f5871f">0.</tspan><tspan fill="#4d4d4c">, ..., </tspan><tspan fill="#f5871f">0.</tspan><tspan fill="#4d4d4c">, </tspan><tspan fill="#f5871f">0.</tspan><tspan fill="#4d4d4c">, </tspan><tspan fill="#f5871f">0.</tspan><tspan fill="#4d4d4c">],</tspan></text>
<text transform="translate(428.8 1496.4) scale(0.9749 1)" font-family="&quot;Liberation Mono&quot;, monospace" font-size="30.6" fill="#000" xml:space="preserve"><tspan fill="#4d4d4c">...,</tspan></text>
<text transform="translate(428.8 1532.5) scale(0.9749 1)" font-family="&quot;Liberation Mono&quot;, monospace" font-size="30.6" fill="#000" xml:space="preserve"><tspan fill="#4d4d4c">[</tspan><tspan fill="#f5871f">0.</tspan><tspan fill="#4d4d4c">, </tspan><tspan fill="#f5871f">0.</tspan><tspan fill="#4d4d4c">, </tspan><tspan fill="#f5871f">0.</tspan><tspan fill="#4d4d4c">, ..., </tspan><tspan fill="#f5871f">0.</tspan><tspan fill="#4d4d4c">, </tspan><tspan fill="#f5871f">0.</tspan><tspan fill="#4d4d4c">, </tspan><tspan fill="#f5871f">1.</tspan><tspan fill="#4d4d4c">],</tspan></text>
<text transform="translate(428.8 1567.6) scale(0.9749 1)" font-family="&quot;Liberation Mono&quot;, monospace" font-size="30.6" fill="#000" xml:space="preserve"><tspan fill="#4d4d4c">[</tspan><tspan fill="#f5871f">0.</tspan><tspan fill="#4d4d4c">, </tspan><tspan fill="#f5871f">1.</tspan><tspan fill="#4d4d4c">, </tspan><tspan fill="#f5871f">0.</tspan><tspan fill="#4d4d4c">, ..., </tspan><tspan fill="#f5871f">0.</tspan><tspan fill="#4d4d4c">, </tspan><tspan fill="#f5871f">1.</tspan><tspan fill="#4d4d4c">, </tspan><tspan fill="#f5871f">0.</tspan><tspan fill="#4d4d4c">],</tspan></text>
<text transform="translate(428.8 1603.3) scale(0.9749 1)" font-family="&quot;Liberation Mono&quot;, monospace" font-size="30.6" fill="#000" xml:space="preserve"><tspan fill="#4d4d4c">[</tspan><tspan fill="#f5871f">0.</tspan><tspan fill="#4d4d4c">, </tspan><tspan fill="#f5871f">0.</tspan><tspan fill="#4d4d4c">, </tspan><tspan fill="#f5871f">0.</tspan><tspan fill="#4d4d4c">, ..., </tspan><tspan fill="#f5871f">1.</tspan><tspan fill="#4d4d4c">, </tspan><tspan fill="#f5871f">0.</tspan><tspan fill="#4d4d4c">, </tspan><tspan fill="#f5871f">0.</tspan><tspan fill="#4d4d4c">]</tspan></text>
<text transform="translate(227.5 1496.4) scale(0.9739 1)" font-family="&quot;Liberation Mono&quot;, monospace" font-size="30.6" fill="#4d4d4c" xml:space="preserve">reverse =</text>
<text transform="translate(1662 82) scale(0.9607 1)" font-family="&quot;Liberation Mono&quot;, monospace" font-size="51.7" font-weight="bold" fill="#000" xml:space="preserve">d) Gradient-Based Program Repair (GBPR)</text>
</svg></body></html>
